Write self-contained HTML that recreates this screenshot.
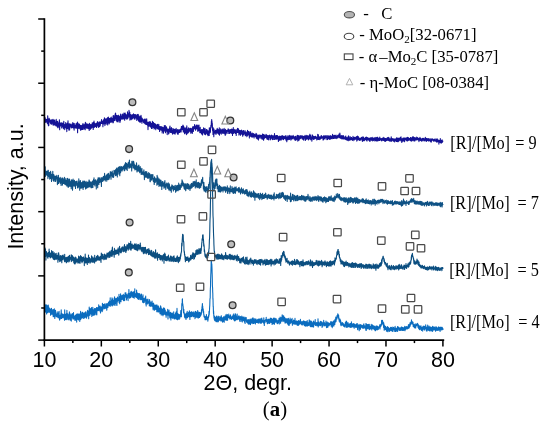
<!DOCTYPE html>
<html><head><meta charset="utf-8"><style>
html,body{margin:0;padding:0;background:#fff;width:550px;height:427px;overflow:hidden}
svg{display:block;filter:blur(0.25px)}
.tk{font-family:"Liberation Sans",Arial,sans-serif;font-size:21.5px;fill:#000}
.sf{font-family:"Liberation Serif","Times New Roman",serif;fill:#000}
</style></head><body>
<svg width="550" height="427" viewBox="0 0 550 427">
<polyline fill="none" stroke="#141296" stroke-width="1.1" stroke-linejoin="round" points="44.8,121.2 44.9,122.2 45.0,121.2 45.2,117.9 45.3,122.4 45.4,121.5 45.5,119.6 45.6,121.9 45.8,121.5 45.9,121.3 46.0,120.8 46.1,121.9 46.2,119.3 46.4,120.5 46.5,119.9 46.6,122.1 46.7,121.0 46.8,120.4 47.0,119.4 47.1,120.5 47.2,121.1 47.3,120.5 47.4,123.8 47.6,123.2 47.7,115.7 47.8,117.4 47.9,120.9 48.0,120.4 48.2,121.7 48.3,121.8 48.4,125.7 48.5,119.2 48.6,120.7 48.8,125.6 48.9,122.8 49.0,122.9 49.1,120.5 49.2,118.3 49.4,122.0 49.5,121.9 49.6,119.2 49.7,120.3 49.8,121.6 50.0,119.9 50.1,121.6 50.2,122.0 50.3,122.0 50.4,120.9 50.6,123.2 50.7,123.8 50.8,122.7 50.9,120.4 51.0,123.6 51.2,121.1 51.3,123.9 51.4,120.0 51.5,124.1 51.6,122.2 51.8,119.8 51.9,121.7 52.0,122.5 52.1,123.0 52.2,120.5 52.4,120.3 52.5,123.0 52.6,121.6 52.7,123.1 52.8,124.2 53.0,119.4 53.1,123.3 53.2,125.3 53.3,122.2 53.4,121.2 53.6,124.4 53.7,123.5 53.8,124.8 53.9,122.3 54.0,120.1 54.2,122.9 54.3,122.3 54.4,124.7 54.5,123.6 54.6,120.0 54.8,120.9 54.9,125.1 55.0,124.8 55.1,122.1 55.2,123.5 55.4,124.4 55.5,124.5 55.6,125.3 55.7,124.1 55.8,123.5 56.0,123.2 56.1,125.9 56.2,119.3 56.3,123.5 56.4,123.9 56.6,121.0 56.7,124.6 56.8,122.7 56.9,125.7 57.0,123.8 57.2,125.4 57.3,126.6 57.4,124.9 57.5,122.4 57.6,121.2 57.8,127.8 57.9,124.1 58.0,122.9 58.1,124.6 58.2,124.0 58.4,126.1 58.5,124.5 58.6,124.5 58.7,123.1 58.8,125.5 59.0,122.5 59.1,125.9 59.2,127.7 59.3,121.6 59.4,119.8 59.6,125.9 59.7,129.8 59.8,122.8 59.9,122.3 60.0,126.0 60.2,123.2 60.3,123.8 60.4,124.2 60.5,126.0 60.6,124.1 60.8,125.5 60.9,124.6 61.0,123.3 61.1,124.4 61.2,123.2 61.4,125.1 61.5,122.9 61.6,122.9 61.7,128.0 61.8,125.1 62.0,125.1 62.1,126.2 62.2,124.4 62.3,124.8 62.4,126.1 62.6,125.9 62.7,123.0 62.8,127.0 62.9,124.2 63.0,123.3 63.2,123.6 63.3,124.6 63.4,128.7 63.5,123.1 63.6,125.8 63.8,121.3 63.9,125.5 64.0,127.3 64.1,125.1 64.2,124.3 64.4,126.1 64.5,127.0 64.6,127.0 64.7,129.6 64.8,126.1 65.0,124.5 65.1,125.5 65.2,125.6 65.3,126.0 65.4,125.7 65.6,126.1 65.7,122.5 65.8,127.5 65.9,124.7 66.0,123.5 66.2,127.1 66.3,128.5 66.4,126.9 66.5,126.2 66.6,124.1 66.8,131.6 66.9,127.7 67.0,123.7 67.1,124.5 67.2,126.2 67.4,123.0 67.5,126.4 67.6,125.2 67.7,128.5 67.8,128.0 68.0,120.8 68.1,126.2 68.2,123.0 68.3,128.3 68.4,126.5 68.6,127.3 68.7,124.1 68.8,129.8 68.9,130.2 69.0,124.1 69.2,127.0 69.3,124.9 69.4,126.2 69.5,123.8 69.6,129.9 69.8,124.4 69.9,125.7 70.0,127.3 70.1,125.0 70.2,125.8 70.4,125.2 70.5,126.1 70.6,124.0 70.7,125.5 70.8,126.0 71.0,125.7 71.1,126.5 71.2,125.8 71.3,127.9 71.4,125.8 71.6,126.1 71.7,125.1 71.8,125.4 71.9,124.0 72.0,127.5 72.2,124.2 72.3,125.0 72.4,127.2 72.5,127.3 72.6,125.7 72.8,122.6 72.9,127.3 73.0,127.0 73.1,123.8 73.2,128.0 73.4,125.2 73.5,124.4 73.6,126.7 73.7,126.2 73.8,127.0 74.0,123.4 74.1,130.1 74.2,125.4 74.3,123.6 74.4,127.8 74.6,125.9 74.7,127.3 74.8,126.0 74.9,126.5 75.0,127.1 75.2,125.2 75.3,128.0 75.4,125.8 75.5,125.0 75.6,126.8 75.8,127.6 75.9,126.2 76.0,125.0 76.1,127.9 76.2,123.3 76.4,124.7 76.5,126.8 76.6,124.1 76.7,126.8 76.8,126.6 77.0,128.5 77.1,125.0 77.2,125.5 77.3,127.4 77.4,122.0 77.6,132.8 77.7,125.4 77.8,125.4 77.9,128.4 78.0,126.7 78.2,123.3 78.3,128.0 78.4,128.4 78.5,125.9 78.6,126.2 78.8,127.7 78.9,125.0 79.0,127.6 79.1,127.2 79.2,125.5 79.4,124.1 79.5,126.4 79.6,125.1 79.7,128.7 79.8,127.1 80.0,128.3 80.1,127.1 80.2,127.3 80.3,125.3 80.4,128.1 80.6,130.2 80.7,126.2 80.8,125.7 80.9,126.5 81.0,125.9 81.2,125.4 81.3,127.1 81.4,126.2 81.5,129.6 81.6,126.8 81.8,127.4 81.9,128.6 82.0,126.2 82.1,129.5 82.2,125.6 82.4,125.2 82.5,126.1 82.6,126.5 82.7,124.1 82.8,126.7 83.0,123.6 83.1,129.4 83.2,126.6 83.3,125.5 83.4,125.0 83.6,126.0 83.7,126.3 83.8,124.7 83.9,125.0 84.0,126.4 84.2,125.7 84.3,128.5 84.4,128.9 84.5,126.7 84.6,127.6 84.8,124.1 84.9,127.9 85.0,126.6 85.1,127.6 85.2,129.7 85.4,122.3 85.5,127.2 85.6,124.6 85.7,127.8 85.8,124.1 86.0,125.7 86.1,127.0 86.2,127.8 86.3,126.8 86.4,125.1 86.6,125.6 86.7,128.3 86.8,126.6 86.9,123.4 87.0,128.2 87.2,127.4 87.3,128.2 87.4,125.9 87.5,128.1 87.6,124.5 87.8,127.6 87.9,125.6 88.0,127.8 88.1,128.4 88.2,125.1 88.4,126.4 88.5,126.6 88.6,128.8 88.7,127.8 88.8,124.2 89.0,127.3 89.1,127.9 89.2,130.5 89.3,123.2 89.4,125.4 89.6,129.0 89.7,123.8 89.8,124.1 89.9,127.4 90.0,128.3 90.2,125.1 90.3,127.4 90.4,126.6 90.5,129.2 90.6,126.3 90.8,128.2 90.9,124.6 91.0,125.9 91.1,126.1 91.2,128.4 91.4,127.3 91.5,124.7 91.6,127.4 91.7,127.6 91.8,125.9 92.0,125.6 92.1,125.7 92.2,122.8 92.3,126.3 92.4,126.4 92.6,124.2 92.7,127.2 92.8,123.2 92.9,124.7 93.0,124.8 93.2,129.4 93.3,122.6 93.4,126.7 93.5,127.3 93.6,126.2 93.8,127.7 93.9,123.5 94.0,121.0 94.1,126.8 94.2,123.0 94.4,124.6 94.5,122.9 94.6,127.1 94.7,126.7 94.8,123.6 95.0,126.7 95.1,125.1 95.2,124.6 95.3,124.9 95.4,124.4 95.6,125.9 95.7,125.2 95.8,123.9 95.9,126.4 96.0,123.3 96.2,125.0 96.3,125.2 96.4,127.1 96.5,123.3 96.6,127.5 96.8,124.5 96.9,123.7 97.0,122.8 97.1,125.1 97.2,124.0 97.4,121.8 97.5,121.7 97.6,122.8 97.7,122.5 97.8,125.7 98.0,126.2 98.1,125.2 98.2,124.2 98.3,122.7 98.4,123.6 98.6,125.1 98.7,127.4 98.8,125.0 98.9,122.7 99.0,123.3 99.2,122.3 99.3,121.7 99.4,122.7 99.5,123.4 99.6,126.5 99.8,123.1 99.9,125.5 100.0,126.2 100.1,123.0 100.2,125.8 100.4,124.1 100.5,122.0 100.6,123.2 100.7,122.7 100.8,122.2 101.0,122.2 101.1,122.8 101.2,123.4 101.3,120.9 101.4,122.5 101.6,119.6 101.7,122.9 101.8,123.5 101.9,122.6 102.0,122.8 102.2,123.4 102.3,121.0 102.4,121.8 102.5,123.1 102.6,124.0 102.8,122.8 102.9,126.8 103.0,121.9 103.1,123.9 103.2,124.3 103.4,121.7 103.5,120.4 103.6,119.7 103.7,122.1 103.8,123.9 104.0,122.3 104.1,122.1 104.2,121.0 104.3,122.7 104.4,117.7 104.6,122.0 104.7,121.6 104.8,119.0 104.9,125.6 105.0,118.9 105.2,119.5 105.3,119.2 105.4,123.5 105.5,119.7 105.6,122.6 105.8,122.4 105.9,121.8 106.0,118.8 106.1,120.1 106.2,124.3 106.4,118.8 106.5,119.6 106.6,120.8 106.7,122.6 106.8,121.5 107.0,122.4 107.1,119.0 107.2,122.7 107.3,122.0 107.4,117.9 107.6,123.7 107.7,125.0 107.8,119.4 107.9,120.8 108.0,123.3 108.2,117.9 108.3,117.0 108.4,118.2 108.5,119.5 108.6,119.5 108.8,121.6 108.9,121.0 109.0,118.2 109.1,121.5 109.2,123.9 109.4,122.6 109.5,122.2 109.6,120.3 109.7,122.1 109.8,118.5 110.0,121.6 110.1,120.0 110.2,122.2 110.3,121.0 110.4,118.1 110.6,120.3 110.7,122.3 110.8,117.9 110.9,118.9 111.0,118.5 111.2,117.1 111.3,121.6 111.4,122.2 111.5,121.3 111.6,120.2 111.8,119.6 111.9,120.1 112.0,118.3 112.1,121.2 112.2,121.5 112.4,121.2 112.5,118.5 112.6,119.6 112.7,119.1 112.8,122.7 113.0,119.7 113.1,115.9 113.2,120.0 113.3,122.7 113.4,120.5 113.6,120.8 113.7,119.2 113.8,115.5 113.9,115.8 114.0,116.8 114.2,118.8 114.3,119.5 114.4,120.2 114.5,118.3 114.6,120.6 114.8,118.3 114.9,117.5 115.0,120.3 115.1,117.1 115.2,113.7 115.4,116.7 115.5,118.8 115.6,113.0 115.7,117.9 115.8,117.9 116.0,115.9 116.1,115.8 116.2,117.6 116.3,117.4 116.4,120.7 116.6,119.0 116.7,115.4 116.8,116.7 116.9,119.5 117.0,121.7 117.2,118.9 117.3,118.7 117.4,121.5 117.5,118.1 117.6,117.5 117.8,115.5 117.9,117.1 118.0,121.9 118.1,115.4 118.2,118.0 118.4,115.3 118.5,118.1 118.6,119.5 118.7,117.4 118.8,119.1 119.0,119.1 119.1,118.6 119.2,120.9 119.3,119.1 119.4,117.1 119.6,116.4 119.7,116.1 119.8,118.5 119.9,117.0 120.0,122.5 120.2,120.9 120.3,117.2 120.4,116.9 120.5,120.6 120.6,114.1 120.8,116.7 120.9,119.2 121.0,115.8 121.1,116.6 121.2,116.8 121.4,118.6 121.5,117.6 121.6,118.1 121.7,118.4 121.8,117.4 122.0,119.3 122.1,116.0 122.2,114.7 122.3,114.0 122.4,114.3 122.6,116.2 122.7,119.0 122.8,117.5 122.9,116.1 123.0,115.2 123.2,116.2 123.3,116.4 123.4,116.1 123.5,114.5 123.6,116.2 123.8,118.9 123.9,113.1 124.0,116.6 124.1,113.2 124.2,117.3 124.4,115.6 124.5,113.2 124.6,117.1 124.7,120.2 124.8,117.1 125.0,119.0 125.1,116.7 125.2,113.0 125.3,117.7 125.4,116.1 125.6,114.2 125.7,118.2 125.8,117.3 125.9,115.8 126.0,118.3 126.2,115.2 126.3,117.9 126.4,115.0 126.5,117.6 126.6,114.7 126.8,119.3 126.9,117.1 127.0,119.2 127.1,115.2 127.2,115.8 127.4,118.1 127.5,111.7 127.6,114.7 127.7,118.4 127.8,117.4 128.0,118.3 128.1,116.0 128.2,117.6 128.3,115.2 128.4,114.1 128.6,113.5 128.7,115.5 128.8,115.5 128.9,115.4 129.0,110.2 129.2,112.9 129.3,115.6 129.4,117.0 129.5,115.5 129.6,114.9 129.8,112.4 129.9,120.1 130.0,114.5 130.1,119.5 130.2,119.3 130.4,117.0 130.5,115.5 130.6,116.7 130.7,114.5 130.8,117.0 131.0,116.5 131.1,117.5 131.2,118.2 131.3,119.6 131.4,115.9 131.6,118.4 131.7,115.2 131.8,115.0 131.9,115.5 132.0,114.9 132.2,118.4 132.3,118.3 132.4,118.9 132.5,116.6 132.6,117.2 132.8,115.7 132.9,114.6 133.0,117.5 133.1,117.2 133.2,114.8 133.4,117.8 133.5,113.7 133.6,116.5 133.7,115.7 133.8,115.9 134.0,114.9 134.1,118.5 134.2,117.9 134.3,119.0 134.4,117.1 134.6,114.6 134.7,116.3 134.8,114.9 134.9,117.8 135.0,119.1 135.2,117.6 135.3,116.0 135.4,116.4 135.5,117.4 135.6,114.6 135.8,117.4 135.9,117.5 136.0,116.3 136.1,116.5 136.2,117.6 136.4,115.9 136.5,116.0 136.6,118.8 136.7,117.9 136.8,120.5 137.0,115.9 137.1,114.5 137.2,119.4 137.3,119.5 137.4,116.5 137.6,115.3 137.7,117.9 137.8,114.9 137.9,117.5 138.0,114.3 138.2,117.8 138.3,114.5 138.4,117.9 138.5,121.1 138.6,118.0 138.8,119.9 138.9,117.5 139.0,117.1 139.1,116.1 139.2,120.6 139.4,118.8 139.5,121.8 139.6,116.9 139.7,118.7 139.8,119.3 140.0,121.7 140.1,122.5 140.2,118.2 140.3,117.4 140.4,116.4 140.6,121.8 140.7,119.4 140.8,118.5 140.9,119.6 141.0,115.2 141.2,116.8 141.3,121.5 141.4,120.6 141.5,120.2 141.6,118.3 141.8,121.1 141.9,123.2 142.0,118.0 142.1,120.3 142.2,119.5 142.4,121.0 142.5,120.4 142.6,120.2 142.7,119.0 142.8,120.5 143.0,119.6 143.1,120.4 143.2,120.6 143.3,121.9 143.4,119.8 143.6,120.3 143.7,122.8 143.8,120.6 143.9,120.6 144.0,122.6 144.2,121.7 144.3,121.4 144.4,121.7 144.5,119.2 144.6,122.2 144.8,123.8 144.9,122.5 145.0,118.9 145.1,122.2 145.2,120.1 145.4,121.4 145.5,122.1 145.6,119.8 145.7,124.3 145.8,121.9 146.0,123.4 146.1,123.2 146.2,124.5 146.3,124.3 146.4,119.7 146.6,122.4 146.7,118.7 146.8,121.7 146.9,123.8 147.0,124.2 147.2,124.9 147.3,122.0 147.4,123.3 147.5,123.0 147.6,125.1 147.8,125.7 147.9,122.4 148.0,129.6 148.1,123.1 148.2,122.5 148.4,124.2 148.5,124.6 148.6,124.3 148.7,122.2 148.8,126.0 149.0,123.6 149.1,126.2 149.2,126.0 149.3,121.5 149.4,122.0 149.6,122.0 149.7,124.3 149.8,124.0 149.9,124.4 150.0,122.6 150.2,124.8 150.3,126.5 150.4,121.9 150.5,123.9 150.6,124.7 150.8,124.1 150.9,124.0 151.0,127.5 151.1,126.7 151.2,126.0 151.4,123.3 151.5,128.5 151.6,125.3 151.7,123.7 151.8,124.2 152.0,124.0 152.1,128.5 152.2,125.3 152.3,125.1 152.4,121.4 152.6,126.4 152.7,123.3 152.8,123.3 152.9,126.3 153.0,123.8 153.2,126.8 153.3,127.4 153.4,122.4 153.5,125.3 153.6,122.9 153.8,125.5 153.9,127.3 154.0,123.4 154.1,128.9 154.2,125.3 154.4,123.9 154.5,125.8 154.6,127.4 154.7,123.7 154.8,126.1 155.0,123.8 155.1,128.3 155.2,126.6 155.3,125.6 155.4,128.2 155.6,124.3 155.7,125.8 155.8,129.7 155.9,126.4 156.0,129.0 156.2,127.1 156.3,125.6 156.4,126.4 156.5,127.0 156.6,126.2 156.8,125.6 156.9,125.7 157.0,124.6 157.1,127.3 157.2,127.9 157.4,128.5 157.5,124.2 157.6,128.7 157.7,127.4 157.8,125.0 158.0,127.7 158.1,128.9 158.2,128.5 158.3,128.9 158.4,129.3 158.6,129.3 158.7,127.7 158.8,124.3 158.9,126.6 159.0,128.6 159.2,127.2 159.3,129.2 159.4,129.4 159.5,128.2 159.6,131.4 159.8,126.6 159.9,129.9 160.0,127.5 160.1,127.0 160.2,129.4 160.4,127.4 160.5,129.9 160.6,126.6 160.7,128.6 160.8,127.2 161.0,128.3 161.1,128.1 161.2,126.8 161.3,129.9 161.4,126.7 161.6,127.2 161.7,130.4 161.8,130.6 161.9,130.1 162.0,129.6 162.2,132.9 162.3,127.0 162.4,127.8 162.5,127.4 162.6,130.7 162.8,129.7 162.9,131.1 163.0,130.9 163.1,128.9 163.2,127.9 163.4,127.7 163.5,133.1 163.6,131.0 163.7,130.4 163.8,128.9 164.0,129.2 164.1,128.9 164.2,129.0 164.3,125.5 164.4,129.5 164.6,129.0 164.7,130.2 164.8,130.1 164.9,131.2 165.0,129.8 165.2,131.1 165.3,125.5 165.4,128.0 165.5,132.8 165.6,127.9 165.8,129.5 165.9,131.2 166.0,128.5 166.1,131.3 166.2,127.7 166.4,126.9 166.5,127.9 166.6,127.4 166.7,130.2 166.8,129.7 167.0,130.8 167.1,128.5 167.2,134.6 167.3,130.2 167.4,130.3 167.6,131.2 167.7,130.0 167.8,129.4 167.9,130.6 168.0,132.0 168.2,131.6 168.3,132.1 168.4,129.6 168.5,129.3 168.6,134.0 168.8,130.2 168.9,131.5 169.0,131.9 169.1,133.1 169.2,128.5 169.4,130.0 169.5,130.1 169.6,130.3 169.7,126.8 169.8,130.7 170.0,126.0 170.1,131.4 170.2,131.8 170.3,131.9 170.4,128.9 170.6,132.5 170.7,129.5 170.8,128.9 170.9,129.4 171.0,129.6 171.2,131.3 171.3,132.4 171.4,127.6 171.5,130.2 171.6,132.6 171.8,131.4 171.9,132.0 172.0,128.6 172.1,132.7 172.2,128.5 172.4,131.5 172.5,133.4 172.6,134.3 172.7,132.0 172.8,132.6 173.0,130.2 173.1,130.4 173.2,133.1 173.3,131.2 173.4,131.0 173.6,128.9 173.7,131.4 173.8,132.3 173.9,129.9 174.0,130.4 174.2,133.8 174.3,131.5 174.4,130.7 174.5,129.3 174.6,130.2 174.8,130.8 174.9,133.4 175.0,130.2 175.1,134.1 175.2,129.6 175.4,130.6 175.5,132.6 175.6,130.8 175.7,129.8 175.8,130.9 176.0,131.9 176.1,128.3 176.2,130.7 176.3,131.0 176.4,130.5 176.6,132.3 176.7,130.2 176.8,130.5 176.9,131.2 177.0,132.3 177.2,130.7 177.3,133.6 177.4,129.6 177.5,133.2 177.6,129.7 177.8,130.8 177.9,131.7 178.0,134.4 178.1,132.5 178.2,130.4 178.4,133.2 178.5,130.7 178.6,129.7 178.7,131.7 178.8,131.1 179.0,132.5 179.1,130.1 179.2,131.6 179.3,132.0 179.4,131.4 179.6,130.9 179.7,129.8 179.8,132.4 179.9,131.1 180.0,131.7 180.2,130.2 180.3,130.8 180.4,129.0 180.5,130.8 180.6,131.8 180.8,130.5 180.9,131.6 181.0,130.5 181.1,132.0 181.2,129.2 181.4,126.5 181.5,129.6 181.6,128.2 181.7,126.5 181.8,128.8 182.0,127.9 182.1,127.9 182.2,126.4 182.3,127.1 182.4,127.2 182.6,129.7 182.7,125.9 182.8,127.3 182.9,128.2 183.0,125.1 183.2,125.7 183.3,132.1 183.4,126.1 183.5,130.2 183.6,128.1 183.8,128.5 183.9,126.7 184.0,128.6 184.1,131.5 184.2,128.1 184.4,131.4 184.5,131.0 184.6,133.8 184.7,129.8 184.8,132.6 185.0,132.0 185.1,130.1 185.2,127.9 185.3,133.0 185.4,128.4 185.6,129.8 185.7,132.0 185.8,132.4 185.9,129.2 186.0,130.5 186.2,130.1 186.3,132.4 186.4,134.6 186.5,127.6 186.6,132.0 186.8,125.9 186.9,130.5 187.0,128.7 187.1,133.7 187.2,130.8 187.4,129.3 187.5,129.7 187.6,129.6 187.7,130.8 187.8,130.2 188.0,131.5 188.1,133.0 188.2,131.6 188.3,128.5 188.4,127.9 188.6,129.2 188.7,132.2 188.8,129.9 188.9,129.4 189.0,130.7 189.2,128.2 189.3,128.6 189.4,131.2 189.5,129.9 189.6,129.7 189.8,130.9 189.9,129.4 190.0,129.3 190.1,129.6 190.2,131.3 190.4,130.4 190.5,128.4 190.6,129.8 190.7,131.3 190.8,133.2 191.0,128.3 191.1,130.7 191.2,129.7 191.3,131.4 191.4,130.7 191.6,132.3 191.7,130.8 191.8,129.0 191.9,128.9 192.0,130.4 192.2,130.3 192.3,133.4 192.4,132.2 192.5,127.6 192.6,129.9 192.8,127.1 192.9,126.5 193.0,130.3 193.1,129.8 193.2,127.2 193.4,131.4 193.5,127.1 193.6,126.7 193.7,129.5 193.8,128.7 194.0,127.9 194.1,128.0 194.2,128.3 194.3,127.6 194.4,127.5 194.6,124.6 194.7,125.4 194.8,128.4 194.9,126.2 195.0,128.1 195.2,129.1 195.3,126.5 195.4,127.4 195.5,130.2 195.6,128.0 195.8,129.8 195.9,129.2 196.0,128.0 196.1,126.6 196.2,125.4 196.4,125.0 196.5,127.5 196.6,127.5 196.7,126.5 196.8,128.2 197.0,125.9 197.1,128.7 197.2,127.1 197.3,127.0 197.4,127.2 197.6,127.1 197.7,131.3 197.8,125.0 197.9,127.9 198.0,129.7 198.2,129.0 198.3,127.5 198.4,130.9 198.5,126.6 198.6,126.4 198.8,129.5 198.9,126.4 199.0,125.1 199.1,130.4 199.2,130.4 199.4,130.5 199.5,128.7 199.6,129.9 199.7,128.2 199.8,132.6 200.0,131.2 200.1,131.3 200.2,127.2 200.3,131.6 200.4,132.8 200.6,132.5 200.7,131.9 200.8,130.8 200.9,130.3 201.0,131.9 201.2,131.7 201.3,131.5 201.4,130.7 201.5,133.9 201.6,129.5 201.8,131.4 201.9,130.6 202.0,133.1 202.1,133.8 202.2,133.6 202.4,132.8 202.5,129.5 202.6,135.0 202.7,132.6 202.8,131.6 203.0,131.8 203.1,131.3 203.2,132.5 203.3,132.4 203.4,131.3 203.6,127.9 203.7,131.9 203.8,132.7 203.9,132.8 204.0,131.7 204.2,132.7 204.3,133.6 204.4,131.2 204.5,134.3 204.6,128.9 204.8,130.0 204.9,130.6 205.0,128.2 205.1,130.4 205.2,133.9 205.4,133.9 205.5,132.1 205.6,134.7 205.7,132.4 205.8,131.2 206.0,132.4 206.1,131.8 206.2,133.1 206.3,129.6 206.4,133.5 206.6,131.3 206.7,133.3 206.8,129.6 206.9,131.3 207.0,132.1 207.2,133.4 207.3,130.1 207.4,134.6 207.5,132.7 207.6,131.1 207.8,133.9 207.9,132.1 208.0,133.8 208.1,135.6 208.2,133.1 208.4,131.1 208.5,131.3 208.6,132.8 208.7,132.4 208.8,130.6 209.0,130.9 209.1,132.9 209.2,135.5 209.3,127.8 209.4,133.0 209.6,131.5 209.7,133.0 209.8,133.0 209.9,131.6 210.0,129.8 210.2,128.9 210.3,127.8 210.4,132.2 210.5,129.4 210.6,128.2 210.8,127.9 210.9,125.3 211.0,126.9 211.1,127.5 211.2,126.3 211.4,121.3 211.5,125.1 211.6,121.4 211.7,119.6 211.8,120.8 212.0,121.8 212.1,124.0 212.2,123.3 212.3,123.5 212.4,126.4 212.6,130.7 212.7,127.5 212.8,130.0 212.9,130.1 213.0,134.5 213.2,127.9 213.3,132.9 213.4,129.4 213.5,130.7 213.6,131.5 213.8,136.7 213.9,130.7 214.0,129.0 214.1,133.9 214.2,130.6 214.4,131.5 214.5,131.9 214.6,132.1 214.7,131.7 214.8,132.4 215.0,132.5 215.1,133.3 215.2,131.3 215.3,130.8 215.4,130.3 215.6,132.9 215.7,131.9 215.8,132.8 215.9,132.8 216.0,134.5 216.2,132.3 216.3,133.1 216.4,130.1 216.5,130.3 216.6,131.5 216.8,130.1 216.9,133.0 217.0,129.9 217.1,132.1 217.2,128.2 217.4,130.3 217.5,131.5 217.6,131.6 217.7,129.2 217.8,132.1 218.0,133.4 218.1,132.9 218.2,131.0 218.3,131.1 218.4,130.1 218.6,132.9 218.7,134.1 218.8,131.1 218.9,129.3 219.0,132.2 219.2,133.0 219.3,127.7 219.4,132.1 219.5,135.1 219.6,133.1 219.8,132.7 219.9,132.4 220.0,133.4 220.1,130.4 220.2,130.5 220.4,132.4 220.5,130.7 220.6,132.1 220.7,128.8 220.8,132.9 221.0,133.0 221.1,131.7 221.2,131.9 221.3,134.1 221.4,130.0 221.6,130.2 221.7,130.0 221.8,130.9 221.9,130.0 222.0,131.6 222.2,130.6 222.3,129.3 222.4,129.2 222.5,133.3 222.6,131.4 222.8,131.1 222.9,131.5 223.0,131.3 223.1,132.6 223.2,132.2 223.4,130.5 223.5,130.1 223.6,129.7 223.7,129.4 223.8,133.4 224.0,129.9 224.1,128.2 224.2,130.0 224.3,130.1 224.4,131.7 224.6,129.9 224.7,132.0 224.8,131.8 224.9,133.1 225.0,134.4 225.2,135.4 225.3,133.2 225.4,129.4 225.5,130.5 225.6,131.5 225.8,134.2 225.9,132.1 226.0,132.9 226.1,130.8 226.2,131.9 226.4,132.1 226.5,130.4 226.6,132.2 226.7,132.6 226.8,130.8 227.0,132.5 227.1,133.5 227.2,131.1 227.3,131.0 227.4,130.5 227.6,130.1 227.7,131.2 227.8,130.4 227.9,130.5 228.0,129.8 228.2,128.7 228.3,129.6 228.4,131.5 228.5,129.2 228.6,130.0 228.8,133.5 228.9,132.7 229.0,130.0 229.1,131.9 229.2,130.0 229.4,133.4 229.5,130.2 229.6,131.2 229.7,133.1 229.8,129.8 230.0,133.0 230.1,129.8 230.2,131.4 230.3,130.6 230.4,130.9 230.6,131.3 230.7,131.0 230.8,129.6 230.9,132.4 231.0,132.2 231.2,133.0 231.3,133.2 231.4,129.1 231.5,133.0 231.6,133.1 231.8,130.4 231.9,132.7 232.0,133.4 232.1,130.4 232.2,129.2 232.4,130.7 232.5,135.4 232.6,131.6 232.7,129.4 232.8,130.9 233.0,129.8 233.1,130.7 233.2,131.4 233.3,127.5 233.4,131.8 233.6,133.4 233.7,131.0 233.8,130.8 233.9,133.0 234.0,129.5 234.2,129.6 234.3,129.4 234.4,131.2 234.5,132.0 234.6,131.3 234.8,132.3 234.9,132.7 235.0,132.2 235.1,130.3 235.2,131.1 235.4,133.4 235.5,130.0 235.6,131.2 235.7,131.0 235.8,131.3 236.0,130.0 236.1,129.6 236.2,135.4 236.3,133.0 236.4,130.6 236.6,131.6 236.7,132.7 236.8,131.2 236.9,132.6 237.0,130.8 237.2,131.2 237.3,131.7 237.4,131.1 237.5,128.2 237.6,131.9 237.8,132.2 237.9,132.5 238.0,130.4 238.1,132.4 238.2,132.2 238.4,129.3 238.5,128.7 238.6,132.6 238.7,130.6 238.8,133.4 239.0,135.1 239.1,131.2 239.2,131.0 239.3,132.0 239.4,133.0 239.6,130.4 239.7,133.9 239.8,133.6 239.9,133.1 240.0,131.4 240.2,133.5 240.3,133.4 240.4,130.5 240.5,135.3 240.6,131.8 240.8,132.8 240.9,131.5 241.0,132.9 241.1,134.0 241.2,131.2 241.4,130.0 241.5,131.8 241.6,130.5 241.7,131.4 241.8,132.3 242.0,132.4 242.1,134.4 242.2,131.1 242.3,133.1 242.4,131.9 242.6,134.6 242.7,136.3 242.8,133.1 242.9,135.2 243.0,132.0 243.2,130.5 243.3,131.0 243.4,130.6 243.5,131.5 243.6,132.6 243.8,134.6 243.9,134.0 244.0,133.7 244.1,132.4 244.2,132.0 244.4,133.1 244.5,133.3 244.6,133.5 244.7,133.7 244.8,133.0 245.0,130.5 245.1,131.7 245.2,132.1 245.3,135.8 245.4,132.7 245.6,134.4 245.7,135.5 245.8,133.9 245.9,132.9 246.0,133.1 246.2,132.1 246.3,134.0 246.4,135.2 246.5,134.4 246.6,134.8 246.8,134.7 246.9,136.6 247.0,132.8 247.1,134.0 247.2,134.8 247.4,135.6 247.5,130.4 247.6,133.1 247.7,133.6 247.8,132.5 248.0,135.2 248.1,134.3 248.2,133.5 248.3,131.7 248.4,132.2 248.6,132.7 248.7,134.8 248.8,132.4 248.9,131.2 249.0,132.1 249.2,133.4 249.3,136.7 249.4,137.9 249.5,133.6 249.6,135.7 249.8,136.4 249.9,136.2 250.0,134.3 250.1,132.6 250.2,133.8 250.4,131.9 250.5,134.9 250.6,135.7 250.7,131.9 250.8,134.6 251.0,135.1 251.1,136.5 251.2,136.7 251.3,135.9 251.4,133.8 251.6,134.3 251.7,136.6 251.8,134.0 251.9,134.8 252.0,137.1 252.2,135.1 252.3,133.0 252.4,134.6 252.5,136.0 252.6,134.8 252.8,136.8 252.9,137.0 253.0,134.3 253.1,134.5 253.2,135.1 253.4,133.6 253.5,135.8 253.6,135.1 253.7,136.5 253.8,134.5 254.0,134.2 254.1,138.0 254.2,134.2 254.3,134.7 254.4,134.5 254.6,135.1 254.7,134.3 254.8,135.5 254.9,134.6 255.0,135.1 255.2,136.2 255.3,136.7 255.4,136.4 255.5,134.7 255.6,136.4 255.8,135.7 255.9,135.7 256.0,133.4 256.1,136.8 256.2,135.7 256.4,138.3 256.5,136.9 256.6,134.4 256.7,134.1 256.8,137.6 257.0,134.8 257.1,137.0 257.2,135.7 257.3,139.1 257.4,136.2 257.6,138.3 257.7,138.0 257.8,135.5 257.9,135.7 258.0,138.3 258.2,136.2 258.3,135.0 258.4,137.9 258.5,139.9 258.6,136.2 258.8,138.3 258.9,136.1 259.0,138.2 259.1,136.0 259.2,138.2 259.4,137.1 259.5,136.1 259.6,136.7 259.7,135.7 259.8,134.9 260.0,135.0 260.1,136.4 260.2,135.0 260.3,137.1 260.4,137.2 260.6,137.2 260.7,135.8 260.8,136.6 260.9,136.5 261.0,138.4 261.2,135.4 261.3,136.0 261.4,136.2 261.5,136.4 261.6,135.5 261.8,135.7 261.9,138.0 262.0,135.7 262.1,137.9 262.2,139.5 262.4,138.4 262.5,134.1 262.6,137.7 262.7,137.3 262.8,137.4 263.0,134.4 263.1,137.7 263.2,135.2 263.3,138.5 263.4,138.2 263.6,140.3 263.7,136.2 263.8,134.6 263.9,138.2 264.0,138.0 264.2,136.2 264.3,138.7 264.4,137.7 264.5,135.0 264.6,136.3 264.8,136.2 264.9,136.7 265.0,137.1 265.1,135.9 265.2,136.6 265.4,137.6 265.5,136.7 265.6,136.5 265.7,136.4 265.8,136.7 266.0,134.2 266.1,137.1 266.2,135.5 266.3,137.0 266.4,134.9 266.6,138.2 266.7,137.2 266.8,135.1 266.9,137.3 267.0,135.9 267.2,139.4 267.3,137.6 267.4,135.9 267.5,137.3 267.6,136.9 267.8,138.6 267.9,137.5 268.0,137.7 268.1,135.5 268.2,138.1 268.4,139.9 268.5,137.9 268.6,137.0 268.7,137.3 268.8,135.7 269.0,137.3 269.1,135.6 269.2,137.1 269.3,136.6 269.4,136.0 269.6,137.9 269.7,135.1 269.8,137.1 269.9,135.3 270.0,139.6 270.2,139.8 270.3,138.3 270.4,139.7 270.5,138.0 270.6,137.9 270.8,136.6 270.9,135.9 271.0,137.4 271.1,136.5 271.2,136.6 271.4,138.2 271.5,137.0 271.6,135.1 271.7,136.9 271.8,136.2 272.0,136.8 272.1,135.7 272.2,138.9 272.3,139.8 272.4,135.7 272.6,138.1 272.7,138.1 272.8,135.8 272.9,137.4 273.0,139.2 273.2,138.4 273.3,139.5 273.4,135.7 273.5,136.3 273.6,137.7 273.8,137.8 273.9,137.3 274.0,136.8 274.1,136.8 274.2,136.5 274.4,137.9 274.5,133.6 274.6,139.5 274.7,136.6 274.8,135.4 275.0,138.1 275.1,135.5 275.2,137.9 275.3,136.8 275.4,138.2 275.6,138.4 275.7,139.1 275.8,136.7 275.9,137.0 276.0,137.4 276.2,135.5 276.3,138.2 276.4,137.6 276.5,135.6 276.6,139.0 276.8,139.3 276.9,135.6 277.0,138.2 277.1,139.1 277.2,138.6 277.4,136.1 277.5,135.6 277.6,137.3 277.7,136.8 277.8,137.4 278.0,137.3 278.1,138.2 278.2,136.7 278.3,137.3 278.4,141.5 278.6,137.3 278.7,138.5 278.8,137.9 278.9,137.8 279.0,136.3 279.2,138.2 279.3,137.4 279.4,138.6 279.5,140.3 279.6,137.8 279.8,138.5 279.9,136.1 280.0,137.7 280.1,139.6 280.2,137.5 280.4,136.7 280.5,137.8 280.6,137.3 280.7,137.2 280.8,137.1 281.0,140.2 281.1,136.4 281.2,137.0 281.3,136.8 281.4,139.2 281.6,137.2 281.7,139.3 281.8,137.8 281.9,137.6 282.0,135.6 282.2,139.2 282.3,138.3 282.4,138.1 282.5,137.4 282.6,137.1 282.8,135.9 282.9,138.9 283.0,138.0 283.1,137.1 283.2,136.8 283.4,137.8 283.5,137.5 283.6,139.8 283.7,138.7 283.8,136.9 284.0,136.2 284.1,137.3 284.2,136.4 284.3,137.8 284.4,138.2 284.6,138.5 284.7,138.2 284.8,137.4 284.9,138.5 285.0,136.5 285.2,137.6 285.3,138.8 285.4,138.1 285.5,136.0 285.6,136.2 285.8,135.6 285.9,140.1 286.0,135.7 286.1,137.5 286.2,140.1 286.4,139.1 286.5,139.5 286.6,137.1 286.7,138.7 286.8,141.7 287.0,137.7 287.1,138.3 287.2,137.3 287.3,137.7 287.4,138.2 287.6,139.6 287.7,136.6 287.8,135.9 287.9,137.8 288.0,138.0 288.2,139.6 288.3,138.7 288.4,136.9 288.5,138.5 288.6,139.2 288.8,138.1 288.9,137.3 289.0,138.7 289.1,137.3 289.2,135.3 289.4,139.5 289.5,136.1 289.6,137.3 289.7,137.4 289.8,137.3 290.0,137.4 290.1,135.9 290.2,138.5 290.3,137.8 290.4,137.8 290.6,139.2 290.7,139.2 290.8,139.5 290.9,140.2 291.0,138.4 291.2,135.8 291.3,138.1 291.4,137.8 291.5,137.9 291.6,137.0 291.8,136.6 291.9,138.8 292.0,139.1 292.1,136.4 292.2,138.5 292.4,137.6 292.5,137.3 292.6,138.7 292.7,137.7 292.8,137.1 293.0,137.9 293.1,135.2 293.2,137.0 293.3,137.2 293.4,136.0 293.6,138.0 293.7,138.2 293.8,137.0 293.9,137.6 294.0,138.7 294.2,139.2 294.3,136.8 294.4,138.3 294.5,139.2 294.6,137.8 294.8,136.8 294.9,136.8 295.0,137.4 295.1,136.5 295.2,140.4 295.4,137.1 295.5,138.3 295.6,138.0 295.7,138.6 295.8,137.3 296.0,136.1 296.1,139.9 296.2,137.7 296.3,138.0 296.4,138.1 296.6,139.4 296.7,138.8 296.8,139.3 296.9,138.9 297.0,138.0 297.2,138.1 297.3,136.8 297.4,135.3 297.5,137.5 297.6,136.4 297.8,141.1 297.9,139.8 298.0,139.3 298.1,137.1 298.2,140.4 298.4,135.6 298.5,136.3 298.6,136.8 298.7,136.6 298.8,138.0 299.0,138.0 299.1,140.2 299.2,139.1 299.3,139.4 299.4,138.3 299.6,137.6 299.7,136.9 299.8,135.9 299.9,136.7 300.0,137.3 300.2,138.8 300.3,135.6 300.4,136.1 300.5,138.1 300.6,136.5 300.8,138.2 300.9,137.3 301.0,136.8 301.1,136.1 301.2,137.7 301.4,136.9 301.5,137.0 301.6,137.0 301.7,138.0 301.8,138.0 302.0,135.6 302.1,137.6 302.2,138.3 302.3,139.1 302.4,138.8 302.6,138.1 302.7,136.3 302.8,136.8 302.9,138.9 303.0,136.9 303.2,139.1 303.3,139.4 303.4,136.4 303.5,138.3 303.6,137.6 303.8,140.3 303.9,138.8 304.0,137.1 304.1,138.3 304.2,136.6 304.4,137.6 304.5,138.0 304.6,138.0 304.7,138.2 304.8,136.6 305.0,135.4 305.1,137.3 305.2,136.6 305.3,136.9 305.4,140.5 305.6,139.2 305.7,137.5 305.8,136.0 305.9,136.1 306.0,138.2 306.2,139.1 306.3,137.4 306.4,137.9 306.5,138.1 306.6,139.1 306.8,135.4 306.9,138.0 307.0,138.3 307.1,139.0 307.2,138.3 307.4,136.4 307.5,137.0 307.6,135.8 307.7,138.0 307.8,138.0 308.0,138.4 308.1,136.5 308.2,136.3 308.3,139.7 308.4,138.0 308.6,139.9 308.7,138.3 308.8,135.9 308.9,138.7 309.0,139.3 309.2,137.2 309.3,135.3 309.4,138.6 309.5,137.6 309.6,138.1 309.8,134.4 309.9,138.3 310.0,134.3 310.1,136.6 310.2,138.8 310.4,135.5 310.5,135.4 310.6,137.2 310.7,139.8 310.8,139.7 311.0,137.0 311.1,139.0 311.2,138.4 311.3,138.0 311.4,138.2 311.6,136.8 311.7,138.7 311.8,139.0 311.9,141.1 312.0,138.8 312.2,134.7 312.3,136.2 312.4,138.1 312.5,137.8 312.6,135.4 312.8,137.5 312.9,137.3 313.0,137.6 313.1,137.5 313.2,138.8 313.4,139.5 313.5,138.5 313.6,136.3 313.7,136.6 313.8,136.9 314.0,137.6 314.1,137.2 314.2,137.3 314.3,136.5 314.4,138.9 314.6,138.7 314.7,138.9 314.8,137.6 314.9,138.2 315.0,136.6 315.2,136.4 315.3,137.0 315.4,138.4 315.5,137.5 315.6,136.3 315.8,137.8 315.9,138.2 316.0,137.9 316.1,136.8 316.2,137.7 316.4,137.1 316.5,137.3 316.6,137.6 316.7,138.6 316.8,139.9 317.0,139.6 317.1,138.4 317.2,137.2 317.3,137.3 317.4,137.3 317.6,139.1 317.7,134.3 317.8,138.0 317.9,135.2 318.0,137.6 318.2,139.3 318.3,136.5 318.4,134.9 318.5,139.2 318.6,139.5 318.8,138.3 318.9,139.2 319.0,136.7 319.1,139.1 319.2,139.7 319.4,138.4 319.5,138.0 319.6,139.2 319.7,139.0 319.8,136.7 320.0,139.3 320.1,138.5 320.2,137.8 320.3,139.2 320.4,138.8 320.6,138.5 320.7,137.0 320.8,138.6 320.9,136.3 321.0,137.5 321.2,135.6 321.3,135.5 321.4,138.2 321.5,137.5 321.6,137.7 321.8,138.3 321.9,138.0 322.0,136.5 322.1,137.7 322.2,137.5 322.4,137.0 322.5,137.5 322.6,137.2 322.7,136.8 322.8,137.2 323.0,137.9 323.1,140.1 323.2,136.6 323.3,138.2 323.4,135.8 323.6,139.5 323.7,137.2 323.8,137.8 323.9,139.1 324.0,138.8 324.2,135.8 324.3,138.3 324.4,137.3 324.5,138.3 324.6,137.8 324.8,138.5 324.9,137.9 325.0,137.4 325.1,139.0 325.2,135.7 325.4,137.1 325.5,136.4 325.6,137.4 325.7,137.1 325.8,137.4 326.0,137.0 326.1,137.0 326.2,135.6 326.3,137.5 326.4,137.9 326.6,136.8 326.7,136.8 326.8,136.8 326.9,139.6 327.0,137.8 327.2,138.0 327.3,137.2 327.4,137.0 327.5,136.5 327.6,139.4 327.8,135.5 327.9,137.9 328.0,137.5 328.1,137.2 328.2,135.7 328.4,136.1 328.5,138.7 328.6,136.7 328.7,138.6 328.8,138.3 329.0,138.2 329.1,138.4 329.2,136.1 329.3,137.0 329.4,138.3 329.6,136.0 329.7,139.5 329.8,136.8 329.9,137.4 330.0,136.3 330.2,137.9 330.3,136.6 330.4,137.2 330.5,136.1 330.6,138.9 330.8,135.5 330.9,138.0 331.0,137.7 331.1,138.0 331.2,136.2 331.4,138.7 331.5,138.6 331.6,137.6 331.7,137.8 331.8,137.2 332.0,138.2 332.1,136.4 332.2,138.0 332.3,137.8 332.4,135.7 332.6,134.2 332.7,137.2 332.8,137.1 332.9,138.7 333.0,137.3 333.2,136.7 333.3,135.6 333.4,137.1 333.5,136.5 333.6,135.9 333.8,137.0 333.9,138.4 334.0,137.2 334.1,135.8 334.2,137.4 334.4,135.7 334.5,135.2 334.6,137.6 334.7,136.3 334.8,138.2 335.0,137.3 335.1,135.9 335.2,137.1 335.3,138.4 335.4,136.6 335.6,135.5 335.7,136.0 335.8,135.8 335.9,135.3 336.0,135.2 336.2,137.2 336.3,138.0 336.4,136.2 336.5,137.5 336.6,137.7 336.8,138.6 336.9,136.4 337.0,136.1 337.1,137.0 337.2,136.6 337.4,136.9 337.5,138.0 337.6,136.0 337.7,136.8 337.8,135.4 338.0,136.3 338.1,135.7 338.2,135.6 338.3,136.3 338.4,136.0 338.6,136.9 338.7,137.5 338.8,134.8 338.9,137.7 339.0,134.0 339.2,136.9 339.3,137.4 339.4,135.8 339.5,136.4 339.6,135.7 339.8,137.7 339.9,133.0 340.0,135.6 340.1,134.5 340.2,137.0 340.4,138.3 340.5,138.2 340.6,137.6 340.7,137.2 340.8,136.0 341.0,138.3 341.1,137.7 341.2,136.0 341.3,135.5 341.4,136.3 341.6,138.3 341.7,138.5 341.8,139.0 341.9,136.3 342.0,136.8 342.2,138.8 342.3,137.5 342.4,138.2 342.5,135.8 342.6,136.9 342.8,137.3 342.9,137.0 343.0,136.9 343.1,135.5 343.2,139.3 343.4,137.6 343.5,135.8 343.6,138.8 343.7,137.6 343.8,138.4 344.0,137.4 344.1,136.7 344.2,136.8 344.3,138.1 344.4,138.6 344.6,138.3 344.7,138.5 344.8,139.1 344.9,138.1 345.0,138.9 345.2,139.1 345.3,138.1 345.4,137.7 345.5,137.3 345.6,136.5 345.8,136.1 345.9,139.4 346.0,137.9 346.1,137.3 346.2,139.7 346.4,139.1 346.5,138.0 346.6,139.1 346.7,137.8 346.8,138.4 347.0,140.1 347.1,139.3 347.2,137.7 347.3,138.9 347.4,139.4 347.6,138.0 347.7,137.6 347.8,140.3 347.9,137.8 348.0,136.7 348.2,138.3 348.3,140.8 348.4,138.9 348.5,139.3 348.6,135.8 348.8,137.7 348.9,139.7 349.0,137.9 349.1,139.8 349.2,138.9 349.4,138.8 349.5,140.3 349.6,137.8 349.7,137.9 349.8,138.5 350.0,138.7 350.1,136.5 350.2,139.8 350.3,138.7 350.4,138.3 350.6,139.2 350.7,138.0 350.8,139.9 350.9,138.6 351.0,139.3 351.2,137.5 351.3,138.2 351.4,139.0 351.5,137.5 351.6,137.8 351.8,138.5 351.9,139.8 352.0,139.5 352.1,139.6 352.2,139.0 352.4,139.6 352.5,140.4 352.6,138.8 352.7,139.1 352.8,139.3 353.0,136.4 353.1,138.6 353.2,139.1 353.3,139.5 353.4,138.3 353.6,139.8 353.7,138.0 353.8,138.5 353.9,140.6 354.0,137.2 354.2,138.6 354.3,138.6 354.4,138.6 354.5,138.1 354.6,139.4 354.8,137.5 354.9,137.3 355.0,139.3 355.1,137.4 355.2,139.2 355.4,138.8 355.5,138.0 355.6,138.4 355.7,138.6 355.8,139.2 356.0,138.0 356.1,138.5 356.2,137.2 356.3,138.5 356.4,136.6 356.6,138.7 356.7,138.3 356.8,141.1 356.9,140.2 357.0,138.6 357.2,139.8 357.3,139.1 357.4,137.5 357.5,136.1 357.6,140.0 357.8,139.2 357.9,136.6 358.0,139.5 358.1,139.8 358.2,138.0 358.4,139.7 358.5,136.9 358.6,138.6 358.7,138.8 358.8,139.7 359.0,139.3 359.1,139.1 359.2,139.4 359.3,138.1 359.4,140.5 359.6,138.5 359.7,139.7 359.8,138.8 359.9,138.6 360.0,139.5 360.2,139.3 360.3,140.3 360.4,140.0 360.5,138.2 360.6,139.4 360.8,139.0 360.9,138.0 361.0,137.7 361.1,139.2 361.2,138.3 361.4,137.4 361.5,138.8 361.6,139.2 361.7,139.0 361.8,137.6 362.0,138.3 362.1,140.4 362.2,138.1 362.3,138.6 362.4,141.5 362.6,139.3 362.7,138.4 362.8,136.8 362.9,139.3 363.0,137.4 363.2,138.9 363.3,138.0 363.4,137.1 363.5,140.8 363.6,138.9 363.8,140.0 363.9,139.8 364.0,138.2 364.1,139.1 364.2,138.6 364.4,140.0 364.5,139.5 364.6,138.6 364.7,140.8 364.8,139.6 365.0,139.5 365.1,138.2 365.2,139.5 365.3,137.4 365.4,139.5 365.6,138.0 365.7,139.2 365.8,138.7 365.9,139.3 366.0,139.4 366.2,139.0 366.3,139.0 366.4,137.5 366.5,137.0 366.6,140.4 366.8,139.7 366.9,137.5 367.0,141.1 367.1,138.3 367.2,139.6 367.4,139.6 367.5,139.2 367.6,139.8 367.7,137.6 367.8,139.1 368.0,138.8 368.1,139.2 368.2,138.8 368.3,138.4 368.4,138.3 368.6,140.1 368.7,138.2 368.8,139.5 368.9,139.5 369.0,139.0 369.2,139.6 369.3,139.7 369.4,138.6 369.5,139.5 369.6,141.2 369.8,138.0 369.9,138.9 370.0,138.4 370.1,141.3 370.2,137.7 370.4,139.2 370.5,140.2 370.6,138.3 370.7,139.1 370.8,138.5 371.0,137.8 371.1,139.1 371.2,139.7 371.3,138.8 371.4,139.4 371.6,140.0 371.7,140.5 371.8,137.9 371.9,139.9 372.0,138.6 372.2,137.2 372.3,138.4 372.4,139.9 372.5,139.6 372.6,138.1 372.8,141.0 372.9,139.7 373.0,139.2 373.1,138.7 373.2,139.7 373.4,138.9 373.5,140.5 373.6,139.6 373.7,139.9 373.8,139.0 374.0,137.7 374.1,139.9 374.2,138.2 374.3,139.2 374.4,139.3 374.6,138.5 374.7,140.3 374.8,137.8 374.9,140.9 375.0,138.7 375.2,140.4 375.3,140.7 375.4,138.4 375.5,138.6 375.6,140.3 375.8,139.6 375.9,139.4 376.0,137.4 376.1,137.6 376.2,139.9 376.4,140.9 376.5,138.6 376.6,138.5 376.7,139.6 376.8,139.9 377.0,140.0 377.1,138.9 377.2,137.4 377.3,140.9 377.4,138.9 377.6,140.7 377.7,137.3 377.8,139.8 377.9,138.9 378.0,138.3 378.2,140.4 378.3,140.8 378.4,138.8 378.5,140.1 378.6,138.3 378.8,138.8 378.9,139.2 379.0,139.1 379.1,140.1 379.2,138.2 379.4,140.4 379.5,140.4 379.6,139.2 379.7,138.2 379.8,137.0 380.0,139.4 380.1,138.7 380.2,139.6 380.3,138.4 380.4,139.5 380.6,139.4 380.7,139.5 380.8,139.8 380.9,139.8 381.0,140.5 381.2,138.7 381.3,140.2 381.4,139.7 381.5,139.1 381.6,138.5 381.8,141.0 381.9,139.7 382.0,139.0 382.1,139.6 382.2,139.5 382.4,139.0 382.5,138.1 382.6,139.7 382.7,139.3 382.8,139.2 383.0,140.5 383.1,138.2 383.2,138.5 383.3,139.7 383.4,140.4 383.6,140.1 383.7,140.3 383.8,137.3 383.9,140.0 384.0,140.0 384.2,140.2 384.3,138.8 384.4,140.1 384.5,140.6 384.6,141.2 384.8,139.8 384.9,138.2 385.0,139.6 385.1,140.2 385.2,140.1 385.4,141.5 385.5,139.4 385.6,138.5 385.7,138.9 385.8,140.2 386.0,138.8 386.1,138.5 386.2,138.7 386.3,140.8 386.4,139.8 386.6,139.2 386.7,140.4 386.8,140.3 386.9,138.6 387.0,140.4 387.2,139.8 387.3,137.5 387.4,138.4 387.5,139.8 387.6,140.1 387.8,139.3 387.9,138.6 388.0,139.8 388.1,137.8 388.2,140.2 388.4,139.4 388.5,139.6 388.6,138.9 388.7,140.4 388.8,137.3 389.0,138.7 389.1,140.2 389.2,138.9 389.3,141.1 389.4,140.0 389.6,138.8 389.7,140.7 389.8,139.5 389.9,140.2 390.0,139.0 390.2,139.0 390.3,140.3 390.4,139.7 390.5,138.9 390.6,138.8 390.8,140.3 390.9,141.4 391.0,138.8 391.1,140.3 391.2,136.7 391.4,138.3 391.5,140.3 391.6,141.2 391.7,139.7 391.8,140.2 392.0,139.9 392.1,140.6 392.2,138.6 392.3,140.3 392.4,139.2 392.6,139.3 392.7,139.6 392.8,139.4 392.9,138.9 393.0,139.4 393.2,138.7 393.3,141.1 393.4,140.3 393.5,139.2 393.6,141.2 393.8,140.9 393.9,140.1 394.0,139.1 394.1,139.9 394.2,140.2 394.4,141.0 394.5,139.5 394.6,139.1 394.7,141.9 394.8,141.0 395.0,139.9 395.1,138.7 395.2,140.1 395.3,140.7 395.4,140.4 395.6,140.4 395.7,139.7 395.8,140.7 395.9,139.0 396.0,139.2 396.2,139.1 396.3,139.0 396.4,141.5 396.5,137.9 396.6,139.8 396.8,138.6 396.9,138.4 397.0,139.7 397.1,138.0 397.2,139.5 397.4,141.8 397.5,139.4 397.6,140.0 397.7,138.7 397.8,140.0 398.0,138.1 398.1,139.7 398.2,139.4 398.3,141.6 398.4,139.4 398.6,139.1 398.7,138.9 398.8,138.3 398.9,140.2 399.0,140.9 399.2,139.1 399.3,140.1 399.4,139.1 399.5,139.8 399.6,139.9 399.8,138.0 399.9,138.7 400.0,140.3 400.1,137.6 400.2,139.4 400.4,139.1 400.5,138.5 400.6,139.4 400.7,139.7 400.8,139.9 401.0,136.8 401.1,141.0 401.2,138.9 401.3,140.4 401.4,139.2 401.6,138.8 401.7,139.3 401.8,142.4 401.9,140.8 402.0,139.0 402.2,139.5 402.3,140.4 402.4,139.9 402.5,139.4 402.6,139.1 402.8,138.2 402.9,140.0 403.0,140.3 403.1,141.4 403.2,138.7 403.4,139.9 403.5,139.2 403.6,140.5 403.7,139.1 403.8,138.6 404.0,137.6 404.1,139.9 404.2,139.4 404.3,140.3 404.4,138.7 404.6,141.7 404.7,138.5 404.8,139.7 404.9,139.6 405.0,140.2 405.2,139.0 405.3,138.3 405.4,138.2 405.5,139.9 405.6,139.3 405.8,139.5 405.9,138.4 406.0,139.3 406.1,139.3 406.2,139.7 406.4,137.7 406.5,138.4 406.6,140.8 406.7,138.7 406.8,139.0 407.0,138.7 407.1,137.7 407.2,138.1 407.3,139.4 407.4,138.4 407.6,141.0 407.7,137.6 407.8,137.2 407.9,138.7 408.0,137.9 408.2,140.4 408.3,138.6 408.4,139.5 408.5,137.7 408.6,139.7 408.8,139.6 408.9,140.2 409.0,139.2 409.1,139.5 409.2,139.2 409.4,139.9 409.5,138.6 409.6,139.5 409.7,138.5 409.8,139.7 410.0,138.7 410.1,138.4 410.2,138.4 410.3,140.4 410.4,137.5 410.6,137.6 410.7,139.6 410.8,138.1 410.9,138.6 411.0,138.5 411.2,141.2 411.3,138.4 411.4,138.3 411.5,138.6 411.6,139.2 411.8,139.5 411.9,137.6 412.0,139.4 412.1,140.8 412.2,137.3 412.4,139.5 412.5,139.7 412.6,139.1 412.7,138.8 412.8,136.8 413.0,140.1 413.1,138.7 413.2,138.8 413.3,140.2 413.4,136.8 413.6,138.9 413.7,139.6 413.8,139.7 413.9,139.6 414.0,140.9 414.2,139.3 414.3,140.0 414.4,139.7 414.5,137.6 414.6,138.3 414.8,141.0 414.9,138.8 415.0,139.0 415.1,137.8 415.2,138.7 415.4,137.8 415.5,138.5 415.6,139.6 415.7,138.3 415.8,138.5 416.0,140.3 416.1,139.5 416.2,139.5 416.3,140.0 416.4,138.5 416.6,138.7 416.7,137.1 416.8,139.8 416.9,138.9 417.0,139.1 417.2,138.1 417.3,139.7 417.4,139.7 417.5,139.3 417.6,137.6 417.8,138.3 417.9,139.1 418.0,138.3 418.1,139.5 418.2,140.0 418.4,138.4 418.5,139.0 418.6,138.5 418.7,140.1 418.8,140.0 419.0,141.6 419.1,139.2 419.2,138.3 419.3,139.5 419.4,138.9 419.6,139.3 419.7,140.3 419.8,138.9 419.9,139.8 420.0,137.2 420.2,140.2 420.3,139.3 420.4,139.0 420.5,138.8 420.6,140.5 420.8,138.8 420.9,140.4 421.0,138.8 421.1,139.3 421.2,139.6 421.4,141.1 421.5,139.5 421.6,139.5 421.7,139.2 421.8,139.0 422.0,138.7 422.1,141.0 422.2,140.7 422.3,138.7 422.4,139.5 422.6,138.3 422.7,140.2 422.8,140.0 422.9,139.5 423.0,138.6 423.2,140.1 423.3,139.9 423.4,139.2 423.5,140.1 423.6,138.2 423.8,138.9 423.9,138.5 424.0,139.5 424.1,140.9 424.2,139.5 424.4,140.5 424.5,139.4 424.6,139.1 424.7,140.4 424.8,140.0 425.0,140.8 425.1,140.4 425.2,138.8 425.3,137.2 425.4,139.6 425.6,138.5 425.7,138.3 425.8,138.2 425.9,139.0 426.0,139.4 426.2,139.6 426.3,141.4 426.4,138.5 426.5,139.6 426.6,138.5 426.8,138.7 426.9,139.7 427.0,140.0 427.1,138.5 427.2,140.7 427.4,138.8 427.5,140.5 427.6,139.6 427.7,140.5 427.8,140.2 428.0,139.4 428.1,140.1 428.2,138.5 428.3,138.6 428.4,139.4 428.6,141.0 428.7,139.1 428.8,139.2 428.9,141.3 429.0,139.8 429.2,139.8 429.3,138.9 429.4,139.9 429.5,140.4 429.6,139.8 429.8,140.5 429.9,140.2 430.0,140.8 430.1,140.6 430.2,139.8 430.4,140.7 430.5,141.5 430.6,140.2 430.7,138.9 430.8,140.1 431.0,139.8 431.1,142.3 431.2,140.7 431.3,139.0 431.4,139.9 431.6,141.3 431.7,139.0 431.8,139.6 431.9,140.1 432.0,139.9 432.2,139.6 432.3,140.2 432.4,138.9 432.5,139.6 432.6,139.6 432.8,139.9 432.9,139.9 433.0,140.2 433.1,139.9 433.2,139.8 433.4,140.5 433.5,141.0 433.6,141.1 433.7,139.2 433.8,140.5 434.0,140.9 434.1,140.0 434.2,140.7 434.3,140.1 434.4,140.6 434.6,139.0 434.7,140.7 434.8,139.9 434.9,139.7 435.0,140.1 435.2,141.3 435.3,141.2 435.4,140.6 435.5,141.2 435.6,140.1 435.8,139.4 435.9,138.9 436.0,140.5 436.1,140.4 436.2,140.6 436.4,140.6 436.5,141.6 436.6,139.8 436.7,139.9 436.8,142.3 437.0,141.3 437.1,140.4 437.2,138.9 437.3,139.9 437.4,140.4 437.6,140.6 437.7,140.9 437.8,140.5 437.9,141.7 438.0,139.7 438.2,140.5 438.3,140.2 438.4,141.5 438.5,141.0 438.6,141.5 438.8,140.9 438.9,144.1 439.0,141.5 439.1,140.2 439.2,140.9 439.4,140.6 439.5,141.6 439.6,141.8 439.7,141.3 439.8,140.8 440.0,140.4 440.1,142.4 440.2,142.0 440.3,138.5 440.4,141.1 440.6,140.4 440.7,140.8 440.8,142.6 440.9,140.2 441.0,140.3 441.2,143.3 441.3,140.8 441.4,141.0 441.5,142.2 441.6,140.8 441.8,141.3 441.9,141.5 442.0,142.5 442.1,139.9 442.2,140.6 442.4,141.2 442.5,142.1 442.6,140.8 442.7,141.8 442.8,141.0 443.0,141.1"/><polyline fill="none" stroke="#0f5285" stroke-width="1.1" stroke-linejoin="round" points="44.8,172.4 44.9,170.9 45.0,171.2 45.2,166.7 45.3,176.4 45.4,175.0 45.5,171.7 45.6,174.3 45.8,173.3 45.9,171.4 46.0,175.0 46.1,172.1 46.2,172.2 46.4,171.2 46.5,174.1 46.6,172.9 46.7,174.5 46.8,171.9 47.0,173.7 47.1,171.4 47.2,175.4 47.3,174.0 47.4,174.4 47.6,174.7 47.7,171.5 47.8,175.7 47.9,178.6 48.0,170.3 48.2,170.2 48.3,170.8 48.4,176.2 48.5,174.6 48.6,176.8 48.8,176.1 48.9,175.0 49.0,175.3 49.1,174.3 49.2,176.7 49.4,172.3 49.5,173.9 49.6,175.5 49.7,179.1 49.8,173.4 50.0,172.7 50.1,174.0 50.2,177.5 50.3,174.9 50.4,178.4 50.6,171.3 50.7,178.1 50.8,178.0 50.9,172.5 51.0,176.1 51.2,178.6 51.3,176.1 51.4,178.2 51.5,181.4 51.6,176.7 51.8,175.6 51.9,174.5 52.0,177.8 52.1,176.0 52.2,176.1 52.4,176.3 52.5,178.1 52.6,174.3 52.7,173.3 52.8,171.3 53.0,179.6 53.1,177.1 53.2,180.4 53.3,177.0 53.4,175.5 53.6,178.3 53.7,177.1 53.8,174.5 53.9,175.4 54.0,181.4 54.2,178.3 54.3,178.5 54.4,177.0 54.5,176.2 54.6,179.8 54.8,177.6 54.9,176.2 55.0,177.7 55.1,176.0 55.2,178.5 55.4,180.7 55.5,176.3 55.6,181.5 55.7,176.8 55.8,178.7 56.0,176.6 56.1,178.0 56.2,178.7 56.3,177.7 56.4,177.1 56.6,177.2 56.7,177.0 56.8,175.3 56.9,178.3 57.0,179.9 57.2,181.1 57.3,180.5 57.4,184.6 57.5,179.9 57.6,178.2 57.8,183.5 57.9,177.0 58.0,181.6 58.1,177.3 58.2,180.3 58.4,175.2 58.5,181.6 58.6,179.3 58.7,177.6 58.8,183.5 59.0,181.5 59.1,180.0 59.2,178.3 59.3,179.9 59.4,179.7 59.6,181.7 59.7,181.9 59.8,178.7 59.9,179.0 60.0,179.1 60.2,177.3 60.3,179.1 60.4,180.3 60.5,182.0 60.6,183.5 60.8,178.8 60.9,181.9 61.0,179.7 61.1,185.4 61.2,180.7 61.4,182.0 61.5,178.8 61.6,179.2 61.7,181.5 61.8,180.2 62.0,181.9 62.1,177.7 62.2,182.7 62.3,179.3 62.4,185.1 62.6,180.7 62.7,183.8 62.8,178.3 62.9,182.4 63.0,179.6 63.2,180.5 63.3,181.7 63.4,181.0 63.5,182.3 63.6,183.4 63.8,183.2 63.9,181.6 64.0,178.9 64.1,180.1 64.2,181.5 64.4,177.3 64.5,183.7 64.6,181.6 64.7,181.6 64.8,184.3 65.0,183.7 65.1,182.7 65.2,180.1 65.3,183.0 65.4,183.1 65.6,180.4 65.7,184.7 65.8,183.6 65.9,178.2 66.0,182.8 66.2,179.8 66.3,185.1 66.4,184.4 66.5,180.2 66.6,180.8 66.8,183.0 66.9,182.2 67.0,186.2 67.1,184.5 67.2,182.2 67.4,184.2 67.5,178.4 67.6,183.6 67.7,184.9 67.8,182.6 68.0,181.5 68.1,184.3 68.2,187.4 68.3,183.6 68.4,180.7 68.6,186.4 68.7,179.1 68.8,184.3 68.9,182.0 69.0,185.3 69.2,181.5 69.3,186.3 69.4,184.0 69.5,179.6 69.6,179.1 69.8,182.8 69.9,186.3 70.0,183.8 70.1,183.7 70.2,183.0 70.4,185.2 70.5,184.4 70.6,184.3 70.7,181.5 70.8,186.3 71.0,186.7 71.1,180.9 71.2,188.8 71.3,185.4 71.4,182.8 71.6,179.7 71.7,185.3 71.8,185.1 71.9,182.6 72.0,180.0 72.2,186.4 72.3,182.7 72.4,183.0 72.5,190.2 72.6,188.7 72.8,186.2 72.9,183.1 73.0,185.5 73.1,179.1 73.2,184.4 73.4,182.5 73.5,181.4 73.6,180.8 73.7,185.4 73.8,184.4 74.0,184.6 74.1,186.1 74.2,182.4 74.3,181.6 74.4,180.4 74.6,183.6 74.7,186.0 74.8,184.0 74.9,185.8 75.0,181.8 75.2,183.4 75.3,182.7 75.4,181.7 75.5,188.5 75.6,186.3 75.8,182.8 75.9,182.8 76.0,184.3 76.1,181.3 76.2,185.4 76.4,181.7 76.5,183.7 76.6,182.3 76.7,183.5 76.8,181.6 77.0,181.1 77.1,182.4 77.2,183.1 77.3,183.9 77.4,184.7 77.6,187.9 77.7,186.3 77.8,184.0 77.9,186.2 78.0,183.1 78.2,187.7 78.3,185.8 78.4,181.7 78.5,186.2 78.6,186.4 78.8,178.8 78.9,183.0 79.0,183.6 79.1,180.5 79.2,182.3 79.4,182.6 79.5,185.8 79.6,185.3 79.7,190.3 79.8,183.8 80.0,187.2 80.1,184.8 80.2,185.3 80.3,182.2 80.4,180.6 80.6,183.0 80.7,186.3 80.8,188.1 80.9,186.0 81.0,185.8 81.2,182.9 81.3,188.0 81.4,187.6 81.5,183.6 81.6,184.6 81.8,182.6 81.9,187.9 82.0,185.6 82.1,184.5 82.2,185.6 82.4,185.7 82.5,183.9 82.6,182.1 82.7,182.0 82.8,181.0 83.0,185.8 83.1,189.5 83.2,181.1 83.3,185.1 83.4,185.7 83.6,182.7 83.7,185.2 83.8,182.4 83.9,187.4 84.0,183.5 84.2,185.0 84.3,186.3 84.4,183.9 84.5,181.0 84.6,183.7 84.8,186.4 84.9,184.6 85.0,185.3 85.1,182.5 85.2,185.1 85.4,186.4 85.5,184.9 85.6,188.9 85.7,184.4 85.8,182.6 86.0,181.3 86.1,187.3 86.2,184.7 86.3,186.9 86.4,185.8 86.6,188.2 86.7,187.5 86.8,183.9 86.9,185.3 87.0,187.1 87.2,182.1 87.3,187.8 87.4,187.3 87.5,186.8 87.6,184.2 87.8,185.3 87.9,182.3 88.0,184.8 88.1,183.4 88.2,184.8 88.4,183.5 88.5,185.2 88.6,187.1 88.7,181.7 88.8,186.5 89.0,180.2 89.1,179.9 89.2,184.2 89.3,184.4 89.4,185.3 89.6,180.9 89.7,184.2 89.8,184.6 89.9,187.0 90.0,184.1 90.2,185.4 90.3,182.2 90.4,183.8 90.5,183.2 90.6,185.7 90.8,182.0 90.9,182.3 91.0,185.3 91.1,187.8 91.2,184.8 91.4,184.6 91.5,183.2 91.6,186.2 91.7,185.1 91.8,187.6 92.0,184.5 92.1,181.8 92.2,182.6 92.3,181.7 92.4,181.1 92.6,186.4 92.7,185.4 92.8,181.0 92.9,187.4 93.0,184.1 93.2,181.5 93.3,184.3 93.4,183.3 93.5,181.8 93.6,179.3 93.8,183.5 93.9,184.0 94.0,177.9 94.1,184.5 94.2,184.6 94.4,182.2 94.5,183.4 94.6,182.6 94.7,181.4 94.8,182.3 95.0,185.9 95.1,180.0 95.2,183.5 95.3,183.3 95.4,181.4 95.6,181.9 95.7,179.9 95.8,181.0 95.9,182.8 96.0,183.4 96.2,180.8 96.3,189.0 96.4,181.3 96.5,182.8 96.6,182.0 96.8,181.6 96.9,185.1 97.0,181.3 97.1,185.0 97.2,184.6 97.4,179.9 97.5,184.2 97.6,180.6 97.7,187.7 97.8,181.1 98.0,179.9 98.1,177.8 98.2,179.0 98.3,180.4 98.4,179.5 98.6,179.0 98.7,180.0 98.8,181.0 98.9,184.4 99.0,177.7 99.2,180.1 99.3,179.2 99.4,177.9 99.5,178.4 99.6,179.1 99.8,182.4 99.9,180.4 100.0,179.6 100.1,182.0 100.2,181.2 100.4,180.1 100.5,181.3 100.6,178.7 100.7,181.7 100.8,181.3 101.0,179.4 101.1,177.6 101.2,183.3 101.3,180.2 101.4,186.4 101.6,178.6 101.7,181.6 101.8,178.9 101.9,180.3 102.0,181.4 102.2,177.9 102.3,179.3 102.4,179.8 102.5,179.7 102.6,180.6 102.8,181.5 102.9,181.0 103.0,179.7 103.1,178.4 103.2,176.7 103.4,177.5 103.5,177.9 103.6,180.3 103.7,178.1 103.8,176.2 104.0,180.0 104.1,177.0 104.2,177.0 104.3,178.1 104.4,179.5 104.6,173.4 104.7,176.1 104.8,178.7 104.9,177.5 105.0,176.4 105.2,177.1 105.3,181.0 105.4,177.1 105.5,179.5 105.6,179.6 105.8,177.0 105.9,178.8 106.0,176.9 106.1,176.5 106.2,175.4 106.4,179.4 106.5,176.8 106.6,176.4 106.7,175.1 106.8,181.2 107.0,178.9 107.1,177.0 107.2,175.8 107.3,174.0 107.4,177.7 107.6,177.7 107.7,174.1 107.8,179.4 107.9,178.5 108.0,174.9 108.2,175.6 108.3,175.9 108.4,177.0 108.5,176.3 108.6,173.2 108.8,179.6 108.9,177.1 109.0,179.0 109.1,178.9 109.2,175.8 109.4,176.9 109.5,177.7 109.6,177.7 109.7,175.7 109.8,174.7 110.0,176.0 110.1,174.2 110.2,174.7 110.3,171.6 110.4,175.9 110.6,173.5 110.7,174.4 110.8,175.4 110.9,176.1 111.0,179.3 111.2,175.7 111.3,172.4 111.4,175.5 111.5,173.9 111.6,175.9 111.8,173.6 111.9,173.5 112.0,173.8 112.1,173.5 112.2,171.0 112.4,173.3 112.5,174.6 112.6,177.0 112.7,173.9 112.8,173.7 113.0,175.5 113.1,175.4 113.2,177.5 113.3,175.3 113.4,174.0 113.6,176.7 113.7,177.1 113.8,172.9 113.9,174.1 114.0,170.3 114.2,172.9 114.3,171.7 114.4,173.0 114.5,172.4 114.6,173.0 114.8,173.0 114.9,174.2 115.0,173.6 115.1,171.9 115.2,170.3 115.4,175.4 115.5,175.7 115.6,171.8 115.7,173.8 115.8,169.4 116.0,169.3 116.1,171.8 116.2,175.3 116.3,170.1 116.4,170.4 116.6,175.3 116.7,168.1 116.8,173.2 116.9,172.8 117.0,171.3 117.2,172.0 117.3,176.9 117.4,169.2 117.5,170.8 117.6,170.8 117.8,169.8 117.9,168.4 118.0,174.3 118.1,171.4 118.2,167.3 118.4,169.4 118.5,171.6 118.6,171.5 118.7,167.7 118.8,170.3 119.0,171.0 119.1,171.2 119.2,171.1 119.3,166.5 119.4,173.9 119.6,170.5 119.7,173.6 119.8,175.7 119.9,169.5 120.0,167.3 120.2,171.4 120.3,169.2 120.4,168.6 120.5,167.4 120.6,172.8 120.8,168.4 120.9,166.4 121.0,168.3 121.1,166.8 121.2,169.4 121.4,168.1 121.5,166.8 121.6,170.1 121.7,167.5 121.8,170.2 122.0,171.2 122.1,167.8 122.2,167.2 122.3,168.8 122.4,170.1 122.6,168.2 122.7,168.5 122.8,168.0 122.9,168.6 123.0,169.2 123.2,166.4 123.3,166.8 123.4,167.8 123.5,166.3 123.6,167.8 123.8,168.6 123.9,167.4 124.0,166.1 124.1,165.7 124.2,170.7 124.4,168.9 124.5,164.8 124.6,165.2 124.7,170.6 124.8,169.8 125.0,167.0 125.1,169.0 125.2,163.6 125.3,166.5 125.4,167.9 125.6,162.6 125.7,164.7 125.8,167.8 125.9,168.5 126.0,164.9 126.2,166.6 126.3,169.2 126.4,165.2 126.5,163.2 126.6,165.7 126.8,165.0 126.9,168.4 127.0,166.0 127.1,164.0 127.2,170.4 127.4,164.6 127.5,166.5 127.6,166.9 127.7,167.0 127.8,165.8 128.0,166.6 128.1,165.3 128.2,162.5 128.3,164.9 128.4,164.9 128.6,165.0 128.7,165.6 128.8,164.1 128.9,167.9 129.0,168.4 129.2,160.9 129.3,165.3 129.4,163.9 129.5,160.1 129.6,166.1 129.8,164.1 129.9,164.6 130.0,164.0 130.1,167.5 130.2,167.8 130.4,165.9 130.5,166.8 130.6,165.2 130.7,165.7 130.8,163.9 131.0,165.5 131.1,164.0 131.2,166.2 131.3,167.1 131.4,166.1 131.6,167.9 131.7,170.9 131.8,161.4 131.9,165.6 132.0,164.5 132.2,164.7 132.3,162.9 132.4,165.8 132.5,165.2 132.6,164.4 132.8,165.2 132.9,164.6 133.0,161.1 133.1,167.9 133.2,165.2 133.4,164.0 133.5,166.5 133.6,164.6 133.7,161.6 133.8,167.7 134.0,162.7 134.1,165.6 134.2,166.3 134.3,168.8 134.4,168.5 134.6,166.5 134.7,164.7 134.8,165.5 134.9,168.5 135.0,169.9 135.2,167.5 135.3,165.2 135.4,168.6 135.5,165.9 135.6,165.9 135.8,166.3 135.9,168.1 136.0,167.5 136.1,169.0 136.2,169.7 136.4,168.2 136.5,162.7 136.6,164.1 136.7,167.8 136.8,167.5 137.0,171.9 137.1,167.7 137.2,167.6 137.3,169.8 137.4,170.2 137.6,167.7 137.7,169.2 137.8,166.1 137.9,166.6 138.0,171.0 138.2,165.9 138.3,170.5 138.4,170.2 138.5,170.5 138.6,170.9 138.8,170.3 138.9,165.1 139.0,167.5 139.1,168.4 139.2,171.5 139.4,167.6 139.5,168.6 139.6,169.4 139.7,172.8 139.8,167.5 140.0,167.9 140.1,171.9 140.2,166.6 140.3,171.5 140.4,170.1 140.6,168.0 140.7,170.4 140.8,169.4 140.9,171.8 141.0,172.2 141.2,174.5 141.3,171.7 141.4,172.0 141.5,170.8 141.6,171.9 141.8,174.1 141.9,168.4 142.0,173.5 142.1,171.3 142.2,172.6 142.4,173.1 142.5,174.2 142.6,173.1 142.7,172.0 142.8,173.4 143.0,172.9 143.1,172.6 143.2,173.5 143.3,174.8 143.4,173.5 143.6,173.6 143.7,170.8 143.8,173.2 143.9,169.9 144.0,175.0 144.2,171.8 144.3,176.2 144.4,179.6 144.5,173.1 144.6,176.5 144.8,174.8 144.9,173.0 145.0,172.5 145.1,175.3 145.2,177.0 145.4,175.0 145.5,171.5 145.6,172.5 145.7,174.1 145.8,177.2 146.0,175.2 146.1,175.4 146.2,177.2 146.3,174.5 146.4,174.8 146.6,174.6 146.7,171.6 146.8,176.0 146.9,176.0 147.0,177.1 147.2,173.0 147.3,173.8 147.4,177.3 147.5,176.1 147.6,178.2 147.8,174.0 147.9,176.1 148.0,174.5 148.1,176.4 148.2,174.9 148.4,177.0 148.5,178.1 148.6,177.4 148.7,172.6 148.8,178.0 149.0,177.1 149.1,174.3 149.2,174.7 149.3,176.5 149.4,177.6 149.6,175.7 149.7,173.5 149.8,177.2 149.9,177.1 150.0,181.5 150.2,174.4 150.3,181.8 150.4,180.4 150.5,177.7 150.6,180.3 150.8,177.4 150.9,179.2 151.0,175.9 151.1,177.6 151.2,175.5 151.4,174.5 151.5,177.1 151.6,176.4 151.7,178.9 151.8,180.3 152.0,177.6 152.1,178.1 152.2,178.4 152.3,174.9 152.4,178.7 152.6,178.3 152.7,178.2 152.8,176.3 152.9,174.6 153.0,178.0 153.2,179.2 153.3,181.2 153.4,180.9 153.5,181.6 153.6,179.6 153.8,181.2 153.9,178.6 154.0,180.3 154.1,180.9 154.2,184.4 154.4,179.8 154.5,176.9 154.6,182.1 154.7,178.0 154.8,179.5 155.0,179.1 155.1,178.0 155.2,182.4 155.3,181.0 155.4,178.8 155.6,180.2 155.7,179.3 155.8,181.3 155.9,179.5 156.0,178.8 156.2,179.2 156.3,179.6 156.4,181.1 156.5,178.8 156.6,180.5 156.8,181.6 156.9,185.3 157.0,182.5 157.1,175.3 157.2,180.1 157.4,180.3 157.5,181.8 157.6,184.2 157.7,182.7 157.8,177.0 158.0,182.0 158.1,181.7 158.2,182.4 158.3,184.2 158.4,179.7 158.6,183.9 158.7,178.7 158.8,182.0 158.9,182.7 159.0,186.4 159.2,180.8 159.3,179.0 159.4,183.6 159.5,181.1 159.6,185.4 159.8,181.1 159.9,180.9 160.0,185.0 160.1,182.8 160.2,184.6 160.4,180.1 160.5,186.0 160.6,181.8 160.7,184.5 160.8,181.2 161.0,180.2 161.1,182.7 161.2,183.6 161.3,186.3 161.4,184.0 161.6,184.8 161.7,184.7 161.8,189.4 161.9,182.1 162.0,186.0 162.2,183.5 162.3,184.3 162.4,182.8 162.5,186.1 162.6,181.6 162.8,181.5 162.9,183.7 163.0,182.0 163.1,185.5 163.2,186.0 163.4,182.9 163.5,185.9 163.6,183.2 163.7,184.4 163.8,184.6 164.0,188.2 164.1,184.7 164.2,183.0 164.3,183.1 164.4,187.1 164.6,181.8 164.7,184.1 164.8,184.4 164.9,180.6 165.0,184.3 165.2,187.2 165.3,185.8 165.4,183.7 165.5,186.8 165.6,186.5 165.8,189.4 165.9,184.3 166.0,185.0 166.1,185.9 166.2,185.6 166.4,186.1 166.5,185.8 166.6,184.8 166.7,183.1 166.8,185.2 167.0,183.7 167.1,184.4 167.2,185.4 167.3,187.4 167.4,188.1 167.6,184.6 167.7,187.2 167.8,188.2 167.9,186.7 168.0,183.7 168.2,182.8 168.3,188.4 168.4,188.7 168.5,187.6 168.6,185.1 168.8,189.9 168.9,189.5 169.0,187.2 169.1,186.9 169.2,183.7 169.4,188.8 169.5,184.5 169.6,188.8 169.7,188.9 169.8,187.8 170.0,190.6 170.1,187.1 170.2,188.8 170.3,189.3 170.4,188.3 170.6,187.1 170.7,190.2 170.8,188.7 170.9,187.6 171.0,187.7 171.2,188.3 171.3,192.3 171.4,188.3 171.5,187.7 171.6,186.2 171.8,186.0 171.9,184.7 172.0,188.7 172.1,188.4 172.2,186.4 172.4,185.6 172.5,187.8 172.6,187.4 172.7,185.9 172.8,189.0 173.0,188.7 173.1,188.3 173.2,189.9 173.3,187.2 173.4,190.9 173.6,186.6 173.7,189.4 173.8,189.6 173.9,188.0 174.0,189.1 174.2,186.1 174.3,185.7 174.4,188.1 174.5,187.1 174.6,189.5 174.8,188.5 174.9,189.6 175.0,189.0 175.1,188.8 175.2,188.6 175.4,187.7 175.5,187.6 175.6,192.2 175.7,185.2 175.8,188.1 176.0,190.3 176.1,189.2 176.2,191.0 176.3,189.4 176.4,186.1 176.6,187.8 176.7,185.8 176.8,190.2 176.9,191.0 177.0,187.6 177.2,189.4 177.3,187.6 177.4,185.7 177.5,187.5 177.6,185.4 177.8,187.3 177.9,188.7 178.0,189.7 178.1,190.7 178.2,187.7 178.4,188.7 178.5,189.1 178.6,189.3 178.7,183.1 178.8,186.9 179.0,189.7 179.1,186.2 179.2,188.7 179.3,189.8 179.4,184.8 179.6,187.9 179.7,188.6 179.8,188.2 179.9,185.3 180.0,188.7 180.2,187.0 180.3,189.5 180.4,188.7 180.5,186.7 180.6,187.9 180.8,186.1 180.9,185.8 181.0,183.9 181.1,186.0 181.2,187.4 181.4,185.7 181.5,184.9 181.6,183.2 181.7,182.8 181.8,184.5 182.0,179.9 182.1,185.9 182.2,181.7 182.3,185.6 182.4,183.7 182.6,181.0 182.7,183.3 182.8,182.9 182.9,183.8 183.0,184.9 183.2,183.0 183.3,183.5 183.4,184.4 183.5,183.1 183.6,185.6 183.8,186.9 183.9,187.2 184.0,187.4 184.1,186.5 184.2,188.8 184.4,183.8 184.5,186.9 184.6,187.0 184.7,189.3 184.8,188.9 185.0,189.2 185.1,187.7 185.2,189.4 185.3,185.9 185.4,187.8 185.6,183.9 185.7,190.8 185.8,190.5 185.9,186.6 186.0,186.1 186.2,183.8 186.3,184.8 186.4,187.8 186.5,187.3 186.6,184.9 186.8,186.6 186.9,186.3 187.0,188.4 187.1,188.8 187.2,187.1 187.4,187.7 187.5,187.4 187.6,183.6 187.7,187.7 187.8,187.2 188.0,188.7 188.1,184.0 188.2,188.6 188.3,186.0 188.4,187.6 188.6,189.3 188.7,184.4 188.8,184.7 188.9,188.8 189.0,184.9 189.2,185.2 189.3,187.9 189.4,186.4 189.5,188.1 189.6,187.2 189.8,186.6 189.9,188.3 190.0,190.4 190.1,186.3 190.2,189.1 190.4,188.4 190.5,186.5 190.6,187.0 190.7,184.5 190.8,185.0 191.0,186.5 191.1,185.9 191.2,188.2 191.3,183.5 191.4,185.3 191.6,184.6 191.7,185.4 191.8,187.7 191.9,183.4 192.0,187.0 192.2,184.4 192.3,184.8 192.4,187.1 192.5,184.7 192.6,186.4 192.8,185.3 192.9,184.7 193.0,184.3 193.1,181.8 193.2,183.5 193.4,185.1 193.5,185.1 193.6,182.1 193.7,186.5 193.8,185.7 194.0,182.3 194.1,182.7 194.2,185.4 194.3,181.4 194.4,183.1 194.6,184.3 194.7,184.2 194.8,184.3 194.9,185.0 195.0,182.9 195.2,183.4 195.3,187.9 195.4,181.8 195.5,183.5 195.6,184.5 195.8,183.1 195.9,186.4 196.0,184.4 196.1,185.6 196.2,179.7 196.4,186.4 196.5,186.4 196.6,183.1 196.7,186.7 196.8,184.9 197.0,186.1 197.1,187.8 197.2,184.8 197.3,182.9 197.4,184.7 197.6,182.5 197.7,183.4 197.8,183.5 197.9,183.7 198.0,187.1 198.2,186.6 198.3,183.6 198.4,187.2 198.5,182.3 198.6,184.2 198.8,185.2 198.9,187.6 199.0,186.9 199.1,186.5 199.2,188.1 199.4,187.1 199.5,188.3 199.6,184.6 199.7,183.1 199.8,185.4 200.0,187.6 200.1,186.6 200.2,187.7 200.3,187.3 200.4,186.9 200.6,187.3 200.7,184.4 200.8,187.3 200.9,183.3 201.0,184.5 201.2,181.8 201.3,184.7 201.4,180.6 201.5,185.3 201.6,179.9 201.8,182.2 201.9,181.0 202.0,179.2 202.1,182.6 202.2,179.4 202.4,182.7 202.5,178.4 202.6,179.1 202.7,177.4 202.8,182.4 203.0,183.7 203.1,183.1 203.2,183.1 203.3,182.5 203.4,188.9 203.6,186.7 203.7,182.7 203.8,186.0 203.9,182.4 204.0,190.2 204.2,191.2 204.3,190.6 204.4,188.2 204.5,187.4 204.6,186.2 204.8,189.7 204.9,187.5 205.0,188.3 205.1,187.9 205.2,188.5 205.4,190.6 205.5,192.0 205.6,189.4 205.7,189.1 205.8,187.2 206.0,187.0 206.1,187.3 206.2,190.7 206.3,189.6 206.4,190.8 206.6,189.9 206.7,188.4 206.8,187.0 206.9,188.5 207.0,186.6 207.2,192.6 207.3,189.6 207.4,188.5 207.5,192.6 207.6,188.4 207.8,190.0 207.9,188.7 208.0,189.6 208.1,188.2 208.2,189.6 208.4,191.2 208.5,186.3 208.6,184.4 208.7,190.4 208.8,188.0 209.0,188.7 209.1,186.2 209.2,188.7 209.3,188.3 209.4,182.1 209.6,184.2 209.7,180.7 209.8,177.4 209.9,178.0 210.0,177.7 210.2,172.4 210.3,170.6 210.4,172.9 210.5,168.7 210.6,167.4 210.8,162.9 210.9,162.1 211.0,162.1 211.1,161.2 211.2,160.6 211.4,163.2 211.5,161.2 211.6,159.2 211.7,161.6 211.8,164.7 212.0,168.9 212.1,167.4 212.2,170.0 212.3,172.7 212.4,173.5 212.6,175.2 212.7,178.0 212.8,181.8 212.9,182.4 213.0,182.4 213.2,184.7 213.3,182.7 213.4,187.5 213.5,187.7 213.6,187.5 213.8,184.5 213.9,191.1 214.0,182.7 214.1,186.2 214.2,186.3 214.4,189.1 214.5,185.1 214.6,187.9 214.7,186.9 214.8,186.4 215.0,187.9 215.1,188.4 215.2,186.1 215.3,184.3 215.4,180.3 215.6,186.1 215.7,182.5 215.8,179.2 215.9,182.2 216.0,184.0 216.2,181.0 216.3,179.1 216.4,185.1 216.5,182.5 216.6,182.4 216.8,184.1 216.9,179.1 217.0,183.4 217.1,183.8 217.2,188.7 217.4,184.4 217.5,185.0 217.6,184.1 217.7,185.6 217.8,187.0 218.0,188.2 218.1,187.7 218.2,191.8 218.3,189.4 218.4,189.8 218.6,191.2 218.7,190.0 218.8,188.1 218.9,186.4 219.0,189.7 219.2,187.7 219.3,191.4 219.4,187.9 219.5,185.4 219.6,189.3 219.8,191.1 219.9,188.9 220.0,189.5 220.1,189.5 220.2,192.2 220.4,189.8 220.5,189.2 220.6,188.2 220.7,186.4 220.8,191.7 221.0,191.2 221.1,187.6 221.2,190.3 221.3,189.8 221.4,188.6 221.6,188.7 221.7,190.6 221.8,187.2 221.9,188.4 222.0,189.1 222.2,189.3 222.3,188.9 222.4,189.6 222.5,190.2 222.6,187.8 222.8,189.4 222.9,188.4 223.0,191.9 223.1,186.9 223.2,188.9 223.4,190.5 223.5,188.8 223.6,188.7 223.7,188.4 223.8,189.8 224.0,187.3 224.1,189.2 224.2,189.2 224.3,186.8 224.4,189.8 224.6,188.5 224.7,189.9 224.8,190.8 224.9,189.9 225.0,187.4 225.2,189.9 225.3,186.7 225.4,188.1 225.5,192.2 225.6,189.4 225.8,192.1 225.9,189.1 226.0,189.4 226.1,187.5 226.2,191.0 226.4,189.1 226.5,190.5 226.6,190.2 226.7,190.4 226.8,190.0 227.0,189.4 227.1,189.5 227.2,188.3 227.3,185.9 227.4,190.3 227.6,193.1 227.7,191.4 227.8,193.5 227.9,190.4 228.0,188.0 228.2,187.9 228.3,190.9 228.4,190.2 228.5,189.3 228.6,190.9 228.8,188.2 228.9,190.5 229.0,189.2 229.1,189.9 229.2,191.7 229.4,189.5 229.5,192.0 229.6,191.9 229.7,188.4 229.8,193.6 230.0,187.6 230.1,189.6 230.2,191.0 230.3,185.9 230.4,191.5 230.6,191.7 230.7,189.6 230.8,190.3 230.9,190.2 231.0,189.5 231.2,191.6 231.3,189.2 231.4,189.8 231.5,190.5 231.6,191.3 231.8,191.7 231.9,187.4 232.0,186.5 232.1,189.7 232.2,189.8 232.4,188.1 232.5,190.4 232.6,191.0 232.7,190.6 232.8,192.7 233.0,188.2 233.1,190.0 233.2,193.2 233.3,191.1 233.4,188.1 233.6,190.3 233.7,192.0 233.8,193.5 233.9,191.1 234.0,192.0 234.2,188.2 234.3,189.6 234.4,192.1 234.5,188.5 234.6,190.0 234.8,187.0 234.9,192.6 235.0,189.9 235.1,191.1 235.2,187.6 235.4,187.9 235.5,193.2 235.6,189.6 235.7,189.3 235.8,191.0 236.0,191.1 236.1,186.9 236.2,188.6 236.3,190.3 236.4,190.2 236.6,190.8 236.7,189.5 236.8,189.8 236.9,190.6 237.0,189.1 237.2,188.9 237.3,189.4 237.4,190.3 237.5,190.1 237.6,189.6 237.8,189.9 237.9,190.3 238.0,190.9 238.1,191.0 238.2,188.3 238.4,192.0 238.5,187.8 238.6,191.3 238.7,189.3 238.8,191.4 239.0,192.2 239.1,187.4 239.2,191.5 239.3,191.0 239.4,189.8 239.6,191.2 239.7,189.8 239.8,190.8 239.9,188.9 240.0,191.9 240.2,191.6 240.3,191.9 240.4,189.6 240.5,193.8 240.6,194.0 240.8,190.7 240.9,190.2 241.0,190.2 241.1,192.0 241.2,192.6 241.4,189.8 241.5,187.7 241.6,191.8 241.7,191.0 241.8,191.4 242.0,192.0 242.1,189.4 242.2,191.4 242.3,190.8 242.4,192.0 242.6,193.4 242.7,191.5 242.8,190.1 242.9,193.6 243.0,192.8 243.2,191.3 243.3,188.8 243.4,190.3 243.5,192.0 243.6,192.7 243.8,191.0 243.9,192.7 244.0,191.0 244.1,191.4 244.2,193.0 244.4,191.7 244.5,192.4 244.6,193.7 244.7,194.1 244.8,191.4 245.0,192.0 245.1,190.3 245.2,190.4 245.3,193.0 245.4,191.8 245.6,189.7 245.7,193.6 245.8,191.4 245.9,192.3 246.0,193.5 246.2,193.5 246.3,192.9 246.4,189.8 246.5,194.0 246.6,192.1 246.8,190.9 246.9,189.6 247.0,195.4 247.1,193.5 247.2,193.5 247.4,194.4 247.5,193.3 247.6,191.1 247.7,194.6 247.8,195.2 248.0,194.4 248.1,196.1 248.2,196.7 248.3,192.4 248.4,193.0 248.6,195.2 248.7,194.1 248.8,194.2 248.9,195.4 249.0,195.1 249.2,193.2 249.3,194.2 249.4,192.9 249.5,193.7 249.6,192.3 249.8,191.0 249.9,193.3 250.0,193.2 250.1,195.6 250.2,196.7 250.4,194.3 250.5,195.0 250.6,193.3 250.7,192.9 250.8,193.9 251.0,194.0 251.1,194.9 251.2,194.7 251.3,197.2 251.4,194.2 251.6,191.9 251.7,194.8 251.8,193.6 251.9,195.0 252.0,196.5 252.2,193.7 252.3,194.6 252.4,195.6 252.5,193.3 252.6,195.2 252.8,195.7 252.9,196.2 253.0,196.7 253.1,195.8 253.2,195.6 253.4,192.8 253.5,190.8 253.6,193.5 253.7,197.3 253.8,195.3 254.0,191.6 254.1,194.5 254.2,195.8 254.3,192.3 254.4,196.2 254.6,193.5 254.7,196.9 254.8,195.4 254.9,200.2 255.0,193.3 255.2,195.8 255.3,193.1 255.4,197.3 255.5,195.7 255.6,196.9 255.8,195.7 255.9,193.7 256.0,194.5 256.1,193.6 256.2,194.0 256.4,195.9 256.5,197.3 256.6,197.0 256.7,196.5 256.8,194.8 257.0,196.5 257.1,194.4 257.2,196.1 257.3,197.1 257.4,195.5 257.6,195.1 257.7,195.1 257.8,196.8 257.9,195.4 258.0,193.6 258.2,195.2 258.3,194.2 258.4,198.3 258.5,195.9 258.6,193.6 258.8,196.4 258.9,197.1 259.0,196.6 259.1,195.4 259.2,196.2 259.4,196.4 259.5,197.6 259.6,196.6 259.7,199.6 259.8,195.7 260.0,198.4 260.1,196.1 260.2,193.4 260.3,194.3 260.4,193.3 260.6,193.4 260.7,198.0 260.8,195.1 260.9,197.1 261.0,194.8 261.2,196.1 261.3,194.5 261.4,197.5 261.5,195.8 261.6,195.5 261.8,196.0 261.9,199.6 262.0,196.9 262.1,197.5 262.2,194.3 262.4,195.3 262.5,196.7 262.6,193.4 262.7,198.4 262.8,196.7 263.0,196.3 263.1,196.0 263.2,196.0 263.3,195.6 263.4,198.5 263.6,197.4 263.7,198.3 263.8,195.9 263.9,195.0 264.0,198.5 264.2,194.5 264.3,195.5 264.4,197.5 264.5,198.1 264.6,194.4 264.8,196.0 264.9,196.5 265.0,196.3 265.1,195.2 265.2,197.5 265.4,195.7 265.5,196.1 265.6,193.1 265.7,196.3 265.8,193.5 266.0,197.6 266.1,197.3 266.2,195.8 266.3,196.8 266.4,196.7 266.6,196.3 266.7,197.1 266.8,196.4 266.9,195.9 267.0,195.4 267.2,199.2 267.3,196.9 267.4,196.6 267.5,197.7 267.6,196.1 267.8,196.1 267.9,197.7 268.0,198.2 268.1,197.7 268.2,194.4 268.4,196.8 268.5,196.7 268.6,197.4 268.7,195.4 268.8,195.1 269.0,196.5 269.1,195.4 269.2,195.1 269.3,196.6 269.4,198.2 269.6,197.0 269.7,198.5 269.8,195.3 269.9,197.9 270.0,196.8 270.2,195.5 270.3,196.2 270.4,195.5 270.5,196.5 270.6,195.7 270.8,198.7 270.9,196.3 271.0,194.7 271.1,196.5 271.2,197.4 271.4,196.4 271.5,198.2 271.6,195.5 271.7,195.6 271.8,199.3 272.0,196.9 272.1,197.7 272.2,197.6 272.3,197.8 272.4,197.0 272.6,196.6 272.7,198.5 272.8,196.2 272.9,197.1 273.0,198.0 273.2,196.3 273.3,194.7 273.4,197.6 273.5,198.6 273.6,197.3 273.8,194.5 273.9,197.9 274.0,199.9 274.1,194.7 274.2,192.9 274.4,196.6 274.5,197.1 274.6,198.2 274.7,198.2 274.8,197.1 275.0,197.8 275.1,197.5 275.2,197.2 275.3,196.9 275.4,196.8 275.6,198.1 275.7,197.6 275.8,196.4 275.9,198.6 276.0,196.0 276.2,196.7 276.3,197.2 276.4,194.2 276.5,196.5 276.6,198.3 276.8,198.2 276.9,195.3 277.0,195.8 277.1,195.4 277.2,196.7 277.4,196.9 277.5,194.7 277.6,197.5 277.7,197.1 277.8,196.9 278.0,196.0 278.1,196.7 278.2,194.4 278.3,197.3 278.4,197.3 278.6,196.8 278.7,195.2 278.8,198.8 278.9,198.5 279.0,194.1 279.2,197.4 279.3,197.0 279.4,193.0 279.5,197.5 279.6,197.7 279.8,197.8 279.9,196.9 280.0,195.7 280.1,195.8 280.2,197.3 280.4,198.2 280.5,195.7 280.6,196.0 280.7,197.3 280.8,193.1 281.0,196.8 281.1,195.7 281.2,192.8 281.3,197.0 281.4,194.5 281.6,196.8 281.7,197.6 281.8,193.7 281.9,193.7 282.0,195.3 282.2,192.7 282.3,196.2 282.4,195.4 282.5,196.5 282.6,192.4 282.8,195.3 282.9,195.7 283.0,192.5 283.1,196.5 283.2,193.3 283.4,195.6 283.5,193.6 283.6,196.7 283.7,198.2 283.8,195.9 284.0,196.0 284.1,197.9 284.2,195.5 284.3,196.3 284.4,197.5 284.6,197.0 284.7,198.8 284.8,198.3 284.9,199.5 285.0,196.7 285.2,198.4 285.3,195.7 285.4,198.3 285.5,199.5 285.6,200.5 285.8,195.3 285.9,196.9 286.0,198.2 286.1,196.0 286.2,198.1 286.4,198.1 286.5,196.6 286.6,196.6 286.7,196.1 286.8,197.9 287.0,199.3 287.1,197.9 287.2,201.5 287.3,195.4 287.4,196.7 287.6,198.5 287.7,195.9 287.8,198.1 287.9,198.8 288.0,197.9 288.2,197.3 288.3,199.0 288.4,198.3 288.5,198.7 288.6,198.5 288.8,196.7 288.9,196.1 289.0,197.2 289.1,198.0 289.2,197.5 289.4,199.1 289.5,198.1 289.6,199.2 289.7,197.9 289.8,196.8 290.0,199.0 290.1,198.5 290.2,196.6 290.3,197.2 290.4,201.8 290.6,193.0 290.7,199.5 290.8,197.9 290.9,197.7 291.0,197.4 291.2,197.1 291.3,201.2 291.4,197.2 291.5,197.4 291.6,199.0 291.8,198.4 291.9,197.6 292.0,197.5 292.1,196.0 292.2,199.4 292.4,196.4 292.5,194.4 292.6,199.4 292.7,199.0 292.8,198.4 293.0,197.2 293.1,199.6 293.2,196.4 293.3,194.8 293.4,198.1 293.6,199.1 293.7,198.8 293.8,200.9 293.9,199.1 294.0,197.6 294.2,197.7 294.3,199.2 294.4,197.9 294.5,197.8 294.6,195.4 294.8,197.5 294.9,196.1 295.0,198.3 295.1,198.2 295.2,199.0 295.4,200.6 295.5,197.7 295.6,200.1 295.7,196.4 295.8,198.2 296.0,199.4 296.1,200.8 296.2,196.4 296.3,197.7 296.4,198.2 296.6,197.9 296.7,196.7 296.8,195.7 296.9,196.3 297.0,197.9 297.2,196.1 297.3,200.6 297.4,199.8 297.5,195.3 297.6,197.4 297.8,200.0 297.9,200.2 298.0,199.7 298.1,196.0 298.2,197.6 298.4,199.9 298.5,198.3 298.6,197.5 298.7,198.8 298.8,199.5 299.0,198.3 299.1,198.5 299.2,199.7 299.3,197.3 299.4,196.8 299.6,199.2 299.7,196.4 299.8,198.9 299.9,197.1 300.0,199.4 300.2,196.5 300.3,199.8 300.4,198.6 300.5,197.7 300.6,197.0 300.8,198.0 300.9,196.9 301.0,196.5 301.1,199.7 301.2,199.0 301.4,200.0 301.5,196.3 301.6,195.4 301.7,196.0 301.8,199.1 302.0,199.4 302.1,195.6 302.2,199.7 302.3,197.6 302.4,196.5 302.6,198.1 302.7,199.1 302.8,197.9 302.9,198.0 303.0,197.1 303.2,196.2 303.3,197.7 303.4,196.0 303.5,199.1 303.6,197.1 303.8,200.1 303.9,196.0 304.0,200.3 304.1,197.0 304.2,197.0 304.4,198.7 304.5,199.6 304.6,198.2 304.7,197.8 304.8,201.1 305.0,199.0 305.1,196.6 305.2,198.0 305.3,200.7 305.4,198.8 305.6,199.5 305.7,201.2 305.8,197.5 305.9,198.9 306.0,197.4 306.2,198.4 306.3,199.1 306.4,196.5 306.5,198.6 306.6,198.6 306.8,199.9 306.9,197.6 307.0,196.6 307.1,199.0 307.2,196.8 307.4,198.7 307.5,199.2 307.6,197.2 307.7,198.2 307.8,197.0 308.0,194.4 308.1,196.4 308.2,195.5 308.3,198.5 308.4,196.9 308.6,198.2 308.7,198.4 308.8,199.9 308.9,198.0 309.0,197.9 309.2,199.2 309.3,200.7 309.4,198.4 309.5,199.0 309.6,198.2 309.8,197.5 309.9,196.3 310.0,198.4 310.1,198.1 310.2,198.2 310.4,201.3 310.5,198.0 310.6,199.0 310.7,198.0 310.8,200.2 311.0,198.1 311.1,201.1 311.2,198.2 311.3,199.6 311.4,200.0 311.6,198.2 311.7,199.8 311.8,198.7 311.9,197.5 312.0,197.6 312.2,199.1 312.3,201.1 312.4,197.9 312.5,199.4 312.6,197.5 312.8,199.0 312.9,196.8 313.0,197.5 313.1,198.6 313.2,197.6 313.4,198.3 313.5,200.0 313.6,198.5 313.7,197.7 313.8,197.0 314.0,197.9 314.1,200.3 314.2,198.6 314.3,198.5 314.4,199.7 314.6,199.9 314.7,200.1 314.8,198.2 314.9,197.4 315.0,196.4 315.2,197.8 315.3,198.2 315.4,199.7 315.5,199.2 315.6,198.0 315.8,200.0 315.9,197.0 316.0,197.3 316.1,197.1 316.2,197.3 316.4,198.4 316.5,197.6 316.6,197.7 316.7,200.6 316.8,196.8 317.0,197.4 317.1,198.5 317.2,199.4 317.3,199.5 317.4,198.4 317.6,198.3 317.7,198.5 317.8,199.8 317.9,197.6 318.0,195.6 318.2,199.1 318.3,197.2 318.4,198.8 318.5,200.8 318.6,199.0 318.8,201.4 318.9,196.7 319.0,199.2 319.1,199.4 319.2,200.0 319.4,197.9 319.5,199.1 319.6,199.1 319.7,199.0 319.8,197.0 320.0,196.6 320.1,199.7 320.2,199.4 320.3,199.0 320.4,199.8 320.6,200.4 320.7,197.4 320.8,200.0 320.9,201.0 321.0,200.4 321.2,199.8 321.3,199.9 321.4,197.0 321.5,198.3 321.6,200.4 321.8,201.0 321.9,199.7 322.0,198.4 322.1,198.9 322.2,200.2 322.4,201.8 322.5,200.1 322.6,198.4 322.7,199.9 322.8,199.7 323.0,202.3 323.1,199.9 323.2,199.2 323.3,199.0 323.4,197.5 323.6,197.7 323.7,198.5 323.8,198.0 323.9,199.4 324.0,199.3 324.2,200.4 324.3,201.2 324.4,199.4 324.5,198.9 324.6,196.7 324.8,199.7 324.9,200.1 325.0,198.1 325.1,198.6 325.2,198.2 325.4,200.6 325.5,200.0 325.6,200.8 325.7,197.6 325.8,202.8 326.0,198.0 326.1,197.8 326.2,199.5 326.3,198.5 326.4,201.6 326.6,198.6 326.7,198.3 326.8,200.5 326.9,200.8 327.0,198.1 327.2,198.6 327.3,198.7 327.4,199.0 327.5,201.5 327.6,200.9 327.8,200.6 327.9,200.9 328.0,199.2 328.1,200.4 328.2,199.1 328.4,198.2 328.5,201.4 328.6,196.9 328.7,199.2 328.8,198.4 329.0,197.0 329.1,198.7 329.2,199.3 329.3,199.8 329.4,198.1 329.6,200.2 329.7,199.6 329.8,200.3 329.9,196.6 330.0,198.6 330.2,198.4 330.3,200.0 330.4,198.2 330.5,198.5 330.6,197.7 330.8,197.6 330.9,197.9 331.0,200.5 331.1,197.8 331.2,195.9 331.4,199.5 331.5,198.6 331.6,199.9 331.7,199.9 331.8,198.7 332.0,198.6 332.1,198.4 332.2,199.1 332.3,198.1 332.4,199.4 332.6,200.9 332.7,198.2 332.8,198.2 332.9,198.2 333.0,199.8 333.2,199.9 333.3,200.9 333.4,199.9 333.5,199.1 333.6,199.6 333.8,197.2 333.9,199.7 334.0,199.1 334.1,201.6 334.2,200.6 334.4,197.7 334.5,198.0 334.6,199.9 334.7,196.0 334.8,197.4 335.0,199.1 335.1,199.4 335.2,198.7 335.3,199.9 335.4,198.0 335.6,198.4 335.7,197.9 335.8,196.6 335.9,198.0 336.0,197.1 336.2,197.8 336.3,194.1 336.4,197.5 336.5,196.5 336.6,196.2 336.8,196.9 336.9,196.0 337.0,197.6 337.1,197.8 337.2,197.1 337.4,197.0 337.5,196.1 337.6,195.5 337.7,193.6 337.8,194.7 338.0,196.8 338.1,196.2 338.2,194.6 338.3,195.5 338.4,196.9 338.6,195.5 338.7,198.0 338.8,195.1 338.9,197.4 339.0,197.5 339.2,197.0 339.3,197.4 339.4,197.9 339.5,194.4 339.6,198.2 339.8,199.2 339.9,198.4 340.0,199.5 340.1,196.6 340.2,198.2 340.4,198.8 340.5,198.1 340.6,200.1 340.7,199.3 340.8,198.1 341.0,199.8 341.1,199.9 341.2,198.4 341.3,199.8 341.4,199.5 341.6,199.5 341.7,197.5 341.8,200.8 341.9,200.0 342.0,199.2 342.2,199.7 342.3,199.7 342.4,199.0 342.5,198.6 342.6,199.5 342.8,198.7 342.9,198.8 343.0,198.0 343.1,199.1 343.2,200.8 343.4,199.8 343.5,199.6 343.6,199.2 343.7,199.1 343.8,197.7 344.0,201.8 344.1,198.7 344.2,197.7 344.3,200.2 344.4,200.0 344.6,199.0 344.7,197.8 344.8,198.0 344.9,201.8 345.0,199.6 345.2,198.9 345.3,202.2 345.4,199.1 345.5,198.6 345.6,200.5 345.8,200.3 345.9,201.8 346.0,197.9 346.1,200.2 346.2,197.7 346.4,200.5 346.5,199.1 346.6,199.3 346.7,199.0 346.8,201.0 347.0,202.0 347.1,199.8 347.2,199.6 347.3,199.3 347.4,200.6 347.6,198.7 347.7,204.5 347.8,199.7 347.9,202.2 348.0,200.2 348.2,198.3 348.3,198.1 348.4,199.5 348.5,199.1 348.6,199.7 348.8,198.6 348.9,203.0 349.0,202.8 349.1,197.8 349.2,200.7 349.4,201.6 349.5,199.7 349.6,199.8 349.7,201.5 349.8,200.8 350.0,198.6 350.1,201.7 350.2,199.5 350.3,202.5 350.4,198.9 350.6,197.3 350.7,200.3 350.8,201.7 350.9,200.8 351.0,200.4 351.2,199.0 351.3,201.4 351.4,197.9 351.5,201.2 351.6,198.7 351.8,199.5 351.9,198.6 352.0,199.1 352.1,202.1 352.2,198.8 352.4,200.5 352.5,199.2 352.6,201.6 352.7,198.5 352.8,200.3 353.0,201.4 353.1,203.1 353.2,198.8 353.3,199.2 353.4,200.2 353.6,202.2 353.7,199.0 353.8,201.4 353.9,199.5 354.0,199.0 354.2,198.3 354.3,200.5 354.4,201.6 354.5,200.2 354.6,197.7 354.8,199.7 354.9,201.6 355.0,201.5 355.1,200.7 355.2,202.3 355.4,198.8 355.5,198.9 355.6,203.4 355.7,201.3 355.8,200.2 356.0,199.8 356.1,197.2 356.2,201.5 356.3,197.9 356.4,198.0 356.6,200.4 356.7,202.4 356.8,200.0 356.9,201.0 357.0,200.0 357.2,201.0 357.3,198.5 357.4,203.2 357.5,199.4 357.6,201.3 357.8,198.0 357.9,202.8 358.0,201.2 358.1,203.1 358.2,199.8 358.4,202.0 358.5,200.4 358.6,200.6 358.7,202.3 358.8,199.6 359.0,201.6 359.1,203.2 359.2,202.9 359.3,202.1 359.4,201.2 359.6,199.6 359.7,202.6 359.8,199.9 359.9,202.3 360.0,200.4 360.2,200.9 360.3,200.8 360.4,201.6 360.5,200.3 360.6,201.1 360.8,200.2 360.9,201.6 361.0,201.3 361.1,201.5 361.2,199.9 361.4,201.4 361.5,201.0 361.6,201.7 361.7,201.1 361.8,199.8 362.0,201.9 362.1,200.2 362.2,201.4 362.3,198.5 362.4,201.7 362.6,201.9 362.7,199.9 362.8,201.8 362.9,200.6 363.0,202.8 363.2,201.9 363.3,199.6 363.4,200.9 363.5,199.0 363.6,200.8 363.8,201.8 363.9,202.2 364.0,201.1 364.1,200.9 364.2,201.4 364.4,200.5 364.5,201.6 364.6,202.6 364.7,201.5 364.8,202.3 365.0,200.3 365.1,200.7 365.2,201.7 365.3,203.8 365.4,202.6 365.6,203.5 365.7,201.4 365.8,202.9 365.9,199.3 366.0,202.1 366.2,198.9 366.3,202.9 366.4,202.0 366.5,202.9 366.6,202.0 366.8,200.9 366.9,200.6 367.0,201.7 367.1,203.4 367.2,202.3 367.4,200.9 367.5,200.9 367.6,200.7 367.7,201.3 367.8,201.5 368.0,201.0 368.1,201.6 368.2,199.7 368.3,203.5 368.4,201.9 368.6,203.5 368.7,202.0 368.8,201.4 368.9,201.8 369.0,201.9 369.2,200.9 369.3,201.2 369.4,204.0 369.5,202.9 369.6,201.1 369.8,202.4 369.9,200.7 370.0,203.4 370.1,200.5 370.2,202.8 370.4,201.8 370.5,201.8 370.6,200.8 370.7,201.5 370.8,200.9 371.0,200.8 371.1,202.4 371.2,204.9 371.3,201.4 371.4,203.0 371.6,201.8 371.7,201.0 371.8,203.5 371.9,202.6 372.0,203.2 372.2,202.0 372.3,202.1 372.4,200.9 372.5,201.6 372.6,203.9 372.8,199.2 372.9,202.4 373.0,203.7 373.1,202.9 373.2,203.0 373.4,201.6 373.5,203.3 373.6,203.3 373.7,201.9 373.8,204.0 374.0,201.4 374.1,199.0 374.2,202.0 374.3,201.8 374.4,201.0 374.6,201.4 374.7,201.3 374.8,199.8 374.9,203.5 375.0,202.0 375.2,205.2 375.3,202.0 375.4,202.5 375.5,200.2 375.6,203.2 375.8,200.7 375.9,202.6 376.0,203.1 376.1,202.9 376.2,201.0 376.4,201.1 376.5,202.9 376.6,203.4 376.7,203.7 376.8,202.0 377.0,201.9 377.1,204.1 377.2,201.3 377.3,202.9 377.4,201.6 377.6,200.3 377.7,200.6 377.8,202.5 377.9,202.2 378.0,202.5 378.2,201.5 378.3,201.3 378.4,202.2 378.5,201.6 378.6,200.0 378.8,201.3 378.9,203.8 379.0,200.9 379.1,202.4 379.2,201.6 379.4,202.5 379.5,200.6 379.6,200.1 379.7,202.1 379.8,200.7 380.0,201.4 380.1,201.0 380.2,202.5 380.3,201.6 380.4,201.4 380.6,200.0 380.7,199.2 380.8,200.0 380.9,201.9 381.0,201.7 381.2,201.5 381.3,200.3 381.4,199.5 381.5,201.9 381.6,200.8 381.8,201.2 381.9,199.4 382.0,199.7 382.1,201.3 382.2,201.4 382.4,199.5 382.5,201.0 382.6,199.4 382.7,202.2 382.8,201.6 383.0,203.6 383.1,202.8 383.2,200.4 383.3,201.4 383.4,200.7 383.6,201.5 383.7,202.3 383.8,201.5 383.9,201.7 384.0,200.1 384.2,202.4 384.3,201.8 384.4,202.5 384.5,203.1 384.6,202.0 384.8,202.8 384.9,201.3 385.0,203.1 385.1,202.1 385.2,201.5 385.4,201.9 385.5,200.6 385.6,201.5 385.7,201.8 385.8,202.3 386.0,202.2 386.1,201.6 386.2,202.2 386.3,200.0 386.4,202.5 386.6,203.1 386.7,203.3 386.8,203.7 386.9,202.2 387.0,202.4 387.2,202.0 387.3,202.0 387.4,202.7 387.5,204.1 387.6,200.6 387.8,202.0 387.9,202.9 388.0,201.5 388.1,203.1 388.2,201.1 388.4,202.2 388.5,200.8 388.6,203.0 388.7,201.8 388.8,203.4 389.0,202.3 389.1,201.6 389.2,202.2 389.3,202.8 389.4,202.7 389.6,202.4 389.7,202.3 389.8,202.7 389.9,203.7 390.0,202.1 390.2,203.2 390.3,201.3 390.4,203.8 390.5,203.2 390.6,202.4 390.8,202.4 390.9,200.9 391.0,202.9 391.1,202.5 391.2,201.2 391.4,202.3 391.5,203.5 391.6,203.0 391.7,203.1 391.8,202.2 392.0,203.8 392.1,202.8 392.2,203.8 392.3,205.3 392.4,200.6 392.6,202.3 392.7,202.9 392.8,202.1 392.9,204.0 393.0,202.5 393.2,204.7 393.3,203.7 393.4,203.4 393.5,202.9 393.6,203.8 393.8,203.5 393.9,204.6 394.0,203.4 394.1,204.1 394.2,203.4 394.4,203.3 394.5,201.2 394.6,203.0 394.7,203.4 394.8,201.7 395.0,201.4 395.1,202.6 395.2,203.3 395.3,201.1 395.4,203.3 395.6,204.0 395.7,202.7 395.8,203.3 395.9,203.5 396.0,202.3 396.2,203.7 396.3,203.5 396.4,201.6 396.5,203.6 396.6,204.0 396.8,201.8 396.9,204.0 397.0,202.7 397.1,201.6 397.2,201.9 397.4,202.1 397.5,203.6 397.6,202.5 397.7,202.6 397.8,201.7 398.0,203.1 398.1,201.7 398.2,202.3 398.3,203.7 398.4,203.8 398.6,202.5 398.7,203.0 398.8,203.6 398.9,203.0 399.0,204.4 399.2,204.5 399.3,203.0 399.4,201.7 399.5,202.9 399.6,204.5 399.8,204.3 399.9,204.4 400.0,204.3 400.1,202.5 400.2,203.4 400.4,204.2 400.5,203.4 400.6,204.0 400.7,202.0 400.8,201.8 401.0,205.3 401.1,203.9 401.2,203.7 401.3,204.7 401.4,205.5 401.6,206.2 401.7,200.5 401.8,203.5 401.9,204.2 402.0,201.0 402.2,201.2 402.3,202.9 402.4,205.1 402.5,204.1 402.6,205.4 402.8,203.4 402.9,204.3 403.0,204.7 403.1,203.6 403.2,203.1 403.4,203.2 403.5,199.1 403.6,203.4 403.7,201.1 403.8,202.2 404.0,203.8 404.1,203.5 404.2,200.9 404.3,203.6 404.4,203.9 404.6,203.3 404.7,203.8 404.8,203.7 404.9,201.2 405.0,202.8 405.2,202.7 405.3,201.7 405.4,203.0 405.5,202.1 405.6,202.9 405.8,202.1 405.9,204.1 406.0,205.4 406.1,202.4 406.2,203.0 406.4,203.0 406.5,203.4 406.6,202.8 406.7,200.5 406.8,203.3 407.0,202.8 407.1,201.7 407.2,202.7 407.3,202.3 407.4,203.1 407.6,202.5 407.7,202.5 407.8,202.9 407.9,203.0 408.0,202.8 408.2,204.0 408.3,203.0 408.4,201.9 408.5,204.5 408.6,202.8 408.8,204.3 408.9,201.4 409.0,203.1 409.1,204.3 409.2,203.8 409.4,202.5 409.5,201.7 409.6,201.7 409.7,202.0 409.8,201.1 410.0,201.3 410.1,201.0 410.2,200.9 410.3,202.1 410.4,199.9 410.6,201.8 410.7,202.3 410.8,200.4 410.9,200.3 411.0,201.2 411.2,201.0 411.3,201.9 411.4,198.6 411.5,200.5 411.6,201.9 411.8,200.4 411.9,202.1 412.0,202.4 412.1,199.4 412.2,201.5 412.4,200.4 412.5,199.8 412.6,199.5 412.7,199.6 412.8,199.0 413.0,199.9 413.1,201.2 413.2,201.6 413.3,200.0 413.4,201.2 413.6,201.3 413.7,198.4 413.8,201.8 413.9,199.9 414.0,200.1 414.2,202.3 414.3,203.4 414.4,200.5 414.5,200.9 414.6,200.9 414.8,201.5 414.9,201.7 415.0,201.3 415.1,200.5 415.2,204.2 415.4,201.9 415.5,201.6 415.6,203.4 415.7,202.2 415.8,203.7 416.0,203.5 416.1,203.7 416.2,202.3 416.3,203.4 416.4,201.2 416.6,201.4 416.7,202.9 416.8,202.6 416.9,204.3 417.0,202.6 417.2,201.1 417.3,203.0 417.4,202.7 417.5,203.2 417.6,201.8 417.8,202.2 417.9,203.1 418.0,203.9 418.1,203.5 418.2,203.9 418.4,201.6 418.5,202.9 418.6,203.4 418.7,204.2 418.8,203.5 419.0,203.0 419.1,203.1 419.2,203.1 419.3,201.8 419.4,203.3 419.6,204.1 419.7,204.0 419.8,201.4 419.9,203.3 420.0,201.7 420.2,204.4 420.3,203.9 420.4,204.1 420.5,202.6 420.6,201.4 420.8,202.3 420.9,203.0 421.0,201.8 421.1,202.3 421.2,205.2 421.4,202.0 421.5,204.0 421.6,201.5 421.7,203.7 421.8,204.3 422.0,203.9 422.1,204.7 422.2,205.3 422.3,202.0 422.4,203.7 422.6,204.0 422.7,203.9 422.8,205.1 422.9,203.8 423.0,204.7 423.2,204.7 423.3,203.6 423.4,204.1 423.5,202.7 423.6,203.8 423.8,203.7 423.9,203.4 424.0,203.1 424.1,204.5 424.2,203.4 424.4,205.9 424.5,204.9 424.6,204.3 424.7,203.0 424.8,204.5 425.0,203.7 425.1,203.7 425.2,202.5 425.3,204.2 425.4,203.9 425.6,203.2 425.7,203.0 425.8,203.4 425.9,202.3 426.0,203.1 426.2,205.0 426.3,203.0 426.4,206.0 426.5,202.3 426.6,204.8 426.8,204.8 426.9,204.9 427.0,204.3 427.1,202.1 427.2,204.8 427.4,204.8 427.5,203.7 427.6,201.3 427.7,204.8 427.8,202.8 428.0,203.4 428.1,205.0 428.2,205.1 428.3,204.1 428.4,203.2 428.6,205.4 428.7,204.9 428.8,203.6 428.9,202.8 429.0,204.0 429.2,202.4 429.3,205.5 429.4,204.3 429.5,203.4 429.6,204.2 429.8,202.1 429.9,203.7 430.0,203.1 430.1,202.2 430.2,203.1 430.4,204.1 430.5,202.4 430.6,203.6 430.7,202.3 430.8,204.0 431.0,202.0 431.1,204.5 431.2,204.5 431.3,204.6 431.4,205.6 431.6,204.0 431.7,203.9 431.8,204.4 431.9,203.4 432.0,201.9 432.2,202.6 432.3,202.6 432.4,204.0 432.5,203.2 432.6,203.4 432.8,204.4 432.9,204.0 433.0,205.8 433.1,203.8 433.2,202.9 433.4,205.1 433.5,203.5 433.6,203.8 433.7,204.9 433.8,204.1 434.0,204.6 434.1,203.3 434.2,203.6 434.3,204.5 434.4,203.4 434.6,203.5 434.7,203.9 434.8,205.5 434.9,205.4 435.0,204.2 435.2,204.0 435.3,203.3 435.4,205.3 435.5,204.4 435.6,204.9 435.8,202.6 435.9,204.8 436.0,204.2 436.1,204.8 436.2,205.0 436.4,204.1 436.5,203.7 436.6,204.7 436.7,202.9 436.8,205.5 437.0,204.4 437.1,203.0 437.2,205.3 437.3,205.0 437.4,205.6 437.6,205.1 437.7,204.6 437.8,204.1 437.9,203.1 438.0,204.9 438.2,204.7 438.3,203.7 438.4,204.7 438.5,203.3 438.6,205.2 438.8,204.3 438.9,204.4 439.0,203.5 439.1,205.1 439.2,204.3 439.4,203.6 439.5,204.6 439.6,204.0 439.7,205.2 439.8,202.7 440.0,203.1 440.1,206.2 440.2,203.7 440.3,204.7 440.4,203.8 440.6,204.4 440.7,206.8 440.8,202.3 440.9,204.8 441.0,204.3 441.2,204.3 441.3,203.5 441.4,203.3 441.5,205.6 441.6,204.7 441.8,203.1 441.9,204.3 442.0,203.0 442.1,207.0 442.2,204.6 442.4,202.6 442.5,205.2 442.6,204.9 442.7,204.6 442.8,204.5 443.0,203.8"/><polyline fill="none" stroke="#0b4e80" stroke-width="1.1" stroke-linejoin="round" points="44.8,257.0 44.9,247.7 45.0,253.8 45.2,251.9 45.3,252.1 45.4,252.7 45.5,249.1 45.6,252.8 45.8,251.5 45.9,260.1 46.0,253.9 46.1,252.7 46.2,252.9 46.4,252.2 46.5,251.5 46.6,252.9 46.7,254.7 46.8,253.3 47.0,255.8 47.1,253.5 47.2,254.0 47.3,257.1 47.4,255.1 47.6,253.1 47.7,253.8 47.8,255.3 47.9,258.2 48.0,253.7 48.2,253.8 48.3,256.4 48.4,252.6 48.5,253.9 48.6,256.3 48.8,255.7 48.9,254.8 49.0,256.0 49.1,249.0 49.2,256.8 49.4,252.8 49.5,251.4 49.6,255.4 49.7,256.3 49.8,254.0 50.0,252.8 50.1,255.1 50.2,255.0 50.3,257.9 50.4,256.7 50.6,255.6 50.7,257.5 50.8,254.8 50.9,253.4 51.0,256.5 51.2,256.5 51.3,255.0 51.4,253.9 51.5,255.9 51.6,250.5 51.8,257.0 51.9,256.6 52.0,252.3 52.1,255.8 52.2,253.8 52.4,257.3 52.5,251.7 52.6,254.0 52.7,257.3 52.8,258.2 53.0,251.6 53.1,254.9 53.2,256.6 53.3,254.8 53.4,259.3 53.6,253.7 53.7,256.8 53.8,254.0 53.9,259.0 54.0,256.2 54.2,255.5 54.3,252.8 54.4,259.7 54.5,257.9 54.6,257.9 54.8,258.7 54.9,257.1 55.0,255.2 55.1,254.9 55.2,254.9 55.4,259.3 55.5,253.7 55.6,255.4 55.7,256.0 55.8,257.1 56.0,257.9 56.1,254.2 56.2,253.3 56.3,256.8 56.4,259.3 56.6,258.4 56.7,257.3 56.8,256.3 56.9,257.5 57.0,256.5 57.2,258.6 57.3,255.4 57.4,257.3 57.5,256.8 57.6,258.2 57.8,257.6 57.9,262.2 58.0,260.2 58.1,260.2 58.2,253.1 58.4,256.5 58.5,256.0 58.6,258.3 58.7,252.7 58.8,259.7 59.0,259.5 59.1,254.8 59.2,255.4 59.3,255.8 59.4,257.5 59.6,258.7 59.7,261.6 59.8,257.1 59.9,259.1 60.0,257.9 60.2,261.1 60.3,259.1 60.4,260.3 60.5,255.5 60.6,257.3 60.8,256.1 60.9,260.7 61.0,259.0 61.1,257.1 61.2,256.9 61.4,258.7 61.5,256.4 61.6,256.0 61.7,258.8 61.8,262.8 62.0,257.4 62.1,256.8 62.2,255.6 62.3,255.3 62.4,259.0 62.6,259.7 62.7,258.0 62.8,258.7 62.9,258.3 63.0,258.3 63.2,255.0 63.3,257.2 63.4,258.3 63.5,256.6 63.6,257.2 63.8,256.5 63.9,257.5 64.0,259.9 64.1,257.4 64.2,257.9 64.4,259.9 64.5,259.5 64.6,261.6 64.7,254.2 64.8,260.0 65.0,257.4 65.1,258.6 65.2,260.0 65.3,260.5 65.4,260.5 65.6,258.7 65.7,261.6 65.8,257.9 65.9,258.2 66.0,260.1 66.2,257.4 66.3,262.8 66.4,260.5 66.5,262.8 66.6,258.5 66.8,257.8 66.9,258.9 67.0,260.0 67.1,257.5 67.2,259.4 67.4,258.6 67.5,261.8 67.6,257.4 67.7,260.7 67.8,257.4 68.0,256.8 68.1,257.3 68.2,256.4 68.3,259.0 68.4,260.8 68.6,259.1 68.7,260.0 68.8,262.0 68.9,259.4 69.0,259.2 69.2,258.3 69.3,255.7 69.4,260.4 69.5,255.4 69.6,260.2 69.8,258.9 69.9,261.1 70.0,258.8 70.1,257.3 70.2,259.7 70.4,257.9 70.5,258.6 70.6,259.1 70.7,258.7 70.8,258.7 71.0,257.4 71.1,258.7 71.2,254.9 71.3,258.8 71.4,256.7 71.6,261.3 71.7,261.6 71.8,255.3 71.9,259.4 72.0,258.9 72.2,257.1 72.3,260.2 72.4,258.3 72.5,255.7 72.6,258.7 72.8,258.9 72.9,259.4 73.0,256.8 73.1,260.4 73.2,260.7 73.4,257.0 73.5,258.0 73.6,259.1 73.7,258.2 73.8,262.7 74.0,259.7 74.1,257.3 74.2,257.8 74.3,259.2 74.4,263.8 74.6,259.0 74.7,259.6 74.8,260.4 74.9,259.3 75.0,263.9 75.2,258.4 75.3,260.9 75.4,259.7 75.5,260.6 75.6,257.1 75.8,262.9 75.9,259.2 76.0,259.5 76.1,257.7 76.2,258.1 76.4,260.6 76.5,261.4 76.6,261.0 76.7,261.9 76.8,260.9 77.0,259.6 77.1,261.2 77.2,260.7 77.3,259.4 77.4,261.0 77.6,262.1 77.7,260.0 77.8,258.9 77.9,261.0 78.0,263.3 78.2,259.2 78.3,259.5 78.4,259.4 78.5,262.0 78.6,256.1 78.8,260.4 78.9,262.0 79.0,258.1 79.1,262.6 79.2,260.7 79.4,258.6 79.5,260.1 79.6,256.8 79.7,258.6 79.8,263.3 80.0,258.0 80.1,263.3 80.2,259.6 80.3,261.7 80.4,259.9 80.6,255.5 80.7,258.7 80.8,260.2 80.9,257.6 81.0,257.2 81.2,260.5 81.3,258.6 81.4,256.6 81.5,258.5 81.6,261.5 81.8,259.0 81.9,261.7 82.0,262.8 82.1,260.0 82.2,257.7 82.4,257.4 82.5,259.9 82.6,261.6 82.7,260.4 82.8,261.0 83.0,259.1 83.1,260.5 83.2,259.0 83.3,259.3 83.4,257.5 83.6,256.9 83.7,259.0 83.8,257.8 83.9,258.1 84.0,261.3 84.2,259.8 84.3,265.6 84.4,261.8 84.5,258.8 84.6,261.5 84.8,260.7 84.9,258.7 85.0,262.1 85.1,258.5 85.2,254.1 85.4,261.5 85.5,258.8 85.6,262.9 85.7,258.7 85.8,257.7 86.0,263.0 86.1,257.9 86.2,260.4 86.3,262.8 86.4,260.2 86.6,259.8 86.7,260.2 86.8,261.6 86.9,258.4 87.0,261.1 87.2,261.1 87.3,264.4 87.4,259.3 87.5,258.2 87.6,261.3 87.8,259.2 87.9,260.5 88.0,260.2 88.1,262.1 88.2,258.6 88.4,259.7 88.5,255.0 88.6,258.2 88.7,262.8 88.8,258.5 89.0,258.5 89.1,257.5 89.2,260.9 89.3,260.2 89.4,257.5 89.6,261.1 89.7,260.3 89.8,261.2 89.9,258.5 90.0,263.1 90.2,260.5 90.3,259.5 90.4,258.7 90.5,259.2 90.6,261.3 90.8,259.2 90.9,261.7 91.0,260.8 91.1,262.2 91.2,261.2 91.4,259.5 91.5,255.9 91.6,260.1 91.7,261.1 91.8,259.9 92.0,260.6 92.1,258.6 92.2,258.8 92.3,257.7 92.4,262.1 92.6,259.8 92.7,258.5 92.8,256.9 92.9,259.1 93.0,262.1 93.2,260.3 93.3,258.0 93.4,262.1 93.5,262.0 93.6,261.2 93.8,260.8 93.9,261.5 94.0,260.3 94.1,260.7 94.2,257.7 94.4,262.1 94.5,259.6 94.6,263.0 94.7,255.3 94.8,260.5 95.0,261.0 95.1,258.5 95.2,259.9 95.3,260.5 95.4,260.1 95.6,258.0 95.7,258.7 95.8,260.9 95.9,261.4 96.0,259.1 96.2,259.0 96.3,259.2 96.4,260.8 96.5,256.8 96.6,256.3 96.8,259.0 96.9,256.6 97.0,257.6 97.1,258.8 97.2,259.5 97.4,256.6 97.5,260.1 97.6,255.2 97.7,259.5 97.8,255.5 98.0,256.0 98.1,259.6 98.2,257.6 98.3,256.8 98.4,257.5 98.6,259.1 98.7,258.1 98.8,258.1 98.9,260.1 99.0,256.8 99.2,257.2 99.3,257.0 99.4,260.2 99.5,259.8 99.6,260.3 99.8,257.8 99.9,257.5 100.0,259.4 100.1,257.0 100.2,259.3 100.4,259.0 100.5,256.3 100.6,257.4 100.7,257.3 100.8,260.8 101.0,262.4 101.1,257.3 101.2,257.4 101.3,253.1 101.4,257.7 101.6,257.3 101.7,255.2 101.8,258.7 101.9,254.2 102.0,256.7 102.2,257.3 102.3,254.7 102.4,258.6 102.5,258.9 102.6,254.3 102.8,254.2 102.9,258.0 103.0,256.7 103.1,254.5 103.2,256.2 103.4,256.5 103.5,256.4 103.6,258.1 103.7,257.3 103.8,259.8 104.0,259.0 104.1,257.7 104.2,258.4 104.3,258.8 104.4,257.6 104.6,254.0 104.7,257.8 104.8,256.3 104.9,259.1 105.0,256.2 105.2,257.0 105.3,256.6 105.4,259.1 105.5,256.2 105.6,255.3 105.8,256.4 105.9,254.9 106.0,256.0 106.1,255.6 106.2,256.1 106.4,259.1 106.5,254.7 106.6,255.5 106.7,255.0 106.8,256.6 107.0,253.1 107.1,254.0 107.2,255.1 107.3,256.2 107.4,255.0 107.6,254.1 107.7,253.4 107.8,255.9 107.9,257.6 108.0,255.5 108.2,255.2 108.3,255.6 108.4,253.0 108.5,254.1 108.6,254.1 108.8,255.1 108.9,254.5 109.0,252.2 109.1,256.5 109.2,257.5 109.4,253.8 109.5,255.0 109.6,254.7 109.7,255.6 109.8,251.4 110.0,257.1 110.1,253.1 110.2,256.3 110.3,254.1 110.4,253.1 110.6,253.6 110.7,255.4 110.8,252.1 110.9,253.0 111.0,252.7 111.2,250.4 111.3,255.9 111.4,254.6 111.5,253.4 111.6,255.6 111.8,251.6 111.9,253.2 112.0,256.5 112.1,255.0 112.2,249.0 112.4,247.0 112.5,251.2 112.6,255.0 112.7,252.1 112.8,252.5 113.0,254.0 113.1,251.2 113.2,253.2 113.3,254.2 113.4,253.6 113.6,253.4 113.7,251.5 113.8,253.6 113.9,251.8 114.0,254.9 114.2,257.2 114.3,251.1 114.4,248.4 114.5,251.6 114.6,253.0 114.8,254.2 114.9,254.2 115.0,250.8 115.1,250.7 115.2,254.5 115.4,250.1 115.5,254.1 115.6,251.6 115.7,253.4 115.8,253.2 116.0,253.3 116.1,253.4 116.2,250.0 116.3,252.3 116.4,251.8 116.6,252.3 116.7,253.9 116.8,251.1 116.9,250.3 117.0,250.2 117.2,250.9 117.3,252.8 117.4,249.9 117.5,253.5 117.6,251.9 117.8,250.9 117.9,248.8 118.0,251.7 118.1,252.4 118.2,247.9 118.4,253.3 118.5,254.1 118.6,251.6 118.7,251.9 118.8,255.3 119.0,253.1 119.1,249.2 119.2,250.8 119.3,250.5 119.4,250.4 119.6,246.3 119.7,252.0 119.8,249.4 119.9,250.8 120.0,250.2 120.2,252.0 120.3,249.8 120.4,248.9 120.5,251.3 120.6,252.8 120.8,249.6 120.9,252.6 121.0,250.6 121.1,249.0 121.2,252.8 121.4,248.4 121.5,251.7 121.6,248.9 121.7,250.6 121.8,247.4 122.0,248.1 122.1,251.5 122.2,249.8 122.3,249.5 122.4,248.6 122.6,250.1 122.7,246.7 122.8,247.2 122.9,248.9 123.0,247.6 123.2,247.7 123.3,248.8 123.4,248.7 123.5,248.4 123.6,251.8 123.8,250.6 123.9,250.9 124.0,248.6 124.1,247.6 124.2,245.8 124.4,247.8 124.5,244.6 124.6,247.3 124.7,249.6 124.8,251.2 125.0,249.9 125.1,246.5 125.2,248.9 125.3,246.6 125.4,249.4 125.6,247.7 125.7,249.4 125.8,252.5 125.9,249.4 126.0,251.9 126.2,248.0 126.3,247.0 126.4,250.0 126.5,250.7 126.6,246.5 126.8,247.6 126.9,244.8 127.0,247.0 127.1,248.9 127.2,247.2 127.4,246.2 127.5,244.7 127.6,247.9 127.7,248.6 127.8,248.2 128.0,247.6 128.1,244.8 128.2,250.2 128.3,246.9 128.4,246.7 128.6,248.3 128.7,243.0 128.8,246.8 128.9,246.6 129.0,247.5 129.2,249.2 129.3,247.6 129.4,243.5 129.5,246.1 129.6,247.1 129.8,246.9 129.9,244.4 130.0,243.6 130.1,247.6 130.2,247.2 130.4,246.5 130.5,243.5 130.6,249.7 130.7,241.3 130.8,245.9 131.0,250.3 131.1,246.2 131.2,246.9 131.3,244.4 131.4,248.9 131.6,244.2 131.7,247.0 131.8,246.7 131.9,244.6 132.0,248.1 132.2,244.0 132.3,245.3 132.4,246.5 132.5,245.8 132.6,247.4 132.8,248.2 132.9,246.0 133.0,245.6 133.1,245.6 133.2,245.9 133.4,248.0 133.5,246.2 133.6,247.3 133.7,246.4 133.8,245.1 134.0,248.2 134.1,244.8 134.2,246.7 134.3,249.3 134.4,244.7 134.6,246.6 134.7,243.9 134.8,245.8 134.9,244.1 135.0,246.1 135.2,245.8 135.3,247.0 135.4,249.6 135.5,247.3 135.6,248.0 135.8,246.8 135.9,246.4 136.0,245.4 136.1,243.7 136.2,247.1 136.4,249.9 136.5,247.8 136.6,246.0 136.7,250.0 136.8,246.3 137.0,246.0 137.1,245.0 137.2,245.4 137.3,246.7 137.4,250.8 137.6,246.9 137.7,245.5 137.8,246.3 137.9,247.0 138.0,244.4 138.2,247.7 138.3,248.7 138.4,248.1 138.5,248.7 138.6,245.3 138.8,244.7 138.9,250.0 139.0,249.7 139.1,245.1 139.2,248.2 139.4,248.0 139.5,248.9 139.6,248.4 139.7,247.2 139.8,248.5 140.0,248.4 140.1,248.1 140.2,245.0 140.3,243.0 140.4,247.0 140.6,245.5 140.7,248.9 140.8,249.8 140.9,249.0 141.0,248.0 141.2,248.8 141.3,250.8 141.4,247.5 141.5,250.4 141.6,250.1 141.8,249.4 141.9,251.6 142.0,247.8 142.1,250.8 142.2,247.5 142.4,247.9 142.5,247.4 142.6,250.1 142.7,247.7 142.8,249.6 143.0,247.5 143.1,251.5 143.2,252.9 143.3,250.1 143.4,252.7 143.6,250.8 143.7,253.7 143.8,250.2 143.9,247.3 144.0,252.7 144.2,249.9 144.3,248.4 144.4,249.1 144.5,247.5 144.6,250.1 144.8,248.6 144.9,253.1 145.0,251.8 145.1,247.7 145.2,248.0 145.4,249.8 145.5,247.4 145.6,250.7 145.7,250.9 145.8,249.6 146.0,250.1 146.1,252.0 146.2,253.7 146.3,253.8 146.4,251.3 146.6,252.8 146.7,250.1 146.8,252.2 146.9,249.8 147.0,252.8 147.2,249.4 147.3,250.0 147.4,251.7 147.5,252.7 147.6,249.3 147.8,250.9 147.9,252.1 148.0,252.4 148.1,250.5 148.2,252.2 148.4,251.7 148.5,254.6 148.6,253.2 148.7,250.0 148.8,248.5 149.0,252.5 149.1,254.5 149.2,252.8 149.3,254.1 149.4,251.7 149.6,250.2 149.7,254.0 149.8,252.9 149.9,254.0 150.0,250.4 150.2,253.2 150.3,251.8 150.4,254.4 150.5,252.0 150.6,252.0 150.8,252.1 150.9,255.4 151.0,253.3 151.1,251.9 151.2,251.5 151.4,251.5 151.5,255.9 151.6,250.3 151.7,252.0 151.8,254.6 152.0,255.6 152.1,253.4 152.2,255.0 152.3,255.0 152.4,255.5 152.6,253.9 152.7,256.7 152.8,254.3 152.9,256.6 153.0,252.1 153.2,255.7 153.3,251.9 153.4,251.6 153.5,255.1 153.6,252.8 153.8,255.1 153.9,252.5 154.0,257.2 154.1,254.5 154.2,252.5 154.4,254.9 154.5,256.1 154.6,253.3 154.7,255.6 154.8,258.3 155.0,256.3 155.1,254.8 155.2,253.9 155.3,255.9 155.4,252.3 155.6,249.7 155.7,253.9 155.8,253.2 155.9,258.1 156.0,255.4 156.2,253.5 156.3,253.2 156.4,256.2 156.5,253.9 156.6,254.4 156.8,255.3 156.9,255.6 157.0,255.7 157.1,255.8 157.2,257.8 157.4,258.6 157.5,252.8 157.6,260.2 157.7,256.0 157.8,258.0 158.0,254.6 158.1,256.5 158.2,256.3 158.3,256.2 158.4,257.5 158.6,257.2 158.7,254.4 158.8,256.0 158.9,257.5 159.0,257.4 159.2,255.7 159.3,255.9 159.4,256.1 159.5,254.5 159.6,254.3 159.8,259.2 159.9,255.9 160.0,256.8 160.1,255.4 160.2,258.9 160.4,259.8 160.5,256.4 160.6,257.7 160.7,255.6 160.8,259.9 161.0,258.5 161.1,255.6 161.2,259.2 161.3,257.7 161.4,257.8 161.6,257.8 161.7,256.1 161.8,256.3 161.9,258.4 162.0,257.2 162.2,255.7 162.3,260.9 162.4,257.1 162.5,256.5 162.6,256.3 162.8,258.7 162.9,259.3 163.0,258.1 163.1,259.2 163.2,255.1 163.4,257.1 163.5,257.0 163.6,257.8 163.7,258.7 163.8,254.4 164.0,263.3 164.1,256.5 164.2,258.6 164.3,259.4 164.4,259.5 164.6,258.5 164.7,253.1 164.8,256.3 164.9,259.5 165.0,256.6 165.2,256.4 165.3,254.2 165.4,260.4 165.5,259.2 165.6,256.8 165.8,258.1 165.9,258.2 166.0,256.5 166.1,258.0 166.2,258.9 166.4,259.4 166.5,260.6 166.6,258.6 166.7,257.7 166.8,259.2 167.0,257.5 167.1,256.5 167.2,260.6 167.3,258.0 167.4,258.9 167.6,259.8 167.7,256.8 167.8,259.8 167.9,259.5 168.0,258.6 168.2,259.4 168.3,257.5 168.4,255.0 168.5,258.3 168.6,257.3 168.8,260.3 168.9,259.3 169.0,257.9 169.1,258.9 169.2,261.2 169.4,260.8 169.5,259.5 169.6,259.6 169.7,258.4 169.8,258.7 170.0,259.9 170.1,258.7 170.2,259.5 170.3,257.1 170.4,256.2 170.6,256.1 170.7,258.3 170.8,261.3 170.9,261.0 171.0,257.4 171.2,256.4 171.3,260.4 171.4,259.9 171.5,256.8 171.6,260.9 171.8,259.4 171.9,261.3 172.0,259.7 172.1,260.6 172.2,259.7 172.4,257.5 172.5,258.8 172.6,258.0 172.7,260.6 172.8,257.5 173.0,256.6 173.1,260.4 173.2,261.1 173.3,261.7 173.4,261.1 173.6,256.7 173.7,258.1 173.8,258.3 173.9,259.2 174.0,255.7 174.2,259.3 174.3,259.8 174.4,257.7 174.5,259.5 174.6,261.3 174.8,259.4 174.9,261.1 175.0,261.0 175.1,260.0 175.2,260.0 175.4,258.7 175.5,261.4 175.6,258.6 175.7,258.2 175.8,260.5 176.0,258.1 176.1,260.1 176.2,261.1 176.3,259.5 176.4,259.5 176.6,260.9 176.7,260.6 176.8,256.8 176.9,257.2 177.0,261.6 177.2,260.0 177.3,255.9 177.4,257.1 177.5,259.4 177.6,257.7 177.8,260.2 177.9,259.5 178.0,260.2 178.1,257.4 178.2,260.4 178.4,262.6 178.5,258.0 178.6,261.5 178.7,261.0 178.8,260.4 179.0,259.2 179.1,257.4 179.2,257.8 179.3,260.5 179.4,260.8 179.6,261.2 179.7,260.7 179.8,260.5 179.9,258.1 180.0,256.7 180.2,258.8 180.3,259.1 180.4,258.1 180.5,255.0 180.6,256.1 180.8,253.9 180.9,255.9 181.0,253.0 181.1,253.4 181.2,253.1 181.4,251.5 181.5,252.1 181.6,246.4 181.7,243.0 181.8,246.5 182.0,245.6 182.1,243.9 182.2,240.4 182.3,239.4 182.4,237.5 182.6,234.2 182.7,234.7 182.8,236.3 182.9,234.7 183.0,239.5 183.2,234.7 183.3,237.8 183.4,241.8 183.5,240.5 183.6,241.3 183.8,242.7 183.9,245.4 184.0,250.7 184.1,250.5 184.2,252.1 184.4,251.6 184.5,255.1 184.6,254.9 184.7,254.0 184.8,255.6 185.0,257.3 185.1,259.4 185.2,257.7 185.3,259.0 185.4,261.7 185.6,257.3 185.7,256.7 185.8,260.5 185.9,259.7 186.0,258.9 186.2,259.5 186.3,258.6 186.4,260.0 186.5,258.6 186.6,260.5 186.8,257.3 186.9,257.8 187.0,259.4 187.1,258.4 187.2,260.4 187.4,259.1 187.5,258.3 187.6,259.6 187.7,258.3 187.8,256.7 188.0,257.3 188.1,257.9 188.2,258.4 188.3,259.3 188.4,260.7 188.6,260.0 188.7,262.0 188.8,261.2 188.9,258.7 189.0,261.7 189.2,260.9 189.3,258.1 189.4,259.3 189.5,260.5 189.6,259.1 189.8,260.3 189.9,259.2 190.0,259.6 190.1,257.8 190.2,258.9 190.4,257.6 190.5,259.2 190.6,255.3 190.7,258.5 190.8,259.9 191.0,258.7 191.1,257.6 191.2,258.4 191.3,256.1 191.4,256.0 191.6,256.7 191.7,256.9 191.8,258.6 191.9,255.5 192.0,258.5 192.2,254.2 192.3,255.4 192.4,256.5 192.5,258.4 192.6,255.4 192.8,252.8 192.9,256.9 193.0,256.0 193.1,254.2 193.2,254.2 193.4,254.7 193.5,255.9 193.6,256.7 193.7,253.1 193.8,259.2 194.0,255.3 194.1,254.7 194.2,256.3 194.3,255.3 194.4,258.8 194.6,256.7 194.7,254.2 194.8,254.1 194.9,253.8 195.0,254.0 195.2,255.5 195.3,253.3 195.4,256.8 195.5,254.0 195.6,253.7 195.8,255.4 195.9,250.5 196.0,252.1 196.1,254.4 196.2,253.3 196.4,253.2 196.5,253.7 196.6,251.9 196.7,252.5 196.8,250.4 197.0,249.5 197.1,254.4 197.2,250.8 197.3,251.0 197.4,254.3 197.6,253.6 197.7,251.0 197.8,250.9 197.9,251.5 198.0,250.0 198.2,252.4 198.3,251.7 198.4,251.6 198.5,252.6 198.6,252.5 198.8,254.3 198.9,253.8 199.0,248.6 199.1,252.8 199.2,249.5 199.4,249.1 199.5,252.5 199.6,250.3 199.7,251.0 199.8,253.2 200.0,250.4 200.1,250.1 200.2,252.0 200.3,253.4 200.4,252.2 200.6,248.6 200.7,249.9 200.8,250.3 200.9,253.3 201.0,251.1 201.2,250.4 201.3,250.2 201.4,246.9 201.5,247.2 201.6,246.1 201.8,242.6 201.9,242.9 202.0,242.6 202.1,238.7 202.2,240.5 202.4,239.3 202.5,238.8 202.6,235.1 202.7,236.0 202.8,237.9 203.0,237.0 203.1,234.9 203.2,237.3 203.3,240.2 203.4,239.1 203.6,241.2 203.7,246.1 203.8,243.5 203.9,244.9 204.0,244.9 204.2,246.8 204.3,251.6 204.4,250.2 204.5,249.6 204.6,250.9 204.8,253.2 204.9,255.2 205.0,253.4 205.1,256.2 205.2,254.7 205.4,256.3 205.5,256.8 205.6,257.2 205.7,255.7 205.8,256.2 206.0,257.4 206.1,254.6 206.2,256.9 206.3,257.5 206.4,258.3 206.6,256.6 206.7,256.4 206.8,256.9 206.9,255.5 207.0,256.3 207.2,257.2 207.3,257.0 207.4,254.8 207.5,255.8 207.6,252.9 207.8,257.4 207.9,255.1 208.0,256.1 208.1,253.7 208.2,254.9 208.4,255.3 208.5,255.5 208.6,251.0 208.7,253.6 208.8,250.8 209.0,248.5 209.1,248.8 209.2,245.6 209.3,243.2 209.4,239.8 209.6,238.1 209.7,234.2 209.8,229.9 209.9,224.2 210.0,220.1 210.2,216.3 210.3,212.2 210.4,204.4 210.5,200.9 210.6,192.7 210.8,185.3 210.9,182.4 211.0,174.8 211.1,172.3 211.2,169.5 211.4,164.4 211.5,162.9 211.6,166.3 211.7,163.4 211.8,165.3 212.0,169.1 212.1,171.5 212.2,176.2 212.3,182.0 212.4,183.2 212.6,195.0 212.7,197.0 212.8,202.8 212.9,211.1 213.0,215.8 213.2,218.9 213.3,226.1 213.4,228.4 213.5,233.1 213.6,235.4 213.8,239.6 213.9,244.3 214.0,246.2 214.1,248.5 214.2,251.2 214.4,251.1 214.5,251.3 214.6,252.8 214.7,256.6 214.8,254.6 215.0,255.6 215.1,255.3 215.2,256.1 215.3,256.7 215.4,256.2 215.6,256.1 215.7,255.2 215.8,255.2 215.9,257.2 216.0,257.8 216.2,258.2 216.3,256.8 216.4,255.5 216.5,257.8 216.6,257.8 216.8,254.5 216.9,258.1 217.0,257.8 217.1,259.5 217.2,255.2 217.4,255.0 217.5,258.2 217.6,254.2 217.7,255.8 217.8,255.3 218.0,255.4 218.1,254.0 218.2,256.6 218.3,258.5 218.4,257.7 218.6,257.7 218.7,256.4 218.8,259.2 218.9,257.8 219.0,258.6 219.2,254.6 219.3,257.5 219.4,255.2 219.5,257.5 219.6,257.3 219.8,255.2 219.9,257.2 220.0,258.7 220.1,257.7 220.2,257.8 220.4,255.6 220.5,255.8 220.6,255.2 220.7,257.1 220.8,258.7 221.0,257.5 221.1,256.9 221.2,255.1 221.3,257.5 221.4,256.5 221.6,253.9 221.7,254.1 221.8,256.3 221.9,255.4 222.0,259.3 222.2,256.8 222.3,255.2 222.4,256.0 222.5,259.2 222.6,255.3 222.8,257.9 222.9,257.4 223.0,259.0 223.1,257.5 223.2,256.1 223.4,257.5 223.5,256.8 223.6,258.2 223.7,256.6 223.8,259.7 224.0,256.5 224.1,257.4 224.2,255.7 224.3,256.9 224.4,256.7 224.6,256.9 224.7,258.0 224.8,255.8 224.9,255.4 225.0,258.3 225.2,256.2 225.3,255.6 225.4,258.4 225.5,257.8 225.6,252.6 225.8,256.0 225.9,257.8 226.0,257.9 226.1,255.8 226.2,259.0 226.4,255.4 226.5,256.2 226.6,256.8 226.7,256.6 226.8,257.8 227.0,258.1 227.1,256.5 227.2,258.7 227.3,255.5 227.4,256.2 227.6,259.2 227.7,256.7 227.8,258.2 227.9,255.9 228.0,256.1 228.2,256.4 228.3,256.8 228.4,256.0 228.5,256.6 228.6,257.6 228.8,258.4 228.9,256.7 229.0,257.5 229.1,258.0 229.2,254.9 229.4,254.2 229.5,259.0 229.6,258.6 229.7,256.7 229.8,257.2 230.0,255.2 230.1,254.5 230.2,257.1 230.3,254.4 230.4,258.1 230.6,255.7 230.7,257.2 230.8,259.7 230.9,259.6 231.0,256.4 231.2,258.4 231.3,255.3 231.4,256.0 231.5,257.4 231.6,259.0 231.8,256.0 231.9,257.8 232.0,257.1 232.1,255.1 232.2,256.8 232.4,259.3 232.5,257.0 232.6,257.9 232.7,258.4 232.8,256.1 233.0,259.1 233.1,259.5 233.2,259.7 233.3,259.3 233.4,256.7 233.6,256.5 233.7,256.3 233.8,256.1 233.9,256.3 234.0,259.1 234.2,259.8 234.3,256.7 234.4,258.9 234.5,255.8 234.6,257.3 234.8,256.3 234.9,255.4 235.0,258.0 235.1,258.1 235.2,257.4 235.4,257.2 235.5,256.6 235.6,257.9 235.7,257.2 235.8,258.6 236.0,256.4 236.1,258.6 236.2,259.1 236.3,260.2 236.4,260.0 236.6,258.7 236.7,257.4 236.8,255.8 236.9,258.5 237.0,260.7 237.2,261.1 237.3,254.8 237.4,257.6 237.5,258.2 237.6,257.2 237.8,259.1 237.9,258.9 238.0,258.1 238.1,258.9 238.2,256.6 238.4,257.5 238.5,257.7 238.6,260.4 238.7,256.6 238.8,258.8 239.0,260.3 239.1,259.1 239.2,260.4 239.3,258.2 239.4,259.9 239.6,260.6 239.7,262.7 239.8,260.4 239.9,261.5 240.0,259.4 240.2,259.6 240.3,261.8 240.4,260.4 240.5,261.6 240.6,260.6 240.8,262.8 240.9,263.2 241.0,258.4 241.1,262.5 241.2,260.4 241.4,260.5 241.5,259.6 241.6,260.9 241.7,258.2 241.8,258.8 242.0,258.8 242.1,260.4 242.2,261.3 242.3,261.1 242.4,260.6 242.6,259.2 242.7,257.5 242.8,260.7 242.9,260.4 243.0,260.7 243.2,262.4 243.3,260.0 243.4,260.0 243.5,256.9 243.6,261.2 243.8,260.3 243.9,259.4 244.0,261.1 244.1,259.0 244.2,259.7 244.4,263.5 244.5,261.7 244.6,262.0 244.7,261.8 244.8,261.7 245.0,261.0 245.1,264.2 245.2,260.7 245.3,261.9 245.4,260.5 245.6,260.4 245.7,257.3 245.8,258.1 245.9,263.3 246.0,263.2 246.2,260.4 246.3,261.0 246.4,262.0 246.5,259.6 246.6,263.8 246.8,259.6 246.9,260.1 247.0,257.1 247.1,263.5 247.2,261.3 247.4,263.7 247.5,259.8 247.6,261.8 247.7,261.4 247.8,261.6 248.0,264.4 248.1,264.7 248.2,263.4 248.3,260.8 248.4,262.7 248.6,263.4 248.7,262.3 248.8,262.3 248.9,262.2 249.0,260.2 249.2,261.8 249.3,263.9 249.4,260.0 249.5,261.6 249.6,262.7 249.8,259.5 249.9,261.3 250.0,259.0 250.1,260.7 250.2,259.5 250.4,260.2 250.5,260.8 250.6,261.2 250.7,261.3 250.8,258.0 251.0,263.9 251.1,261.2 251.2,260.0 251.3,260.7 251.4,262.1 251.6,260.1 251.7,261.0 251.8,260.9 251.9,262.4 252.0,260.5 252.2,262.3 252.3,262.2 252.4,261.4 252.5,263.5 252.6,261.7 252.8,260.0 252.9,262.1 253.0,261.9 253.1,261.6 253.2,262.0 253.4,265.1 253.5,262.1 253.6,262.4 253.7,261.4 253.8,263.7 254.0,261.7 254.1,260.6 254.2,260.0 254.3,262.5 254.4,262.9 254.6,259.5 254.7,260.7 254.8,262.7 254.9,263.3 255.0,259.9 255.2,261.2 255.3,263.0 255.4,261.0 255.5,261.2 255.6,261.0 255.8,259.9 255.9,261.9 256.0,262.3 256.1,259.8 256.2,262.0 256.4,263.5 256.5,262.2 256.6,263.2 256.7,261.1 256.8,263.9 257.0,260.7 257.1,264.6 257.2,261.2 257.3,260.8 257.4,260.6 257.6,261.3 257.7,261.2 257.8,260.9 257.9,261.4 258.0,262.9 258.2,263.2 258.3,261.4 258.4,263.7 258.5,260.5 258.6,260.4 258.8,260.3 258.9,262.8 259.0,259.7 259.1,259.9 259.2,263.8 259.4,264.4 259.5,263.9 259.6,259.8 259.7,262.0 259.8,263.2 260.0,262.1 260.1,259.6 260.2,261.5 260.3,259.5 260.4,260.2 260.6,265.1 260.7,263.0 260.8,259.9 260.9,259.8 261.0,262.6 261.2,261.1 261.3,262.8 261.4,261.1 261.5,261.7 261.6,262.3 261.8,260.5 261.9,259.2 262.0,260.3 262.1,261.0 262.2,261.7 262.4,261.9 262.5,261.9 262.6,262.8 262.7,260.7 262.8,264.0 263.0,264.9 263.1,262.6 263.2,262.3 263.3,263.8 263.4,263.0 263.6,262.3 263.7,261.8 263.8,261.0 263.9,260.4 264.0,263.0 264.2,263.8 264.3,260.5 264.4,262.0 264.5,262.4 264.6,261.4 264.8,261.0 264.9,261.5 265.0,259.2 265.1,262.0 265.2,261.6 265.4,265.1 265.5,263.4 265.6,261.6 265.7,262.1 265.8,264.5 266.0,264.4 266.1,262.3 266.2,261.9 266.3,260.0 266.4,261.6 266.6,261.8 266.7,261.0 266.8,264.6 266.9,259.4 267.0,261.9 267.2,262.7 267.3,262.7 267.4,264.5 267.5,260.1 267.6,261.0 267.8,262.2 267.9,262.3 268.0,261.6 268.1,261.0 268.2,263.6 268.4,260.6 268.5,261.3 268.6,264.1 268.7,264.6 268.8,263.3 269.0,260.9 269.1,260.9 269.2,260.8 269.3,260.5 269.4,261.5 269.6,263.9 269.7,262.4 269.8,261.0 269.9,261.0 270.0,260.4 270.2,263.8 270.3,259.3 270.4,262.5 270.5,260.1 270.6,260.6 270.8,260.0 270.9,263.5 271.0,262.0 271.1,266.0 271.2,260.6 271.4,260.6 271.5,262.9 271.6,262.9 271.7,261.7 271.8,259.2 272.0,264.1 272.1,262.9 272.2,262.6 272.3,261.2 272.4,263.0 272.6,261.3 272.7,262.1 272.8,261.8 272.9,263.8 273.0,261.4 273.2,261.6 273.3,263.6 273.4,262.4 273.5,262.0 273.6,261.7 273.8,263.4 273.9,261.1 274.0,262.7 274.1,264.9 274.2,262.6 274.4,260.9 274.5,260.3 274.6,262.2 274.7,260.3 274.8,259.7 275.0,260.9 275.1,260.4 275.2,263.2 275.3,259.9 275.4,264.2 275.6,260.9 275.7,262.1 275.8,262.9 275.9,262.2 276.0,262.9 276.2,260.5 276.3,258.7 276.4,261.6 276.5,259.5 276.6,261.0 276.8,263.1 276.9,261.5 277.0,260.9 277.1,260.2 277.2,261.3 277.4,261.5 277.5,259.5 277.6,262.1 277.7,260.1 277.8,261.9 278.0,261.0 278.1,262.9 278.2,262.7 278.3,261.5 278.4,261.3 278.6,262.0 278.7,263.3 278.8,262.8 278.9,261.5 279.0,261.7 279.2,263.4 279.3,258.9 279.4,261.9 279.5,259.8 279.6,262.9 279.8,260.2 279.9,260.7 280.0,259.2 280.1,260.7 280.2,261.7 280.4,262.8 280.5,258.6 280.6,259.6 280.7,265.5 280.8,261.2 281.0,259.7 281.1,260.2 281.2,255.6 281.3,261.3 281.4,259.0 281.6,256.5 281.7,259.8 281.8,257.0 281.9,256.1 282.0,257.9 282.2,257.3 282.3,255.6 282.4,255.7 282.5,253.5 282.6,252.9 282.8,255.6 282.9,255.7 283.0,254.1 283.1,253.7 283.2,252.3 283.4,252.5 283.5,251.3 283.6,255.1 283.7,252.0 283.8,253.6 284.0,253.4 284.1,251.9 284.2,256.9 284.3,254.2 284.4,254.2 284.6,255.9 284.7,255.0 284.8,256.7 284.9,255.8 285.0,258.3 285.2,257.9 285.3,256.3 285.4,260.0 285.5,259.1 285.6,257.6 285.8,259.8 285.9,260.2 286.0,262.3 286.1,258.8 286.2,261.3 286.4,260.2 286.5,261.3 286.6,260.3 286.7,260.7 286.8,261.5 287.0,259.3 287.1,258.2 287.2,261.1 287.3,260.6 287.4,261.4 287.6,262.3 287.7,261.2 287.8,263.2 287.9,261.6 288.0,261.8 288.2,262.9 288.3,262.6 288.4,261.7 288.5,262.0 288.6,260.9 288.8,261.1 288.9,262.1 289.0,263.1 289.1,261.5 289.2,263.2 289.4,264.8 289.5,265.1 289.6,262.2 289.7,263.7 289.8,263.1 290.0,263.3 290.1,263.4 290.2,263.0 290.3,263.5 290.4,262.6 290.6,262.0 290.7,262.7 290.8,263.1 290.9,264.1 291.0,263.0 291.2,263.5 291.3,264.4 291.4,261.2 291.5,262.2 291.6,263.3 291.8,262.6 291.9,261.2 292.0,263.9 292.1,262.5 292.2,261.2 292.4,265.2 292.5,260.9 292.6,262.6 292.7,261.7 292.8,262.8 293.0,263.4 293.1,261.5 293.2,262.5 293.3,262.5 293.4,261.3 293.6,264.3 293.7,262.9 293.8,262.3 293.9,261.8 294.0,262.3 294.2,262.9 294.3,262.1 294.4,264.4 294.5,259.3 294.6,259.9 294.8,262.4 294.9,260.3 295.0,262.7 295.1,261.9 295.2,263.6 295.4,263.3 295.5,264.6 295.6,264.0 295.7,264.5 295.8,263.5 296.0,264.3 296.1,263.5 296.2,262.0 296.3,261.2 296.4,261.2 296.6,263.5 296.7,259.6 296.8,263.1 296.9,261.9 297.0,263.9 297.2,263.1 297.3,261.9 297.4,262.9 297.5,259.8 297.6,263.3 297.8,263.5 297.9,260.4 298.0,264.1 298.1,262.8 298.2,263.2 298.4,261.0 298.5,263.7 298.6,263.7 298.7,262.9 298.8,261.6 299.0,264.0 299.1,264.6 299.2,263.5 299.3,264.3 299.4,262.2 299.6,263.2 299.7,263.5 299.8,263.2 299.9,266.8 300.0,263.6 300.2,262.3 300.3,264.1 300.4,261.6 300.5,263.5 300.6,264.1 300.8,262.4 300.9,262.6 301.0,261.8 301.1,263.2 301.2,262.2 301.4,265.4 301.5,264.0 301.6,262.8 301.7,261.2 301.8,265.8 302.0,264.8 302.1,263.7 302.2,263.4 302.3,263.4 302.4,262.5 302.6,265.6 302.7,263.4 302.8,261.2 302.9,262.3 303.0,259.7 303.2,264.0 303.3,264.2 303.4,265.5 303.5,265.9 303.6,262.1 303.8,263.8 303.9,264.5 304.0,264.2 304.1,262.5 304.2,264.2 304.4,263.8 304.5,265.0 304.6,263.2 304.7,262.9 304.8,262.5 305.0,262.7 305.1,262.2 305.2,262.8 305.3,263.9 305.4,263.8 305.6,264.9 305.7,264.6 305.8,264.0 305.9,261.7 306.0,264.0 306.2,264.7 306.3,261.5 306.4,261.7 306.5,262.0 306.6,261.8 306.8,262.8 306.9,262.0 307.0,263.7 307.1,261.6 307.2,263.1 307.4,262.6 307.5,261.9 307.6,264.6 307.7,263.3 307.8,263.9 308.0,262.8 308.1,264.2 308.2,264.0 308.3,263.0 308.4,260.9 308.6,264.3 308.7,264.2 308.8,263.5 308.9,263.6 309.0,263.4 309.2,263.5 309.3,262.0 309.4,263.2 309.5,263.7 309.6,262.5 309.8,262.0 309.9,265.7 310.0,264.1 310.1,262.9 310.2,262.7 310.4,259.9 310.5,261.4 310.6,263.0 310.7,265.0 310.8,260.6 311.0,262.4 311.1,265.8 311.2,264.2 311.3,263.9 311.4,264.9 311.6,263.2 311.7,263.1 311.8,264.3 311.9,264.5 312.0,262.0 312.2,265.3 312.3,261.1 312.4,262.5 312.5,267.4 312.6,262.7 312.8,264.2 312.9,262.1 313.0,263.0 313.1,262.5 313.2,262.9 313.4,264.2 313.5,265.7 313.6,264.5 313.7,265.4 313.8,262.8 314.0,265.3 314.1,264.1 314.2,265.2 314.3,262.9 314.4,263.1 314.6,265.2 314.7,264.2 314.8,263.6 314.9,262.5 315.0,263.3 315.2,264.1 315.3,264.4 315.4,262.7 315.5,263.0 315.6,264.0 315.8,262.0 315.9,264.6 316.0,263.4 316.1,263.3 316.2,260.3 316.4,261.4 316.5,262.1 316.6,262.7 316.7,262.0 316.8,263.9 317.0,263.6 317.1,263.1 317.2,260.8 317.3,265.2 317.4,263.1 317.6,264.2 317.7,262.6 317.8,263.4 317.9,264.3 318.0,263.7 318.2,264.7 318.3,263.2 318.4,266.0 318.5,261.0 318.6,262.8 318.8,264.7 318.9,263.1 319.0,262.9 319.1,261.2 319.2,265.0 319.4,261.0 319.5,264.1 319.6,263.7 319.7,264.6 319.8,265.4 320.0,262.6 320.1,262.5 320.2,263.1 320.3,261.3 320.4,264.5 320.6,263.0 320.7,263.7 320.8,262.1 320.9,263.5 321.0,262.7 321.2,263.4 321.3,262.1 321.4,264.8 321.5,262.7 321.6,260.3 321.8,264.3 321.9,263.1 322.0,262.4 322.1,266.7 322.2,263.4 322.4,261.8 322.5,262.7 322.6,264.0 322.7,263.2 322.8,265.1 323.0,264.9 323.1,262.5 323.2,263.6 323.3,264.3 323.4,263.0 323.6,263.0 323.7,264.7 323.8,264.1 323.9,261.8 324.0,262.9 324.2,263.0 324.3,263.4 324.4,262.6 324.5,265.3 324.6,262.3 324.8,262.2 324.9,263.8 325.0,260.7 325.1,262.3 325.2,264.4 325.4,261.9 325.5,262.5 325.6,264.9 325.7,264.2 325.8,263.7 326.0,263.9 326.1,262.7 326.2,264.0 326.3,263.3 326.4,266.7 326.6,264.3 326.7,263.2 326.8,263.5 326.9,263.7 327.0,261.9 327.2,262.6 327.3,265.5 327.4,261.8 327.5,262.9 327.6,264.9 327.8,265.5 327.9,262.3 328.0,265.4 328.1,263.1 328.2,265.7 328.4,264.2 328.5,263.2 328.6,264.5 328.7,264.3 328.8,262.6 329.0,266.3 329.1,263.1 329.2,265.0 329.3,262.9 329.4,261.3 329.6,262.1 329.7,263.4 329.8,264.4 329.9,265.7 330.0,263.6 330.2,263.1 330.3,261.9 330.4,263.4 330.5,263.8 330.6,260.7 330.8,265.1 330.9,264.8 331.0,266.2 331.1,262.2 331.2,263.4 331.4,263.4 331.5,261.7 331.6,262.2 331.7,262.0 331.8,263.9 332.0,263.8 332.1,264.9 332.2,262.7 332.3,261.4 332.4,263.6 332.6,263.5 332.7,263.8 332.8,264.5 332.9,262.2 333.0,263.9 333.2,261.6 333.3,263.0 333.4,263.6 333.5,262.5 333.6,262.8 333.8,260.8 333.9,261.6 334.0,262.5 334.1,260.7 334.2,261.0 334.4,265.0 334.5,262.2 334.6,260.7 334.7,260.3 334.8,263.1 335.0,257.8 335.1,260.6 335.2,261.6 335.3,259.8 335.4,260.9 335.6,258.7 335.7,259.7 335.8,259.4 335.9,259.0 336.0,258.8 336.2,258.3 336.3,259.1 336.4,256.9 336.5,256.0 336.6,255.8 336.8,255.1 336.9,253.0 337.0,251.8 337.1,251.9 337.2,253.2 337.4,251.4 337.5,251.1 337.6,254.6 337.7,252.1 337.8,250.2 338.0,249.5 338.1,252.0 338.2,249.6 338.3,252.4 338.4,252.0 338.6,253.6 338.7,251.6 338.8,254.3 338.9,251.6 339.0,254.3 339.2,256.5 339.3,256.7 339.4,254.2 339.5,257.9 339.6,258.1 339.8,258.0 339.9,257.6 340.0,258.6 340.1,258.6 340.2,260.9 340.4,260.6 340.5,261.6 340.6,261.4 340.7,259.3 340.8,261.3 341.0,263.9 341.1,260.1 341.2,262.0 341.3,260.9 341.4,260.9 341.6,262.4 341.7,263.4 341.8,263.3 341.9,263.1 342.0,263.8 342.2,260.8 342.3,263.8 342.4,263.4 342.5,262.8 342.6,263.1 342.8,262.1 342.9,264.6 343.0,262.4 343.1,261.6 343.2,263.4 343.4,262.8 343.5,263.4 343.6,265.4 343.7,263.4 343.8,263.8 344.0,266.5 344.1,262.0 344.2,264.2 344.3,265.2 344.4,265.7 344.6,266.6 344.7,263.1 344.8,264.7 344.9,263.9 345.0,263.5 345.2,263.2 345.3,262.3 345.4,264.5 345.5,265.1 345.6,262.9 345.8,265.1 345.9,263.5 346.0,263.0 346.1,261.1 346.2,265.6 346.4,265.2 346.5,263.9 346.6,263.9 346.7,262.8 346.8,265.0 347.0,264.3 347.1,265.1 347.2,264.7 347.3,262.8 347.4,262.6 347.6,265.0 347.7,262.5 347.8,264.9 347.9,265.6 348.0,263.0 348.2,265.4 348.3,264.7 348.4,265.3 348.5,263.9 348.6,264.7 348.8,265.2 348.9,266.9 349.0,265.6 349.1,265.3 349.2,263.2 349.4,265.2 349.5,264.0 349.6,264.7 349.7,265.1 349.8,266.0 350.0,265.6 350.1,265.1 350.2,264.8 350.3,266.5 350.4,263.8 350.6,265.0 350.7,266.6 350.8,264.7 350.9,266.0 351.0,266.0 351.2,267.4 351.3,266.4 351.4,263.0 351.5,265.0 351.6,265.4 351.8,266.0 351.9,265.5 352.0,267.3 352.1,266.4 352.2,263.7 352.4,264.3 352.5,262.6 352.6,267.2 352.7,264.9 352.8,264.9 353.0,263.2 353.1,264.6 353.2,265.6 353.3,264.6 353.4,264.6 353.6,264.4 353.7,267.5 353.8,264.4 353.9,263.4 354.0,264.5 354.2,264.7 354.3,265.0 354.4,264.8 354.5,263.8 354.6,264.9 354.8,265.6 354.9,263.4 355.0,267.5 355.1,267.2 355.2,263.0 355.4,264.7 355.5,266.4 355.6,266.8 355.7,267.3 355.8,263.0 356.0,263.9 356.1,264.6 356.2,265.9 356.3,264.0 356.4,265.8 356.6,265.8 356.7,266.1 356.8,263.7 356.9,265.5 357.0,265.4 357.2,264.8 357.3,266.9 357.4,265.0 357.5,267.1 357.6,264.7 357.8,267.4 357.9,267.4 358.0,264.5 358.1,265.8 358.2,265.8 358.4,264.3 358.5,266.4 358.6,266.2 358.7,264.5 358.8,265.7 359.0,266.6 359.1,265.4 359.2,264.7 359.3,267.5 359.4,264.4 359.6,266.0 359.7,267.0 359.8,266.6 359.9,263.5 360.0,265.3 360.2,265.5 360.3,265.5 360.4,266.5 360.5,266.4 360.6,265.9 360.8,266.1 360.9,267.0 361.0,267.3 361.1,263.6 361.2,268.4 361.4,265.2 361.5,266.8 361.6,263.9 361.7,265.3 361.8,264.4 362.0,267.2 362.1,267.0 362.2,265.9 362.3,265.7 362.4,266.4 362.6,264.8 362.7,265.2 362.8,265.1 362.9,266.9 363.0,266.0 363.2,264.5 363.3,266.4 363.4,266.6 363.5,267.7 363.6,265.4 363.8,266.5 363.9,268.5 364.0,265.7 364.1,265.7 364.2,266.7 364.4,265.5 364.5,266.1 364.6,265.5 364.7,265.2 364.8,267.2 365.0,265.7 365.1,265.0 365.2,265.8 365.3,266.0 365.4,266.5 365.6,267.3 365.7,268.3 365.8,264.8 365.9,265.9 366.0,264.1 366.2,266.5 366.3,266.8 366.4,265.5 366.5,265.2 366.6,265.1 366.8,264.5 366.9,267.0 367.0,268.5 367.1,264.9 367.2,268.2 367.4,266.1 367.5,264.7 367.6,266.9 367.7,267.2 367.8,266.7 368.0,266.0 368.1,268.2 368.2,266.0 368.3,267.0 368.4,267.1 368.6,265.3 368.7,264.2 368.8,264.3 368.9,265.9 369.0,266.8 369.2,264.3 369.3,265.5 369.4,268.1 369.5,264.3 369.6,266.9 369.8,266.8 369.9,267.3 370.0,264.7 370.1,266.8 370.2,264.8 370.4,267.9 370.5,265.4 370.6,266.8 370.7,265.5 370.8,266.6 371.0,264.6 371.1,266.7 371.2,267.1 371.3,266.4 371.4,268.3 371.6,266.9 371.7,267.3 371.8,267.0 371.9,268.6 372.0,265.7 372.2,266.1 372.3,266.2 372.4,267.2 372.5,266.8 372.6,267.4 372.8,266.8 372.9,265.9 373.0,266.4 373.1,267.0 373.2,263.9 373.4,268.1 373.5,265.8 373.6,266.1 373.7,266.8 373.8,266.2 374.0,264.8 374.1,266.3 374.2,268.1 374.3,267.7 374.4,267.9 374.6,265.9 374.7,266.3 374.8,267.7 374.9,268.2 375.0,266.6 375.2,265.4 375.3,264.3 375.4,268.2 375.5,264.8 375.6,267.0 375.8,267.5 375.9,270.3 376.0,266.7 376.1,266.4 376.2,267.0 376.4,267.1 376.5,268.0 376.6,267.3 376.7,265.6 376.8,264.0 377.0,266.8 377.1,265.7 377.2,268.0 377.3,264.9 377.4,266.6 377.6,265.5 377.7,265.3 377.8,268.2 377.9,266.5 378.0,266.0 378.2,267.1 378.3,265.3 378.4,265.7 378.5,265.4 378.6,268.3 378.8,266.4 378.9,266.7 379.0,267.2 379.1,265.6 379.2,265.6 379.4,263.8 379.5,266.2 379.6,265.8 379.7,265.0 379.8,266.7 380.0,263.2 380.1,265.6 380.2,263.4 380.3,263.5 380.4,264.4 380.6,266.0 380.7,262.9 380.8,262.9 380.9,262.5 381.0,265.9 381.2,264.0 381.3,263.5 381.4,265.1 381.5,262.7 381.6,259.7 381.8,261.1 381.9,259.9 382.0,263.2 382.1,258.8 382.2,260.3 382.4,258.9 382.5,258.6 382.6,258.7 382.7,258.1 382.8,257.2 383.0,256.4 383.1,256.9 383.2,256.4 383.3,256.6 383.4,257.9 383.6,257.9 383.7,258.9 383.8,258.5 383.9,261.3 384.0,258.8 384.2,258.9 384.3,261.7 384.4,260.2 384.5,261.6 384.6,263.0 384.8,262.1 384.9,262.2 385.0,264.1 385.1,263.7 385.2,263.0 385.4,262.5 385.5,263.7 385.6,262.5 385.7,263.6 385.8,263.5 386.0,265.3 386.1,266.0 386.2,264.6 386.3,265.0 386.4,264.3 386.6,264.1 386.7,265.3 386.8,266.6 386.9,266.6 387.0,266.8 387.2,265.9 387.3,263.2 387.4,267.4 387.5,267.9 387.6,267.5 387.8,267.6 387.9,267.9 388.0,269.7 388.1,267.1 388.2,268.6 388.4,267.8 388.5,267.7 388.6,266.8 388.7,266.6 388.8,265.7 389.0,267.7 389.1,266.7 389.2,265.8 389.3,266.3 389.4,265.8 389.6,269.0 389.7,266.9 389.8,267.4 389.9,265.9 390.0,266.1 390.2,268.5 390.3,267.1 390.4,267.6 390.5,269.4 390.6,269.7 390.8,268.2 390.9,268.0 391.0,267.7 391.1,267.1 391.2,269.7 391.4,266.1 391.5,267.4 391.6,265.3 391.7,266.1 391.8,268.0 392.0,268.0 392.1,267.9 392.2,267.2 392.3,266.8 392.4,267.0 392.6,267.1 392.7,268.8 392.8,269.2 392.9,268.1 393.0,267.0 393.2,266.6 393.3,267.9 393.4,267.4 393.5,265.6 393.6,269.1 393.8,267.6 393.9,267.3 394.0,266.6 394.1,266.6 394.2,268.6 394.4,266.6 394.5,267.7 394.6,268.3 394.7,269.7 394.8,268.3 395.0,267.6 395.1,267.1 395.2,268.6 395.3,268.7 395.4,267.1 395.6,268.3 395.7,267.4 395.8,265.8 395.9,266.5 396.0,268.5 396.2,269.2 396.3,268.3 396.4,267.4 396.5,266.8 396.6,268.2 396.8,267.9 396.9,265.8 397.0,268.3 397.1,266.8 397.2,268.3 397.4,268.1 397.5,268.3 397.6,268.7 397.7,268.3 397.8,266.3 398.0,266.4 398.1,268.6 398.2,268.0 398.3,265.7 398.4,265.2 398.6,268.4 398.7,269.9 398.8,268.3 398.9,267.2 399.0,267.7 399.2,264.4 399.3,266.3 399.4,268.5 399.5,268.3 399.6,265.0 399.8,268.7 399.9,267.9 400.0,268.4 400.1,267.1 400.2,267.3 400.4,266.1 400.5,267.7 400.6,268.3 400.7,266.3 400.8,267.7 401.0,266.7 401.1,268.4 401.2,268.3 401.3,264.6 401.4,267.7 401.6,268.3 401.7,266.6 401.8,267.0 401.9,267.0 402.0,265.9 402.2,267.0 402.3,268.8 402.4,267.7 402.5,268.8 402.6,268.2 402.8,268.4 402.9,267.2 403.0,267.9 403.1,269.3 403.2,268.7 403.4,267.4 403.5,266.3 403.6,266.0 403.7,267.3 403.8,267.5 404.0,265.0 404.1,267.2 404.2,267.3 404.3,267.3 404.4,266.3 404.6,269.4 404.7,267.8 404.8,265.4 404.9,266.1 405.0,267.7 405.2,267.4 405.3,266.9 405.4,266.7 405.5,266.5 405.6,266.2 405.8,265.6 405.9,267.3 406.0,263.6 406.1,265.8 406.2,267.9 406.4,265.7 406.5,265.2 406.6,268.5 406.7,267.6 406.8,266.3 407.0,265.7 407.1,266.1 407.2,265.9 407.3,266.0 407.4,265.4 407.6,266.7 407.7,265.5 407.8,264.1 407.9,264.6 408.0,265.9 408.2,264.7 408.3,263.1 408.4,267.2 408.5,266.1 408.6,264.9 408.8,264.8 408.9,265.8 409.0,266.5 409.1,264.3 409.2,265.2 409.4,264.0 409.5,264.8 409.6,263.0 409.7,262.1 409.8,263.9 410.0,263.5 410.1,264.0 410.2,262.2 410.3,264.1 410.4,262.3 410.6,263.5 410.7,261.0 410.8,262.5 410.9,260.3 411.0,259.9 411.2,260.2 411.3,256.7 411.4,256.8 411.5,259.2 411.6,255.0 411.8,255.5 411.9,256.0 412.0,256.6 412.1,254.2 412.2,254.7 412.4,253.3 412.5,254.2 412.6,256.0 412.7,255.7 412.8,255.8 413.0,256.8 413.1,257.2 413.2,257.8 413.3,257.9 413.4,257.8 413.6,260.1 413.7,258.7 413.8,261.5 413.9,263.1 414.0,262.8 414.2,264.0 414.3,260.8 414.4,262.4 414.5,261.5 414.6,261.8 414.8,260.9 414.9,261.6 415.0,263.8 415.1,263.7 415.2,264.3 415.4,264.2 415.5,263.9 415.6,262.2 415.7,262.8 415.8,263.6 416.0,264.0 416.1,262.1 416.2,261.8 416.3,261.7 416.4,263.6 416.6,262.3 416.7,261.1 416.8,260.4 416.9,261.5 417.0,259.1 417.2,260.5 417.3,260.1 417.4,260.1 417.5,261.0 417.6,261.4 417.8,264.3 417.9,261.5 418.0,262.4 418.1,261.2 418.2,260.7 418.4,263.9 418.5,265.1 418.6,262.4 418.7,263.6 418.8,265.2 419.0,264.4 419.1,262.0 419.2,265.8 419.3,264.8 419.4,265.9 419.6,264.3 419.7,266.4 419.8,266.7 419.9,265.0 420.0,266.4 420.2,265.3 420.3,265.6 420.4,265.3 420.5,265.8 420.6,265.7 420.8,267.7 420.9,266.3 421.0,265.4 421.1,268.1 421.2,267.3 421.4,267.8 421.5,266.8 421.6,267.6 421.7,266.8 421.8,266.0 422.0,267.1 422.1,267.2 422.2,267.2 422.3,268.0 422.4,265.4 422.6,267.5 422.7,266.4 422.8,267.0 422.9,267.7 423.0,267.4 423.2,266.6 423.3,268.1 423.4,267.3 423.5,268.4 423.6,268.7 423.8,267.1 423.9,266.4 424.0,267.6 424.1,268.3 424.2,267.9 424.4,266.4 424.5,265.9 424.6,266.6 424.7,266.7 424.8,268.3 425.0,267.7 425.1,268.5 425.2,267.6 425.3,269.4 425.4,267.7 425.6,268.3 425.7,267.3 425.8,268.2 425.9,268.9 426.0,268.6 426.2,269.1 426.3,267.2 426.4,268.3 426.5,269.6 426.6,268.1 426.8,267.7 426.9,267.6 427.0,267.4 427.1,268.0 427.2,269.3 427.4,268.4 427.5,267.9 427.6,267.1 427.7,266.8 427.8,270.3 428.0,267.5 428.1,268.1 428.2,267.5 428.3,268.2 428.4,267.6 428.6,268.1 428.7,269.5 428.8,267.3 428.9,268.6 429.0,268.0 429.2,268.8 429.3,267.4 429.4,268.5 429.5,267.1 429.6,266.3 429.8,266.8 429.9,267.1 430.0,267.0 430.1,267.8 430.2,269.2 430.4,267.0 430.5,268.6 430.6,268.3 430.7,267.4 430.8,267.2 431.0,268.6 431.1,268.6 431.2,267.8 431.3,268.0 431.4,268.2 431.6,266.9 431.7,268.3 431.8,268.5 431.9,269.9 432.0,267.0 432.2,267.4 432.3,268.3 432.4,267.7 432.5,267.8 432.6,268.3 432.8,268.0 432.9,268.2 433.0,268.7 433.1,266.7 433.2,268.9 433.4,266.1 433.5,270.0 433.6,269.2 433.7,267.8 433.8,269.3 434.0,268.2 434.1,268.8 434.2,269.1 434.3,268.7 434.4,268.4 434.6,269.0 434.7,268.3 434.8,268.1 434.9,267.6 435.0,266.7 435.2,270.0 435.3,269.3 435.4,267.2 435.5,268.9 435.6,268.7 435.8,266.4 435.9,267.8 436.0,268.5 436.1,270.2 436.2,269.7 436.4,269.8 436.5,268.9 436.6,269.6 436.7,267.5 436.8,269.3 437.0,269.4 437.1,267.5 437.2,269.0 437.3,270.2 437.4,270.6 437.6,270.1 437.7,268.1 437.8,268.7 437.9,268.3 438.0,270.0 438.2,268.0 438.3,267.8 438.4,267.3 438.5,269.1 438.6,269.3 438.8,268.3 438.9,268.2 439.0,268.8 439.1,270.2 439.2,267.7 439.4,268.9 439.5,269.2 439.6,269.4 439.7,270.2 439.8,269.8 440.0,269.3 440.1,270.4 440.2,270.2 440.3,269.4 440.4,269.3 440.6,268.0 440.7,269.3 440.8,268.4 440.9,268.1 441.0,268.9 441.2,267.6 441.3,268.4 441.4,268.7 441.5,269.5 441.6,268.9 441.8,269.6 441.9,270.7 442.0,270.0 442.1,268.2 442.2,267.6 442.4,268.4 442.5,268.5 442.6,267.5 442.7,267.7 442.8,267.7 443.0,268.8"/><polyline fill="none" stroke="#0a6cbf" stroke-width="1.1" stroke-linejoin="round" points="44.8,306.9 44.9,308.0 45.0,312.1 45.2,309.9 45.3,304.9 45.4,308.6 45.5,307.3 45.6,309.0 45.8,305.2 45.9,309.3 46.0,309.3 46.1,312.3 46.2,309.6 46.4,310.1 46.5,305.7 46.6,313.9 46.7,304.9 46.8,311.5 47.0,308.5 47.1,307.3 47.2,307.9 47.3,307.9 47.4,310.2 47.6,309.2 47.7,312.7 47.8,305.6 47.9,309.6 48.0,307.7 48.2,311.4 48.3,305.1 48.4,309.0 48.5,310.3 48.6,306.7 48.8,312.1 48.9,310.4 49.0,312.2 49.1,312.2 49.2,308.0 49.4,308.5 49.5,309.8 49.6,311.9 49.7,312.2 49.8,308.9 50.0,309.2 50.1,308.8 50.2,309.3 50.3,310.1 50.4,310.4 50.6,315.2 50.7,309.7 50.8,310.3 50.9,311.9 51.0,309.0 51.2,310.3 51.3,311.2 51.4,312.9 51.5,308.4 51.6,314.3 51.8,310.7 51.9,311.9 52.0,313.4 52.1,313.1 52.2,314.0 52.4,312.1 52.5,311.8 52.6,312.6 52.7,309.8 52.8,314.7 53.0,310.5 53.1,309.5 53.2,316.7 53.3,312.1 53.4,309.9 53.6,316.5 53.7,311.9 53.8,314.9 53.9,310.9 54.0,312.3 54.2,309.2 54.3,308.8 54.4,310.9 54.5,312.9 54.6,314.9 54.8,318.5 54.9,311.1 55.0,315.5 55.1,312.1 55.2,313.2 55.4,310.4 55.5,310.4 55.6,312.0 55.7,311.2 55.8,313.8 56.0,312.4 56.1,316.7 56.2,314.3 56.3,314.4 56.4,316.6 56.6,315.3 56.7,314.2 56.8,314.1 56.9,314.1 57.0,316.7 57.2,316.2 57.3,315.3 57.4,316.3 57.5,313.4 57.6,315.8 57.8,311.7 57.9,317.6 58.0,315.0 58.1,315.2 58.2,316.2 58.4,314.9 58.5,314.4 58.6,317.5 58.7,315.3 58.8,313.1 59.0,316.0 59.1,311.4 59.2,318.7 59.3,314.8 59.4,315.3 59.6,320.1 59.7,319.9 59.8,315.5 59.9,316.6 60.0,317.7 60.2,319.0 60.3,315.1 60.4,315.7 60.5,318.1 60.6,316.0 60.8,317.1 60.9,316.8 61.0,313.1 61.1,313.7 61.2,309.9 61.4,315.1 61.5,318.5 61.6,313.3 61.7,318.3 61.8,317.9 62.0,315.6 62.1,315.8 62.2,316.0 62.3,314.0 62.4,315.3 62.6,315.8 62.7,317.2 62.8,317.6 62.9,314.4 63.0,317.7 63.2,314.3 63.3,315.7 63.4,316.8 63.5,316.0 63.6,315.8 63.8,316.7 63.9,314.9 64.0,314.7 64.1,315.7 64.2,318.2 64.4,316.0 64.5,320.3 64.6,316.7 64.7,309.9 64.8,315.3 65.0,319.8 65.1,316.3 65.2,315.4 65.3,314.5 65.4,319.2 65.6,318.5 65.7,317.8 65.8,317.3 65.9,319.5 66.0,318.1 66.2,313.8 66.3,318.1 66.4,316.8 66.5,316.2 66.6,318.1 66.8,316.5 66.9,310.2 67.0,319.8 67.1,318.7 67.2,316.2 67.4,315.7 67.5,317.0 67.6,313.8 67.7,317.1 67.8,316.0 68.0,315.7 68.1,314.5 68.2,315.1 68.3,318.8 68.4,319.3 68.6,317.6 68.7,316.4 68.8,314.6 68.9,318.0 69.0,319.9 69.2,313.1 69.3,319.0 69.4,311.9 69.5,315.8 69.6,317.3 69.8,313.6 69.9,313.3 70.0,316.9 70.1,318.3 70.2,315.5 70.4,319.3 70.5,314.8 70.6,320.2 70.7,316.7 70.8,317.0 71.0,317.8 71.1,317.1 71.2,320.4 71.3,321.1 71.4,317.6 71.6,316.1 71.7,314.0 71.8,314.8 71.9,316.5 72.0,316.2 72.2,316.3 72.3,316.4 72.4,317.5 72.5,313.6 72.6,314.3 72.8,318.8 72.9,318.2 73.0,315.3 73.1,319.1 73.2,315.0 73.4,315.9 73.5,312.5 73.6,318.2 73.7,316.4 73.8,318.6 74.0,317.9 74.1,316.6 74.2,316.7 74.3,318.9 74.4,316.0 74.6,316.0 74.7,316.5 74.8,318.1 74.9,318.3 75.0,320.4 75.2,316.2 75.3,319.0 75.4,315.0 75.5,317.6 75.6,316.6 75.8,320.0 75.9,317.6 76.0,315.4 76.1,317.6 76.2,317.1 76.4,315.7 76.5,315.7 76.6,314.4 76.7,322.1 76.8,316.6 77.0,318.4 77.1,313.9 77.2,314.0 77.3,316.0 77.4,316.0 77.6,318.0 77.7,314.2 77.8,317.4 77.9,319.5 78.0,314.3 78.2,318.2 78.3,314.2 78.4,317.0 78.5,317.0 78.6,319.9 78.8,314.7 78.9,316.5 79.0,318.4 79.1,313.7 79.2,316.1 79.4,314.3 79.5,314.6 79.6,317.5 79.7,317.5 79.8,321.4 80.0,318.9 80.1,318.7 80.2,315.6 80.3,315.3 80.4,316.2 80.6,311.2 80.7,319.4 80.8,314.5 80.9,313.6 81.0,314.9 81.2,317.6 81.3,318.4 81.4,314.9 81.5,316.6 81.6,315.6 81.8,313.6 81.9,316.0 82.0,315.6 82.1,312.3 82.2,317.8 82.4,312.2 82.5,316.0 82.6,313.2 82.7,313.7 82.8,313.9 83.0,316.8 83.1,312.7 83.2,314.9 83.3,318.5 83.4,313.8 83.6,315.1 83.7,316.5 83.8,313.9 83.9,316.1 84.0,313.7 84.2,316.5 84.3,315.1 84.4,313.0 84.5,317.9 84.6,314.7 84.8,314.3 84.9,312.9 85.0,313.8 85.1,314.6 85.2,315.1 85.4,317.0 85.5,311.9 85.6,313.9 85.7,317.1 85.8,315.0 86.0,315.4 86.1,317.8 86.2,315.2 86.3,315.4 86.4,314.3 86.6,318.1 86.7,316.5 86.8,312.8 86.9,315.4 87.0,311.9 87.2,316.5 87.3,315.6 87.4,313.8 87.5,313.3 87.6,310.4 87.8,315.6 87.9,313.8 88.0,313.3 88.1,315.4 88.2,312.5 88.4,312.7 88.5,312.4 88.6,311.0 88.7,318.8 88.8,313.3 89.0,313.0 89.1,315.5 89.2,307.1 89.3,313.5 89.4,313.6 89.6,311.5 89.7,314.4 89.8,309.2 89.9,313.4 90.0,315.1 90.2,308.6 90.3,310.2 90.4,312.8 90.5,313.0 90.6,311.6 90.8,313.7 90.9,313.3 91.0,310.0 91.1,312.5 91.2,310.0 91.4,308.3 91.5,307.6 91.6,314.6 91.7,312.2 91.8,316.4 92.0,309.3 92.1,311.6 92.2,312.9 92.3,311.9 92.4,313.2 92.6,312.4 92.7,310.8 92.8,307.2 92.9,310.0 93.0,315.5 93.2,313.5 93.3,314.7 93.4,310.6 93.5,311.4 93.6,309.9 93.8,312.5 93.9,311.8 94.0,312.6 94.1,315.2 94.2,309.8 94.4,313.0 94.5,308.6 94.6,313.7 94.7,310.5 94.8,311.2 95.0,311.5 95.1,314.6 95.2,311.1 95.3,310.1 95.4,308.6 95.6,311.6 95.7,309.2 95.8,309.9 95.9,310.8 96.0,312.2 96.2,309.3 96.3,312.1 96.4,314.3 96.5,307.6 96.6,313.4 96.8,314.9 96.9,309.2 97.0,311.7 97.1,307.5 97.2,311.0 97.4,309.6 97.5,310.8 97.6,308.2 97.7,308.4 97.8,309.1 98.0,308.5 98.1,308.6 98.2,309.4 98.3,307.4 98.4,309.4 98.6,310.6 98.7,304.8 98.8,309.9 98.9,307.9 99.0,307.0 99.2,306.5 99.3,307.4 99.4,307.6 99.5,309.7 99.6,306.4 99.8,311.0 99.9,307.1 100.0,310.2 100.1,310.9 100.2,306.1 100.4,310.8 100.5,313.0 100.6,307.6 100.7,309.6 100.8,308.1 101.0,308.5 101.1,307.9 101.2,307.2 101.3,309.7 101.4,309.9 101.6,308.1 101.7,311.1 101.8,310.2 101.9,309.4 102.0,306.4 102.2,311.7 102.3,310.4 102.4,303.3 102.5,305.3 102.6,306.6 102.8,309.4 102.9,309.9 103.0,306.8 103.1,307.8 103.2,308.6 103.4,304.6 103.5,308.3 103.6,306.4 103.7,307.3 103.8,306.8 104.0,304.4 104.1,304.7 104.2,306.8 104.3,306.9 104.4,306.0 104.6,308.7 104.7,305.7 104.8,303.9 104.9,305.6 105.0,305.9 105.2,305.9 105.3,308.5 105.4,307.1 105.5,308.1 105.6,307.2 105.8,305.5 105.9,307.9 106.0,305.2 106.1,306.2 106.2,303.6 106.4,305.8 106.5,304.8 106.6,306.2 106.7,309.0 106.8,310.1 107.0,307.3 107.1,305.1 107.2,306.8 107.3,305.5 107.4,303.8 107.6,304.8 107.7,304.4 107.8,303.6 107.9,307.5 108.0,303.6 108.2,303.6 108.3,306.0 108.4,303.1 108.5,302.1 108.6,302.6 108.8,305.3 108.9,305.0 109.0,304.8 109.1,303.2 109.2,302.2 109.4,305.8 109.5,301.0 109.6,303.4 109.7,301.1 109.8,302.9 110.0,303.4 110.1,306.1 110.2,297.8 110.3,306.2 110.4,301.6 110.6,304.0 110.7,304.9 110.8,301.7 110.9,303.0 111.0,304.1 111.2,302.8 111.3,301.5 111.4,303.3 111.5,303.1 111.6,299.8 111.8,305.5 111.9,303.2 112.0,297.8 112.1,300.9 112.2,306.0 112.4,305.7 112.5,303.0 112.6,299.0 112.7,301.8 112.8,304.4 113.0,303.0 113.1,301.5 113.2,300.6 113.3,303.7 113.4,301.5 113.6,302.6 113.7,302.8 113.8,305.1 113.9,302.1 114.0,302.2 114.2,298.0 114.3,303.8 114.4,303.3 114.5,301.4 114.6,296.8 114.8,300.2 114.9,301.4 115.0,305.4 115.1,302.4 115.2,302.7 115.4,302.7 115.5,303.7 115.6,298.7 115.7,299.2 115.8,298.5 116.0,300.2 116.1,300.0 116.2,300.9 116.3,298.6 116.4,300.8 116.6,298.8 116.7,304.7 116.8,299.3 116.9,305.5 117.0,303.6 117.2,297.8 117.3,302.1 117.4,301.4 117.5,297.0 117.6,301.3 117.8,299.8 117.9,300.6 118.0,298.2 118.1,299.7 118.2,300.6 118.4,299.4 118.5,298.5 118.6,299.3 118.7,297.6 118.8,300.2 119.0,294.3 119.1,302.4 119.2,299.5 119.3,300.3 119.4,301.0 119.6,296.7 119.7,303.7 119.8,296.9 119.9,300.0 120.0,299.7 120.2,301.6 120.3,298.9 120.4,296.0 120.5,299.5 120.6,293.8 120.8,298.3 120.9,297.7 121.0,301.7 121.1,298.0 121.2,297.6 121.4,297.0 121.5,296.7 121.6,297.3 121.7,299.5 121.8,295.6 122.0,297.8 122.1,295.2 122.2,297.8 122.3,298.4 122.4,295.6 122.6,296.8 122.7,298.1 122.8,299.4 122.9,299.7 123.0,297.6 123.2,295.7 123.3,294.4 123.4,299.2 123.5,300.4 123.6,298.3 123.8,300.6 123.9,296.5 124.0,296.6 124.1,300.5 124.2,295.3 124.4,298.5 124.5,298.0 124.6,297.5 124.7,300.6 124.8,295.3 125.0,296.2 125.1,292.8 125.2,294.9 125.3,295.9 125.4,296.1 125.6,296.4 125.7,297.3 125.8,295.4 125.9,292.7 126.0,296.9 126.2,297.4 126.3,294.2 126.4,294.9 126.5,299.9 126.6,298.3 126.8,298.4 126.9,297.5 127.0,296.4 127.1,295.1 127.2,297.2 127.4,295.6 127.5,295.1 127.6,295.9 127.7,295.7 127.8,297.6 128.0,293.8 128.1,300.6 128.2,293.6 128.3,294.7 128.4,297.4 128.6,293.8 128.7,294.5 128.8,295.5 128.9,289.5 129.0,294.3 129.2,293.4 129.3,294.8 129.4,296.2 129.5,296.4 129.6,298.1 129.8,298.0 129.9,297.1 130.0,295.0 130.1,297.1 130.2,293.0 130.4,294.8 130.5,297.8 130.6,296.5 130.7,292.1 130.8,293.7 131.0,296.7 131.1,296.1 131.2,297.0 131.3,291.3 131.4,292.3 131.6,294.3 131.7,292.9 131.8,294.8 131.9,294.8 132.0,295.5 132.2,294.6 132.3,295.9 132.4,296.4 132.5,295.2 132.6,292.4 132.8,297.4 132.9,295.3 133.0,295.7 133.1,295.2 133.2,291.7 133.4,296.1 133.5,293.6 133.6,292.5 133.7,297.5 133.8,294.4 134.0,295.6 134.1,296.8 134.2,298.2 134.3,291.5 134.4,293.6 134.6,296.4 134.7,293.8 134.8,288.7 134.9,295.4 135.0,295.6 135.2,296.7 135.3,295.7 135.4,294.4 135.5,295.7 135.6,295.2 135.8,294.3 135.9,295.8 136.0,296.0 136.1,293.4 136.2,297.4 136.4,297.0 136.5,297.0 136.6,290.1 136.7,295.7 136.8,295.3 137.0,293.6 137.1,296.8 137.2,292.7 137.3,298.1 137.4,296.5 137.6,294.8 137.7,298.7 137.8,296.8 137.9,296.6 138.0,293.5 138.2,297.1 138.3,298.9 138.4,298.3 138.5,293.7 138.6,299.0 138.8,299.5 138.9,298.1 139.0,295.7 139.1,293.6 139.2,294.8 139.4,295.5 139.5,297.3 139.6,297.9 139.7,295.4 139.8,293.7 140.0,296.2 140.1,294.4 140.2,299.7 140.3,294.7 140.4,298.1 140.6,298.9 140.7,295.4 140.8,299.3 140.9,297.2 141.0,296.0 141.2,295.7 141.3,297.8 141.4,299.8 141.5,294.0 141.6,299.0 141.8,297.6 141.9,296.5 142.0,297.8 142.1,298.1 142.2,298.1 142.4,299.8 142.5,296.6 142.6,302.2 142.7,300.2 142.8,297.4 143.0,294.9 143.1,298.7 143.2,298.0 143.3,300.3 143.4,300.4 143.6,302.8 143.7,298.9 143.8,300.8 143.9,298.5 144.0,298.7 144.2,302.5 144.3,299.3 144.4,299.4 144.5,299.0 144.6,300.5 144.8,301.1 144.9,299.8 145.0,297.9 145.1,300.8 145.2,298.7 145.4,299.7 145.5,300.9 145.6,301.0 145.7,296.1 145.8,304.0 146.0,302.4 146.1,304.7 146.2,305.9 146.3,299.2 146.4,300.1 146.6,301.7 146.7,303.1 146.8,300.4 146.9,300.9 147.0,303.7 147.2,299.9 147.3,302.2 147.4,303.9 147.5,301.4 147.6,303.5 147.8,301.9 147.9,299.1 148.0,301.2 148.1,301.9 148.2,301.8 148.4,302.5 148.5,303.3 148.6,303.2 148.7,303.1 148.8,302.0 149.0,302.5 149.1,302.2 149.2,301.9 149.3,305.8 149.4,299.5 149.6,303.7 149.7,300.2 149.8,302.3 149.9,305.0 150.0,303.0 150.2,306.3 150.3,301.9 150.4,303.2 150.5,302.6 150.6,304.0 150.8,303.4 150.9,303.3 151.0,304.3 151.1,306.3 151.2,304.6 151.4,304.5 151.5,303.9 151.6,303.1 151.7,301.8 151.8,302.6 152.0,304.7 152.1,301.1 152.2,306.1 152.3,304.1 152.4,303.2 152.6,304.0 152.7,306.4 152.8,305.9 152.9,305.8 153.0,308.7 153.2,309.9 153.3,303.1 153.4,307.4 153.5,304.3 153.6,303.2 153.8,305.0 153.9,308.0 154.0,305.6 154.1,305.4 154.2,309.1 154.4,307.5 154.5,306.4 154.6,310.2 154.7,307.7 154.8,305.5 155.0,304.9 155.1,306.3 155.2,307.5 155.3,309.0 155.4,308.9 155.6,307.6 155.7,305.3 155.8,309.4 155.9,307.8 156.0,305.6 156.2,305.4 156.3,308.3 156.4,308.6 156.5,309.6 156.6,305.7 156.8,311.8 156.9,304.7 157.0,308.2 157.1,310.9 157.2,310.4 157.4,306.7 157.5,309.7 157.6,311.0 157.7,310.1 157.8,306.9 158.0,312.0 158.1,305.8 158.2,309.0 158.3,307.0 158.4,308.3 158.6,308.5 158.7,310.2 158.8,306.9 158.9,309.8 159.0,311.9 159.2,309.6 159.3,310.6 159.4,310.4 159.5,308.3 159.6,309.1 159.8,309.9 159.9,310.8 160.0,313.8 160.1,313.1 160.2,309.2 160.4,309.3 160.5,308.3 160.6,305.9 160.7,312.9 160.8,311.4 161.0,306.8 161.1,310.6 161.2,315.1 161.3,311.6 161.4,311.7 161.6,311.2 161.7,309.4 161.8,308.7 161.9,309.4 162.0,311.3 162.2,310.7 162.3,312.5 162.4,314.6 162.5,312.4 162.6,313.0 162.8,310.8 162.9,309.0 163.0,315.7 163.1,313.0 163.2,313.9 163.4,311.0 163.5,308.6 163.6,314.4 163.7,307.8 163.8,311.7 164.0,311.0 164.1,312.5 164.2,313.7 164.3,313.8 164.4,308.3 164.6,314.2 164.7,308.8 164.8,313.8 164.9,311.7 165.0,310.4 165.2,311.6 165.3,310.2 165.4,312.8 165.5,314.6 165.6,314.4 165.8,313.1 165.9,315.1 166.0,314.1 166.1,317.3 166.2,314.2 166.4,312.1 166.5,312.8 166.6,312.0 166.7,312.9 166.8,313.2 167.0,314.9 167.1,315.1 167.2,313.8 167.3,314.6 167.4,312.4 167.6,312.8 167.7,309.2 167.8,312.5 167.9,313.1 168.0,319.0 168.2,311.6 168.3,314.3 168.4,313.6 168.5,311.3 168.6,314.9 168.8,314.4 168.9,311.7 169.0,310.1 169.1,314.5 169.2,311.9 169.4,316.0 169.5,314.2 169.6,315.8 169.7,314.2 169.8,317.8 170.0,316.2 170.1,317.9 170.2,315.2 170.3,313.1 170.4,312.4 170.6,314.2 170.7,315.7 170.8,314.0 170.9,319.9 171.0,315.2 171.2,316.2 171.3,315.6 171.4,313.0 171.5,317.5 171.6,316.7 171.8,317.2 171.9,313.8 172.0,315.6 172.1,315.5 172.2,317.9 172.4,313.1 172.5,317.0 172.6,318.1 172.7,314.9 172.8,314.2 173.0,318.3 173.1,316.3 173.2,318.0 173.3,317.3 173.4,317.9 173.6,315.5 173.7,311.8 173.8,317.0 173.9,314.6 174.0,317.1 174.2,314.9 174.3,319.0 174.4,315.4 174.5,317.5 174.6,318.0 174.8,315.8 174.9,316.6 175.0,315.9 175.1,314.2 175.2,318.7 175.4,314.2 175.5,313.0 175.6,315.0 175.7,316.2 175.8,316.1 176.0,315.3 176.1,315.1 176.2,311.9 176.3,317.1 176.4,319.3 176.6,314.6 176.7,312.5 176.8,317.4 176.9,315.6 177.0,308.4 177.2,314.5 177.3,313.2 177.4,313.7 177.5,319.8 177.6,317.9 177.8,315.7 177.9,316.0 178.0,319.0 178.1,313.9 178.2,317.4 178.4,314.8 178.5,317.6 178.6,316.4 178.7,314.6 178.8,318.0 179.0,317.0 179.1,319.5 179.2,315.2 179.3,316.2 179.4,314.7 179.6,318.3 179.7,314.5 179.8,315.9 179.9,318.3 180.0,316.8 180.2,316.2 180.3,316.1 180.4,316.0 180.5,316.4 180.6,314.2 180.8,310.6 180.9,316.4 181.0,311.2 181.1,316.0 181.2,312.2 181.4,316.7 181.5,311.8 181.6,309.3 181.7,309.0 181.8,303.5 182.0,305.4 182.1,303.5 182.2,303.5 182.3,299.2 182.4,298.8 182.6,304.6 182.7,303.9 182.8,303.8 182.9,305.5 183.0,305.5 183.2,307.0 183.3,310.3 183.4,309.7 183.5,312.4 183.6,310.7 183.8,309.3 183.9,312.2 184.0,313.7 184.1,312.3 184.2,314.0 184.4,314.0 184.5,316.9 184.6,316.9 184.7,317.4 184.8,314.0 185.0,316.1 185.1,317.9 185.2,315.8 185.3,315.4 185.4,314.1 185.6,317.1 185.7,315.8 185.8,317.4 185.9,315.2 186.0,319.4 186.2,315.4 186.3,313.1 186.4,315.8 186.5,316.4 186.6,317.9 186.8,314.5 186.9,314.4 187.0,314.9 187.1,314.7 187.2,311.4 187.4,316.7 187.5,317.7 187.6,313.9 187.7,313.5 187.8,315.0 188.0,313.8 188.1,316.8 188.2,314.1 188.3,316.4 188.4,312.9 188.6,312.5 188.7,312.3 188.8,312.5 188.9,315.9 189.0,316.7 189.2,315.4 189.3,315.5 189.4,310.9 189.5,317.1 189.6,312.7 189.8,317.4 189.9,319.5 190.0,315.0 190.1,316.0 190.2,316.0 190.4,312.3 190.5,312.7 190.6,313.5 190.7,315.0 190.8,316.3 191.0,314.9 191.1,316.7 191.2,313.7 191.3,311.9 191.4,314.6 191.6,314.4 191.7,311.8 191.8,316.4 191.9,312.7 192.0,313.1 192.2,314.8 192.3,312.4 192.4,315.5 192.5,315.0 192.6,315.1 192.8,314.3 192.9,313.4 193.0,312.8 193.1,314.8 193.2,316.7 193.4,315.6 193.5,314.8 193.6,316.0 193.7,316.6 193.8,311.8 194.0,314.0 194.1,316.4 194.2,312.9 194.3,313.2 194.4,315.2 194.6,313.6 194.7,316.3 194.8,313.5 194.9,315.1 195.0,318.7 195.2,316.2 195.3,311.5 195.4,312.1 195.5,312.2 195.6,313.9 195.8,311.4 195.9,315.1 196.0,317.2 196.1,317.0 196.2,312.7 196.4,313.6 196.5,313.6 196.6,312.6 196.7,317.3 196.8,312.9 197.0,312.2 197.1,314.9 197.2,314.9 197.3,317.2 197.4,317.2 197.6,314.1 197.7,310.6 197.8,315.8 197.9,316.1 198.0,318.0 198.2,311.8 198.3,312.6 198.4,317.7 198.5,317.9 198.6,317.4 198.8,315.0 198.9,317.5 199.0,314.1 199.1,312.9 199.2,315.2 199.4,315.5 199.5,316.9 199.6,317.5 199.7,312.3 199.8,316.1 200.0,316.5 200.1,313.3 200.2,315.1 200.3,315.6 200.4,316.3 200.6,313.7 200.7,314.0 200.8,312.8 200.9,315.2 201.0,313.5 201.2,312.6 201.3,314.3 201.4,312.2 201.5,309.6 201.6,313.1 201.8,312.0 201.9,310.3 202.0,306.8 202.1,310.0 202.2,306.3 202.4,303.5 202.5,306.4 202.6,309.9 202.7,306.0 202.8,308.3 203.0,310.3 203.1,308.9 203.2,308.8 203.3,310.3 203.4,312.3 203.6,311.2 203.7,313.7 203.8,314.9 203.9,314.0 204.0,316.6 204.2,317.0 204.3,315.9 204.4,316.6 204.5,317.5 204.6,317.3 204.8,317.5 204.9,316.2 205.0,318.4 205.1,319.6 205.2,319.6 205.4,317.0 205.5,319.5 205.6,319.7 205.7,316.9 205.8,319.5 206.0,318.3 206.1,317.9 206.2,319.0 206.3,318.2 206.4,314.6 206.6,319.0 206.7,316.6 206.8,318.4 206.9,319.8 207.0,318.1 207.2,317.7 207.3,318.7 207.4,319.3 207.5,317.0 207.6,317.3 207.8,319.2 207.9,321.1 208.0,318.2 208.1,319.7 208.2,316.7 208.4,317.9 208.5,317.8 208.6,315.1 208.7,317.0 208.8,316.2 209.0,311.4 209.1,315.0 209.2,314.7 209.3,313.4 209.4,312.1 209.6,307.8 209.7,306.4 209.8,305.0 209.9,301.0 210.0,298.6 210.2,298.2 210.3,290.8 210.4,287.8 210.5,287.6 210.6,280.0 210.8,274.4 210.9,272.7 211.0,269.0 211.1,265.9 211.2,260.3 211.4,262.1 211.5,261.6 211.6,264.9 211.7,263.8 211.8,264.0 212.0,268.2 212.1,272.3 212.2,274.7 212.3,278.9 212.4,285.5 212.6,288.1 212.7,292.1 212.8,293.3 212.9,299.3 213.0,298.4 213.2,306.8 213.3,306.3 213.4,310.4 213.5,313.6 213.6,310.9 213.8,316.1 213.9,315.5 214.0,317.9 214.1,315.9 214.2,315.9 214.4,319.7 214.5,318.5 214.6,318.1 214.7,316.2 214.8,320.6 215.0,317.9 215.1,318.1 215.2,317.4 215.3,318.6 215.4,319.7 215.6,318.6 215.7,318.6 215.8,317.8 215.9,321.3 216.0,321.6 216.2,318.3 216.3,317.3 216.4,319.3 216.5,316.0 216.6,319.3 216.8,319.3 216.9,319.1 217.0,321.6 217.1,322.0 217.2,319.6 217.4,318.3 217.5,320.7 217.6,320.8 217.7,316.8 217.8,317.6 218.0,318.4 218.1,316.0 218.2,317.0 218.3,321.7 218.4,316.7 218.6,320.4 218.7,317.5 218.8,320.6 218.9,319.5 219.0,320.4 219.2,316.5 219.3,319.4 219.4,317.9 219.5,320.2 219.6,320.1 219.8,319.2 219.9,318.7 220.0,318.9 220.1,319.3 220.2,318.0 220.4,318.1 220.5,317.8 220.6,317.0 220.7,320.6 220.8,316.6 221.0,321.1 221.1,320.0 221.2,315.9 221.3,315.7 221.4,318.8 221.6,317.0 221.7,319.0 221.8,320.4 221.9,319.4 222.0,318.4 222.2,318.4 222.3,321.3 222.4,318.1 222.5,321.7 222.6,322.2 222.8,318.1 222.9,319.2 223.0,321.6 223.1,317.5 223.2,319.4 223.4,320.4 223.5,316.9 223.6,319.2 223.7,318.8 223.8,317.6 224.0,321.1 224.1,318.2 224.2,322.3 224.3,319.6 224.4,317.1 224.6,318.7 224.7,317.0 224.8,319.6 224.9,319.3 225.0,316.1 225.2,317.4 225.3,318.8 225.4,318.1 225.5,316.3 225.6,319.7 225.8,320.1 225.9,315.3 226.0,320.2 226.1,314.2 226.2,317.4 226.4,316.5 226.5,316.6 226.6,317.8 226.7,315.5 226.8,317.3 227.0,320.3 227.1,318.2 227.2,319.9 227.3,318.8 227.4,314.6 227.6,320.3 227.7,318.8 227.8,318.4 227.9,316.7 228.0,316.4 228.2,315.5 228.3,317.0 228.4,317.5 228.5,317.0 228.6,317.0 228.8,314.0 228.9,316.0 229.0,315.9 229.1,317.7 229.2,316.4 229.4,316.4 229.5,317.3 229.6,316.4 229.7,316.7 229.8,319.0 230.0,316.9 230.1,315.6 230.2,318.1 230.3,318.4 230.4,318.1 230.6,314.9 230.7,318.7 230.8,317.2 230.9,317.3 231.0,317.2 231.2,317.8 231.3,317.9 231.4,319.5 231.5,317.5 231.6,316.9 231.8,318.1 231.9,316.9 232.0,318.9 232.1,317.3 232.2,318.3 232.4,316.2 232.5,318.7 232.6,318.1 232.7,315.7 232.8,316.5 233.0,317.2 233.1,314.9 233.2,315.3 233.3,317.9 233.4,318.0 233.6,319.4 233.7,315.0 233.8,316.5 233.9,313.8 234.0,320.0 234.2,315.0 234.3,316.8 234.4,320.4 234.5,319.5 234.6,315.8 234.8,320.9 234.9,318.0 235.0,315.5 235.1,317.7 235.2,318.3 235.4,318.3 235.5,313.7 235.6,320.3 235.7,314.6 235.8,316.9 236.0,319.6 236.1,317.9 236.2,317.3 236.3,316.3 236.4,318.3 236.6,319.6 236.7,316.5 236.8,318.1 236.9,316.8 237.0,316.7 237.2,314.0 237.3,317.9 237.4,319.0 237.5,317.3 237.6,319.3 237.8,317.9 237.9,319.6 238.0,317.9 238.1,317.1 238.2,316.9 238.4,317.9 238.5,318.2 238.6,316.5 238.7,317.6 238.8,315.7 239.0,315.7 239.1,319.0 239.2,318.5 239.3,319.4 239.4,318.2 239.6,318.4 239.7,321.1 239.8,316.7 239.9,318.6 240.0,320.7 240.2,321.5 240.3,319.2 240.4,318.1 240.5,316.6 240.6,318.1 240.8,318.6 240.9,318.4 241.0,319.2 241.1,319.4 241.2,317.7 241.4,317.1 241.5,318.1 241.6,319.3 241.7,321.3 241.8,316.0 242.0,320.4 242.1,318.3 242.2,320.6 242.3,321.9 242.4,319.7 242.6,317.1 242.7,318.3 242.8,319.6 242.9,318.5 243.0,319.0 243.2,317.9 243.3,318.8 243.4,318.2 243.5,320.7 243.6,319.8 243.8,320.6 243.9,316.8 244.0,318.7 244.1,318.3 244.2,318.9 244.4,318.2 244.5,318.5 244.6,322.2 244.7,319.3 244.8,317.8 245.0,319.4 245.1,323.5 245.2,321.1 245.3,318.5 245.4,319.6 245.6,319.9 245.7,320.2 245.8,317.2 245.9,318.7 246.0,320.0 246.2,317.6 246.3,320.1 246.4,320.5 246.5,321.7 246.6,322.2 246.8,320.3 246.9,321.0 247.0,321.8 247.1,322.4 247.2,321.0 247.4,319.7 247.5,321.9 247.6,322.4 247.7,321.3 247.8,322.0 248.0,323.7 248.1,320.4 248.2,320.1 248.3,319.5 248.4,321.8 248.6,322.8 248.7,320.5 248.8,324.2 248.9,320.4 249.0,321.8 249.2,321.2 249.3,323.5 249.4,320.3 249.5,324.0 249.6,321.1 249.8,319.2 249.9,320.4 250.0,321.1 250.1,324.0 250.2,320.6 250.4,321.3 250.5,324.6 250.6,321.6 250.7,320.3 250.8,320.2 251.0,318.8 251.1,321.9 251.2,323.2 251.3,320.7 251.4,319.6 251.6,321.7 251.7,321.3 251.8,321.1 251.9,322.0 252.0,321.3 252.2,320.7 252.3,322.9 252.4,318.3 252.5,319.5 252.6,320.8 252.8,319.1 252.9,323.6 253.0,317.8 253.1,322.3 253.2,322.1 253.4,321.8 253.5,321.9 253.6,320.3 253.7,320.1 253.8,323.4 254.0,321.0 254.1,318.9 254.2,319.2 254.3,318.7 254.4,321.6 254.6,323.0 254.7,320.7 254.8,321.4 254.9,320.4 255.0,322.6 255.2,322.6 255.3,322.7 255.4,324.0 255.5,319.3 255.6,322.5 255.8,318.8 255.9,322.4 256.0,322.5 256.1,322.4 256.2,322.5 256.4,321.0 256.5,320.2 256.6,322.5 256.7,320.3 256.8,322.4 257.0,319.9 257.1,321.8 257.2,321.7 257.3,319.9 257.4,320.8 257.6,322.7 257.7,321.3 257.8,322.1 257.9,320.4 258.0,321.4 258.2,319.0 258.3,320.1 258.4,323.2 258.5,322.1 258.6,321.3 258.8,321.5 258.9,319.2 259.0,321.9 259.1,319.3 259.2,320.1 259.4,322.3 259.5,320.1 259.6,320.4 259.7,321.1 259.8,321.4 260.0,323.3 260.1,318.6 260.2,320.6 260.3,322.1 260.4,320.4 260.6,320.6 260.7,319.9 260.8,320.7 260.9,322.2 261.0,323.1 261.2,321.7 261.3,323.3 261.4,321.3 261.5,318.6 261.6,322.4 261.8,318.1 261.9,321.1 262.0,321.2 262.1,319.4 262.2,320.9 262.4,320.3 262.5,321.4 262.6,320.7 262.7,322.1 262.8,320.6 263.0,322.1 263.1,321.2 263.2,321.6 263.3,321.4 263.4,320.5 263.6,322.9 263.7,322.1 263.8,317.7 263.9,319.3 264.0,323.8 264.2,320.8 264.3,325.5 264.4,321.9 264.5,321.9 264.6,320.5 264.8,320.9 264.9,321.5 265.0,322.6 265.1,321.4 265.2,321.2 265.4,319.7 265.5,320.5 265.6,320.6 265.7,321.0 265.8,320.1 266.0,319.5 266.1,320.7 266.2,317.4 266.3,318.9 266.4,319.9 266.6,321.7 266.7,320.1 266.8,319.5 266.9,322.1 267.0,320.9 267.2,323.2 267.3,320.8 267.4,320.0 267.5,320.5 267.6,323.8 267.8,323.4 267.9,321.3 268.0,322.7 268.1,319.0 268.2,323.0 268.4,321.6 268.5,320.9 268.6,321.1 268.7,321.4 268.8,320.4 269.0,320.5 269.1,319.2 269.2,323.4 269.3,319.7 269.4,320.8 269.6,322.6 269.7,322.8 269.8,323.2 269.9,320.1 270.0,320.3 270.2,320.9 270.3,318.1 270.4,322.3 270.5,318.5 270.6,320.7 270.8,322.3 270.9,322.2 271.0,320.2 271.1,322.3 271.2,322.5 271.4,318.3 271.5,320.5 271.6,321.9 271.7,321.6 271.8,320.6 272.0,320.7 272.1,324.4 272.2,320.4 272.3,322.5 272.4,319.1 272.6,321.7 272.7,322.5 272.8,320.3 272.9,320.0 273.0,323.8 273.2,320.7 273.3,322.6 273.4,318.9 273.5,323.6 273.6,318.1 273.8,319.7 273.9,320.2 274.0,321.0 274.1,321.4 274.2,323.6 274.4,324.3 274.5,324.0 274.6,322.4 274.7,321.5 274.8,318.1 275.0,321.1 275.1,320.4 275.2,322.2 275.3,319.7 275.4,320.0 275.6,320.1 275.7,322.2 275.8,321.5 275.9,319.7 276.0,318.6 276.2,320.4 276.3,320.3 276.4,320.4 276.5,321.3 276.6,322.3 276.8,322.4 276.9,320.2 277.0,320.0 277.1,323.5 277.2,320.8 277.4,322.3 277.5,321.5 277.6,321.7 277.7,323.6 277.8,320.8 278.0,322.8 278.1,321.9 278.2,320.9 278.3,320.4 278.4,320.3 278.6,322.8 278.7,322.6 278.8,319.8 278.9,321.6 279.0,318.2 279.2,321.0 279.3,324.0 279.4,319.1 279.5,321.3 279.6,319.9 279.8,320.9 279.9,319.1 280.0,320.9 280.1,317.0 280.2,320.1 280.4,319.9 280.5,320.2 280.6,323.2 280.7,318.4 280.8,318.9 281.0,317.8 281.1,320.5 281.2,319.6 281.3,317.7 281.4,320.7 281.6,319.5 281.7,321.1 281.8,319.9 281.9,318.7 282.0,317.2 282.2,314.9 282.3,317.1 282.4,319.5 282.5,317.3 282.6,316.3 282.8,317.8 282.9,318.5 283.0,321.6 283.1,315.9 283.2,316.9 283.4,315.9 283.5,316.6 283.6,319.2 283.7,317.9 283.8,316.0 284.0,320.4 284.1,321.3 284.2,320.0 284.3,317.5 284.4,317.6 284.6,321.3 284.7,318.0 284.8,318.9 284.9,317.7 285.0,322.9 285.2,319.1 285.3,320.0 285.4,319.2 285.5,319.4 285.6,318.8 285.8,322.3 285.9,319.7 286.0,323.0 286.1,318.9 286.2,321.7 286.4,322.5 286.5,319.3 286.6,321.5 286.7,320.3 286.8,319.5 287.0,320.6 287.1,318.5 287.2,320.9 287.3,319.0 287.4,322.4 287.6,323.7 287.7,323.6 287.8,320.4 287.9,321.3 288.0,324.6 288.2,323.5 288.3,322.6 288.4,318.4 288.5,321.2 288.6,325.1 288.8,322.4 288.9,321.1 289.0,321.9 289.1,325.4 289.2,323.8 289.4,319.9 289.5,320.1 289.6,321.9 289.7,323.9 289.8,320.8 290.0,321.1 290.1,318.1 290.2,321.0 290.3,322.9 290.4,322.9 290.6,319.7 290.7,323.2 290.8,320.7 290.9,319.8 291.0,322.8 291.2,319.5 291.3,321.3 291.4,320.7 291.5,321.8 291.6,322.3 291.8,321.3 291.9,320.7 292.0,321.2 292.1,318.4 292.2,321.9 292.4,325.2 292.5,322.7 292.6,323.9 292.7,322.2 292.8,322.2 293.0,322.9 293.1,323.3 293.2,323.2 293.3,321.0 293.4,322.3 293.6,320.0 293.7,323.9 293.8,322.3 293.9,321.9 294.0,320.4 294.2,323.1 294.3,323.9 294.4,323.2 294.5,324.1 294.6,321.3 294.8,323.9 294.9,322.5 295.0,318.4 295.1,322.9 295.2,321.0 295.4,322.3 295.5,321.5 295.6,321.2 295.7,324.2 295.8,321.7 296.0,322.9 296.1,323.7 296.2,322.1 296.3,320.8 296.4,322.8 296.6,322.5 296.7,321.3 296.8,322.9 296.9,324.7 297.0,324.2 297.2,325.1 297.3,324.9 297.4,323.1 297.5,322.9 297.6,321.2 297.8,324.7 297.9,322.0 298.0,323.8 298.1,325.4 298.2,323.1 298.4,320.6 298.5,321.3 298.6,322.4 298.7,325.0 298.8,322.4 299.0,322.7 299.1,321.3 299.2,323.5 299.3,323.1 299.4,324.2 299.6,321.5 299.7,323.9 299.8,320.8 299.9,321.9 300.0,322.1 300.2,322.7 300.3,323.6 300.4,319.4 300.5,322.9 300.6,322.4 300.8,321.0 300.9,322.5 301.0,323.7 301.1,322.3 301.2,322.3 301.4,324.1 301.5,321.9 301.6,324.7 301.7,323.7 301.8,323.7 302.0,324.0 302.1,325.0 302.2,322.0 302.3,324.9 302.4,321.8 302.6,323.7 302.7,324.1 302.8,323.4 302.9,321.5 303.0,321.4 303.2,321.5 303.3,323.1 303.4,323.5 303.5,324.1 303.6,320.9 303.8,323.7 303.9,324.8 304.0,323.5 304.1,323.3 304.2,324.5 304.4,325.7 304.5,325.6 304.6,325.7 304.7,321.4 304.8,325.5 305.0,322.9 305.1,324.7 305.2,322.5 305.3,324.0 305.4,322.5 305.6,323.0 305.7,326.3 305.8,321.6 305.9,324.9 306.0,323.6 306.2,321.8 306.3,325.5 306.4,323.5 306.5,322.7 306.6,324.0 306.8,322.3 306.9,326.0 307.0,321.3 307.1,322.8 307.2,320.5 307.4,323.9 307.5,324.8 307.6,325.0 307.7,325.9 307.8,323.6 308.0,322.9 308.1,325.0 308.2,322.7 308.3,324.2 308.4,322.9 308.6,322.6 308.7,323.6 308.8,325.4 308.9,325.1 309.0,323.9 309.2,319.8 309.3,323.7 309.4,324.3 309.5,324.6 309.6,322.7 309.8,325.3 309.9,324.3 310.0,320.9 310.1,324.9 310.2,326.3 310.4,324.2 310.5,322.6 310.6,326.6 310.7,325.3 310.8,321.1 311.0,325.4 311.1,324.5 311.2,324.3 311.3,321.2 311.4,321.3 311.6,324.1 311.7,326.7 311.8,324.1 311.9,324.0 312.0,322.9 312.2,323.3 312.3,325.4 312.4,322.7 312.5,326.7 312.6,324.6 312.8,324.3 312.9,323.7 313.0,322.8 313.1,323.5 313.2,321.6 313.4,323.9 313.5,321.0 313.6,327.1 313.7,323.7 313.8,321.5 314.0,324.1 314.1,323.9 314.2,322.9 314.3,324.1 314.4,322.5 314.6,323.6 314.7,323.5 314.8,324.5 314.9,322.9 315.0,324.2 315.2,319.6 315.3,325.4 315.4,324.1 315.5,324.6 315.6,323.4 315.8,325.1 315.9,323.8 316.0,324.1 316.1,324.0 316.2,323.1 316.4,322.5 316.5,324.7 316.6,324.8 316.7,323.8 316.8,325.8 317.0,324.1 317.1,324.7 317.2,325.6 317.3,325.0 317.4,323.7 317.6,322.4 317.7,322.8 317.8,322.4 317.9,325.2 318.0,318.7 318.2,327.0 318.3,322.7 318.4,325.6 318.5,324.5 318.6,324.8 318.8,322.1 318.9,325.6 319.0,323.9 319.1,325.0 319.2,322.7 319.4,324.0 319.5,323.0 319.6,324.5 319.7,325.1 319.8,323.8 320.0,324.7 320.1,324.9 320.2,324.0 320.3,323.7 320.4,321.2 320.6,325.7 320.7,324.4 320.8,323.8 320.9,324.4 321.0,323.4 321.2,323.7 321.3,324.9 321.4,321.9 321.5,323.7 321.6,324.5 321.8,321.8 321.9,322.6 322.0,326.0 322.1,327.4 322.2,324.6 322.4,325.2 322.5,322.9 322.6,326.2 322.7,324.1 322.8,324.4 323.0,324.8 323.1,323.4 323.2,323.2 323.3,324.2 323.4,322.7 323.6,323.4 323.7,320.4 323.8,322.8 323.9,324.9 324.0,325.9 324.2,325.1 324.3,323.0 324.4,324.4 324.5,322.9 324.6,322.7 324.8,325.7 324.9,323.7 325.0,323.8 325.1,324.5 325.2,325.6 325.4,324.4 325.5,323.9 325.6,324.8 325.7,324.2 325.8,323.8 326.0,321.1 326.1,323.0 326.2,324.1 326.3,322.8 326.4,327.0 326.6,327.7 326.7,326.8 326.8,323.1 326.9,325.1 327.0,325.0 327.2,324.9 327.3,322.1 327.4,325.8 327.5,326.9 327.6,325.6 327.8,327.5 327.9,324.0 328.0,325.4 328.1,326.3 328.2,323.1 328.4,324.3 328.5,323.4 328.6,325.7 328.7,322.8 328.8,324.9 329.0,323.7 329.1,325.7 329.2,323.7 329.3,324.2 329.4,324.8 329.6,323.3 329.7,323.8 329.8,324.0 329.9,323.7 330.0,324.7 330.2,323.2 330.3,324.5 330.4,323.9 330.5,323.4 330.6,322.7 330.8,321.5 330.9,323.2 331.0,324.9 331.1,323.6 331.2,326.3 331.4,322.7 331.5,323.5 331.6,321.7 331.7,325.6 331.8,322.0 332.0,324.5 332.1,324.3 332.2,327.6 332.3,325.7 332.4,324.9 332.6,324.0 332.7,326.4 332.8,323.2 332.9,321.9 333.0,324.9 333.2,323.5 333.3,322.5 333.4,324.0 333.5,324.1 333.6,321.1 333.8,324.7 333.9,326.0 334.0,322.6 334.1,320.9 334.2,323.3 334.4,322.6 334.5,323.8 334.6,323.9 334.7,322.3 334.8,324.5 335.0,319.4 335.1,320.9 335.2,322.0 335.3,322.1 335.4,321.2 335.6,321.7 335.7,318.9 335.8,317.1 335.9,321.3 336.0,321.7 336.2,319.4 336.3,317.3 336.4,317.5 336.5,318.9 336.6,317.9 336.8,319.0 336.9,319.0 337.0,317.9 337.1,315.4 337.2,316.9 337.4,315.9 337.5,315.3 337.6,315.2 337.7,314.9 337.8,313.7 338.0,316.0 338.1,314.7 338.2,316.1 338.3,317.8 338.4,318.2 338.6,315.0 338.7,317.1 338.8,317.0 338.9,319.4 339.0,318.4 339.2,321.2 339.3,319.6 339.4,321.2 339.5,319.5 339.6,320.1 339.8,321.0 339.9,322.3 340.0,319.0 340.1,322.2 340.2,320.2 340.4,322.7 340.5,320.1 340.6,322.1 340.7,324.6 340.8,325.1 341.0,321.7 341.1,325.7 341.2,322.7 341.3,323.5 341.4,324.2 341.6,323.7 341.7,324.2 341.8,324.0 341.9,325.0 342.0,324.2 342.2,323.3 342.3,322.5 342.4,322.5 342.5,323.9 342.6,325.1 342.8,324.6 342.9,323.7 343.0,324.8 343.1,323.4 343.2,324.4 343.4,324.9 343.5,323.8 343.6,326.2 343.7,326.0 343.8,324.0 344.0,325.3 344.1,324.8 344.2,325.0 344.3,325.0 344.4,326.4 344.6,325.1 344.7,325.1 344.8,326.0 344.9,325.9 345.0,327.1 345.2,323.6 345.3,325.7 345.4,322.2 345.5,324.9 345.6,323.1 345.8,323.0 345.9,324.7 346.0,323.4 346.1,324.5 346.2,321.1 346.4,326.9 346.5,321.2 346.6,324.0 346.7,327.3 346.8,323.1 347.0,327.4 347.1,326.6 347.2,324.9 347.3,324.6 347.4,324.7 347.6,325.5 347.7,326.5 347.8,327.0 347.9,322.2 348.0,326.4 348.2,326.0 348.3,323.5 348.4,326.4 348.5,326.5 348.6,326.5 348.8,325.1 348.9,326.3 349.0,326.9 349.1,324.3 349.2,324.6 349.4,324.5 349.5,326.9 349.6,325.3 349.7,324.3 349.8,323.9 350.0,323.5 350.1,325.6 350.2,326.5 350.3,327.1 350.4,324.0 350.6,324.0 350.7,324.0 350.8,324.2 350.9,323.3 351.0,327.5 351.2,326.0 351.3,324.7 351.4,321.9 351.5,327.3 351.6,326.5 351.8,325.6 351.9,326.4 352.0,324.5 352.1,326.3 352.2,324.7 352.4,326.1 352.5,325.2 352.6,323.7 352.7,324.0 352.8,327.0 353.0,326.9 353.1,325.2 353.2,324.5 353.3,324.9 353.4,326.1 353.6,323.6 353.7,326.9 353.8,324.4 353.9,324.0 354.0,325.5 354.2,328.2 354.3,324.6 354.4,325.1 354.5,324.0 354.6,326.0 354.8,326.0 354.9,325.6 355.0,325.1 355.1,326.2 355.2,326.8 355.4,325.1 355.5,325.3 355.6,324.8 355.7,324.9 355.8,327.4 356.0,324.3 356.1,326.0 356.2,327.2 356.3,325.0 356.4,326.5 356.6,326.8 356.7,323.8 356.8,327.1 356.9,324.4 357.0,326.0 357.2,323.7 357.3,323.6 357.4,325.5 357.5,328.1 357.6,329.4 357.8,329.7 357.9,327.8 358.0,327.6 358.1,327.0 358.2,326.9 358.4,325.5 358.5,325.4 358.6,326.6 358.7,326.7 358.8,325.2 359.0,324.4 359.1,325.1 359.2,330.7 359.3,325.1 359.4,328.1 359.6,327.8 359.7,327.6 359.8,325.3 359.9,329.0 360.0,326.6 360.2,325.4 360.3,325.2 360.4,326.0 360.5,329.2 360.6,324.5 360.8,325.3 360.9,326.3 361.0,327.0 361.1,324.8 361.2,325.0 361.4,325.6 361.5,327.3 361.6,326.1 361.7,326.1 361.8,326.7 362.0,326.6 362.1,327.7 362.2,325.4 362.3,326.4 362.4,325.6 362.6,327.5 362.7,327.6 362.8,326.2 362.9,328.1 363.0,326.3 363.2,328.5 363.3,326.0 363.4,326.0 363.5,324.6 363.6,325.2 363.8,326.1 363.9,323.7 364.0,326.6 364.1,327.8 364.2,327.4 364.4,327.0 364.5,327.6 364.6,325.9 364.7,326.1 364.8,327.9 365.0,326.6 365.1,328.1 365.2,326.1 365.3,327.7 365.4,328.5 365.6,326.7 365.7,329.2 365.8,329.0 365.9,323.6 366.0,330.5 366.2,324.7 366.3,330.3 366.4,325.7 366.5,324.1 366.6,325.1 366.8,327.6 366.9,325.6 367.0,326.2 367.1,328.7 367.2,325.6 367.4,327.7 367.5,328.8 367.6,324.5 367.7,325.5 367.8,327.4 368.0,327.1 368.1,327.5 368.2,324.4 368.3,326.0 368.4,327.7 368.6,328.0 368.7,328.9 368.8,326.7 368.9,326.2 369.0,325.9 369.2,326.0 369.3,324.4 369.4,329.6 369.5,326.6 369.6,326.3 369.8,326.4 369.9,328.0 370.0,327.4 370.1,326.2 370.2,328.7 370.4,327.7 370.5,327.0 370.6,327.3 370.7,328.9 370.8,328.3 371.0,327.2 371.1,328.8 371.2,324.4 371.3,328.3 371.4,326.2 371.6,326.5 371.7,327.1 371.8,330.0 371.9,327.2 372.0,327.2 372.2,328.2 372.3,324.7 372.4,327.1 372.5,328.4 372.6,326.1 372.8,328.3 372.9,326.5 373.0,325.5 373.1,328.7 373.2,327.6 373.4,328.6 373.5,327.8 373.6,326.1 373.7,328.9 373.8,328.2 374.0,328.2 374.1,327.1 374.2,326.1 374.3,329.6 374.4,328.7 374.6,327.9 374.7,326.9 374.8,329.5 374.9,326.6 375.0,326.7 375.2,330.6 375.3,328.5 375.4,329.0 375.5,328.7 375.6,330.6 375.8,328.3 375.9,328.4 376.0,326.6 376.1,327.8 376.2,325.7 376.4,327.2 376.5,327.7 376.6,328.7 376.7,329.6 376.8,326.8 377.0,326.3 377.1,328.1 377.2,326.5 377.3,330.0 377.4,329.4 377.6,326.3 377.7,327.9 377.8,329.3 377.9,326.4 378.0,326.9 378.2,327.5 378.3,329.4 378.4,328.1 378.5,327.1 378.6,327.9 378.8,327.4 378.9,327.6 379.0,327.9 379.1,327.5 379.2,328.0 379.4,327.1 379.5,326.6 379.6,326.5 379.7,324.7 379.8,326.1 380.0,329.0 380.1,326.4 380.2,327.0 380.3,327.3 380.4,325.4 380.6,325.4 380.7,326.3 380.8,324.2 380.9,326.4 381.0,325.9 381.2,325.0 381.3,324.8 381.4,325.2 381.5,324.1 381.6,320.4 381.8,324.1 381.9,322.0 382.0,322.4 382.1,322.4 382.2,322.3 382.4,320.6 382.5,320.3 382.6,322.8 382.7,323.1 382.8,323.8 383.0,321.8 383.1,323.3 383.2,325.0 383.3,323.8 383.4,323.8 383.6,327.5 383.7,322.9 383.8,324.3 383.9,324.2 384.0,325.2 384.2,330.3 384.3,325.0 384.4,326.2 384.5,326.0 384.6,325.9 384.8,328.1 384.9,326.6 385.0,328.7 385.1,329.3 385.2,326.9 385.4,329.5 385.5,326.2 385.6,328.3 385.7,329.3 385.8,326.7 386.0,328.0 386.1,328.8 386.2,329.0 386.3,328.8 386.4,331.0 386.6,328.2 386.7,330.1 386.8,331.3 386.9,327.8 387.0,328.1 387.2,327.3 387.3,329.6 387.4,330.6 387.5,326.5 387.6,327.6 387.8,328.0 387.9,331.8 388.0,328.4 388.1,329.4 388.2,327.4 388.4,330.1 388.5,327.6 388.6,328.9 388.7,327.7 388.8,328.9 389.0,328.9 389.1,329.4 389.2,329.4 389.3,331.5 389.4,328.2 389.6,330.9 389.7,329.6 389.8,329.0 389.9,329.6 390.0,329.6 390.2,330.3 390.3,330.3 390.4,330.1 390.5,329.6 390.6,327.2 390.8,330.4 390.9,330.8 391.0,329.8 391.1,329.7 391.2,328.2 391.4,329.7 391.5,330.5 391.6,327.6 391.7,328.7 391.8,328.7 392.0,331.0 392.1,328.8 392.2,327.0 392.3,329.5 392.4,331.1 392.6,329.1 392.7,328.8 392.8,329.6 392.9,331.5 393.0,329.0 393.2,329.0 393.3,329.9 393.4,328.3 393.5,327.2 393.6,329.5 393.8,328.9 393.9,329.8 394.0,329.5 394.1,330.0 394.2,328.0 394.4,329.8 394.5,328.2 394.6,329.8 394.7,328.8 394.8,331.5 395.0,328.2 395.1,326.4 395.2,329.5 395.3,328.7 395.4,328.1 395.6,329.6 395.7,331.4 395.8,329.1 395.9,328.4 396.0,331.1 396.2,330.7 396.3,329.3 396.4,328.5 396.5,330.1 396.6,328.3 396.8,328.4 396.9,328.1 397.0,329.9 397.1,331.1 397.2,329.2 397.4,331.4 397.5,326.6 397.6,329.1 397.7,326.9 397.8,330.3 398.0,330.7 398.1,326.8 398.2,328.1 398.3,329.1 398.4,327.1 398.6,327.9 398.7,327.7 398.8,329.1 398.9,328.0 399.0,327.5 399.2,327.9 399.3,328.8 399.4,329.0 399.5,328.6 399.6,330.4 399.8,328.4 399.9,329.0 400.0,329.6 400.1,328.4 400.2,330.5 400.4,329.8 400.5,329.8 400.6,327.7 400.7,328.6 400.8,329.5 401.0,330.1 401.1,328.0 401.2,328.1 401.3,327.1 401.4,326.9 401.6,330.1 401.7,328.7 401.8,329.4 401.9,330.1 402.0,328.7 402.2,328.9 402.3,327.4 402.4,328.0 402.5,329.2 402.6,330.4 402.8,330.0 402.9,327.8 403.0,327.7 403.1,329.5 403.2,329.3 403.4,329.3 403.5,329.0 403.6,330.2 403.7,329.0 403.8,330.4 404.0,329.3 404.1,328.6 404.2,327.2 404.3,329.0 404.4,329.7 404.6,328.8 404.7,327.3 404.8,326.2 404.9,328.1 405.0,330.7 405.2,327.1 405.3,327.9 405.4,328.6 405.5,329.6 405.6,327.2 405.8,328.4 405.9,328.7 406.0,326.9 406.1,328.8 406.2,327.0 406.4,328.4 406.5,329.0 406.6,328.3 406.7,326.6 406.8,328.9 407.0,328.9 407.1,328.2 407.2,329.0 407.3,327.3 407.4,326.8 407.6,327.6 407.7,328.3 407.8,328.8 407.9,326.7 408.0,327.8 408.2,327.6 408.3,326.8 408.4,324.8 408.5,325.1 408.6,328.2 408.8,325.1 408.9,324.6 409.0,324.9 409.1,326.1 409.2,327.9 409.4,326.6 409.5,325.4 409.6,325.4 409.7,326.1 409.8,325.4 410.0,322.9 410.1,326.3 410.2,325.6 410.3,322.9 410.4,323.6 410.6,324.1 410.7,323.5 410.8,322.5 410.9,322.6 411.0,324.4 411.2,321.5 411.3,322.8 411.4,321.7 411.5,319.9 411.6,322.0 411.8,321.6 411.9,322.7 412.0,323.4 412.1,322.9 412.2,322.2 412.4,322.8 412.5,323.5 412.6,321.8 412.7,321.9 412.8,324.4 413.0,322.4 413.1,323.7 413.2,326.5 413.3,325.7 413.4,326.4 413.6,325.0 413.7,326.7 413.8,324.5 413.9,324.7 414.0,325.6 414.2,325.1 414.3,327.6 414.4,325.9 414.5,324.8 414.6,327.4 414.8,327.2 414.9,327.9 415.0,325.0 415.1,325.4 415.2,323.8 415.4,326.9 415.5,326.4 415.6,325.8 415.7,328.0 415.8,325.4 416.0,325.7 416.1,325.1 416.2,324.9 416.3,325.9 416.4,325.7 416.6,325.3 416.7,324.3 416.8,323.9 416.9,324.6 417.0,325.2 417.2,324.1 417.3,324.6 417.4,324.7 417.5,324.0 417.6,323.3 417.8,325.0 417.9,327.2 418.0,326.1 418.1,325.5 418.2,325.0 418.4,325.2 418.5,327.4 418.6,324.9 418.7,328.7 418.8,326.7 419.0,327.2 419.1,326.5 419.2,328.3 419.3,328.3 419.4,326.4 419.6,329.6 419.7,327.7 419.8,325.8 419.9,328.3 420.0,328.1 420.2,328.0 420.3,328.9 420.4,329.2 420.5,326.5 420.6,327.7 420.8,327.8 420.9,328.1 421.0,325.9 421.1,328.4 421.2,328.2 421.4,330.5 421.5,327.2 421.6,327.6 421.7,328.8 421.8,328.2 422.0,329.3 422.1,329.8 422.2,327.2 422.3,328.5 422.4,329.1 422.6,327.5 422.7,331.1 422.8,328.7 422.9,328.6 423.0,326.6 423.2,327.6 423.3,326.0 423.4,329.2 423.5,327.5 423.6,328.5 423.8,328.9 423.9,328.7 424.0,328.0 424.1,329.3 424.2,327.1 424.4,326.2 424.5,326.7 424.6,329.4 424.7,330.1 424.8,327.6 425.0,327.8 425.1,328.9 425.2,326.8 425.3,327.8 425.4,326.7 425.6,328.5 425.7,324.9 425.8,326.6 425.9,326.3 426.0,328.3 426.2,329.0 426.3,328.4 426.4,330.9 426.5,328.5 426.6,327.3 426.8,327.9 426.9,329.2 427.0,329.0 427.1,331.0 427.2,328.7 427.4,327.3 427.5,327.1 427.6,329.4 427.7,325.1 427.8,328.9 428.0,329.5 428.1,327.9 428.2,328.8 428.3,330.0 428.4,330.3 428.6,330.1 428.7,329.7 428.8,328.3 428.9,327.1 429.0,326.0 429.2,330.6 429.3,329.8 429.4,327.0 429.5,329.8 429.6,328.0 429.8,327.9 429.9,327.1 430.0,331.0 430.1,326.9 430.2,327.2 430.4,329.4 430.5,329.5 430.6,329.2 430.7,327.3 430.8,328.3 431.0,327.5 431.1,327.9 431.2,330.7 431.3,328.9 431.4,329.5 431.6,327.5 431.7,327.9 431.8,329.1 431.9,330.0 432.0,328.4 432.2,330.4 432.3,331.5 432.4,326.4 432.5,328.6 432.6,329.4 432.8,328.3 432.9,330.6 433.0,328.7 433.1,329.0 433.2,326.7 433.4,329.8 433.5,328.2 433.6,329.1 433.7,328.3 433.8,327.8 434.0,328.4 434.1,327.1 434.2,328.3 434.3,329.9 434.4,329.7 434.6,327.4 434.7,329.6 434.8,328.1 434.9,327.8 435.0,329.3 435.2,329.4 435.3,327.8 435.4,329.7 435.5,328.6 435.6,331.2 435.8,326.8 435.9,328.3 436.0,328.3 436.1,327.6 436.2,327.0 436.4,330.1 436.5,329.0 436.6,327.0 436.7,328.0 436.8,328.2 437.0,329.0 437.1,327.5 437.2,330.4 437.3,328.7 437.4,330.3 437.6,329.3 437.7,328.3 437.8,328.5 437.9,329.1 438.0,328.9 438.2,329.0 438.3,329.6 438.4,330.1 438.5,327.5 438.6,326.8 438.8,327.6 438.9,330.1 439.0,328.5 439.1,327.9 439.2,329.1 439.4,329.6 439.5,327.4 439.6,327.5 439.7,328.7 439.8,328.6 440.0,327.8 440.1,331.4 440.2,330.2 440.3,328.5 440.4,329.5 440.6,327.3 440.7,329.8 440.8,328.5 440.9,327.9 441.0,327.1 441.2,329.7 441.3,328.8 441.4,328.0 441.5,329.9 441.6,328.4 441.8,329.0 441.9,328.2 442.0,329.2 442.1,327.4 442.2,328.3 442.4,328.8 442.5,327.8 442.6,328.1 442.7,329.6 442.8,328.2 443.0,330.0"/>
<circle cx="132.4" cy="102.2" r="3.4" fill="#bdbdbd" stroke="#333" stroke-width="1.3"/><circle cx="230.3" cy="120.5" r="3.4" fill="#bdbdbd" stroke="#333" stroke-width="1.3"/><circle cx="129.1" cy="149.1" r="3.4" fill="#bdbdbd" stroke="#333" stroke-width="1.3"/><circle cx="233.6" cy="177.5" r="3.4" fill="#bdbdbd" stroke="#333" stroke-width="1.3"/><circle cx="129.6" cy="222.5" r="3.4" fill="#bdbdbd" stroke="#333" stroke-width="1.3"/><circle cx="231.2" cy="244.2" r="3.4" fill="#bdbdbd" stroke="#333" stroke-width="1.3"/><circle cx="128.8" cy="272.4" r="3.4" fill="#bdbdbd" stroke="#333" stroke-width="1.3"/><circle cx="232.6" cy="305.2" r="3.4" fill="#bdbdbd" stroke="#333" stroke-width="1.3"/><rect x="177.55" y="108.50" width="7.5" height="7.4" rx="0.7" fill="none" stroke="#4a4a4a" stroke-width="1.25"/><rect x="199.75" y="108.50" width="7.5" height="7.4" rx="0.7" fill="none" stroke="#4a4a4a" stroke-width="1.25"/><rect x="206.95" y="100.00" width="7.5" height="7.4" rx="0.7" fill="none" stroke="#4a4a4a" stroke-width="1.25"/><rect x="177.55" y="161.00" width="7.5" height="7.4" rx="0.7" fill="none" stroke="#4a4a4a" stroke-width="1.25"/><rect x="199.75" y="157.70" width="7.5" height="7.4" rx="0.7" fill="none" stroke="#4a4a4a" stroke-width="1.25"/><rect x="208.25" y="146.10" width="7.5" height="7.4" rx="0.7" fill="none" stroke="#4a4a4a" stroke-width="1.25"/><rect x="207.85" y="190.70" width="7.5" height="7.4" rx="0.7" fill="none" stroke="#4a4a4a" stroke-width="1.25"/><rect x="277.45" y="174.30" width="7.5" height="7.4" rx="0.7" fill="none" stroke="#4a4a4a" stroke-width="1.25"/><rect x="333.95" y="179.30" width="7.5" height="7.4" rx="0.7" fill="none" stroke="#4a4a4a" stroke-width="1.25"/><rect x="378.25" y="182.60" width="7.5" height="7.4" rx="0.7" fill="none" stroke="#4a4a4a" stroke-width="1.25"/><rect x="405.75" y="174.60" width="7.5" height="7.4" rx="0.7" fill="none" stroke="#4a4a4a" stroke-width="1.25"/><rect x="400.85" y="187.30" width="7.5" height="7.4" rx="0.7" fill="none" stroke="#4a4a4a" stroke-width="1.25"/><rect x="412.25" y="187.30" width="7.5" height="7.4" rx="0.7" fill="none" stroke="#4a4a4a" stroke-width="1.25"/><rect x="177.25" y="215.50" width="7.5" height="7.4" rx="0.7" fill="none" stroke="#4a4a4a" stroke-width="1.25"/><rect x="199.15" y="212.70" width="7.5" height="7.4" rx="0.7" fill="none" stroke="#4a4a4a" stroke-width="1.25"/><rect x="207.25" y="253.30" width="7.5" height="7.4" rx="0.7" fill="none" stroke="#4a4a4a" stroke-width="1.25"/><rect x="279.35" y="233.40" width="7.5" height="7.4" rx="0.7" fill="none" stroke="#4a4a4a" stroke-width="1.25"/><rect x="333.65" y="228.50" width="7.5" height="7.4" rx="0.7" fill="none" stroke="#4a4a4a" stroke-width="1.25"/><rect x="377.55" y="236.90" width="7.5" height="7.4" rx="0.7" fill="none" stroke="#4a4a4a" stroke-width="1.25"/><rect x="411.55" y="231.20" width="7.5" height="7.4" rx="0.7" fill="none" stroke="#4a4a4a" stroke-width="1.25"/><rect x="406.25" y="242.60" width="7.5" height="7.4" rx="0.7" fill="none" stroke="#4a4a4a" stroke-width="1.25"/><rect x="417.25" y="244.50" width="7.5" height="7.4" rx="0.7" fill="none" stroke="#4a4a4a" stroke-width="1.25"/><rect x="176.45" y="284.00" width="7.5" height="7.4" rx="0.7" fill="none" stroke="#4a4a4a" stroke-width="1.25"/><rect x="196.25" y="283.00" width="7.5" height="7.4" rx="0.7" fill="none" stroke="#4a4a4a" stroke-width="1.25"/><rect x="277.85" y="298.10" width="7.5" height="7.4" rx="0.7" fill="none" stroke="#4a4a4a" stroke-width="1.25"/><rect x="333.25" y="295.40" width="7.5" height="7.4" rx="0.7" fill="none" stroke="#4a4a4a" stroke-width="1.25"/><rect x="378.25" y="304.90" width="7.5" height="7.4" rx="0.7" fill="none" stroke="#4a4a4a" stroke-width="1.25"/><rect x="407.25" y="294.30" width="7.5" height="7.4" rx="0.7" fill="none" stroke="#4a4a4a" stroke-width="1.25"/><rect x="401.55" y="305.70" width="7.5" height="7.4" rx="0.7" fill="none" stroke="#4a4a4a" stroke-width="1.25"/><rect x="414.25" y="305.70" width="7.5" height="7.4" rx="0.7" fill="none" stroke="#4a4a4a" stroke-width="1.25"/><path d="M194.3,112.8 L197.7,120.5 L190.9,120.5 Z" fill="none" stroke="#858585" stroke-width="1.1" stroke-linejoin="miter"/><path d="M225.3,116.3 L228.7,124.0 L221.9,124.0 Z" fill="none" stroke="#858585" stroke-width="1.1" stroke-linejoin="miter"/><path d="M193.9,169.0 L197.3,176.7 L190.5,176.7 Z" fill="none" stroke="#858585" stroke-width="1.1" stroke-linejoin="miter"/><path d="M217.3,166.3 L220.7,174.0 L213.9,174.0 Z" fill="none" stroke="#858585" stroke-width="1.1" stroke-linejoin="miter"/><path d="M228.2,169.0 L231.6,176.7 L224.8,176.7 Z" fill="none" stroke="#858585" stroke-width="1.1" stroke-linejoin="miter"/>
<line x1="44.4" y1="18.2" x2="44.4" y2="340.90000000000003" stroke="#000" stroke-width="1.7"/><line x1="43.6" y1="340.1" x2="444.2" y2="340.1" stroke="#000" stroke-width="1.7"/><line x1="38.199999999999996" y1="19.00" x2="44.4" y2="19.00" stroke="#000" stroke-width="1.5"/><line x1="41.199999999999996" y1="51.11" x2="44.4" y2="51.11" stroke="#000" stroke-width="1.5"/><line x1="38.199999999999996" y1="83.22" x2="44.4" y2="83.22" stroke="#000" stroke-width="1.5"/><line x1="41.199999999999996" y1="115.33" x2="44.4" y2="115.33" stroke="#000" stroke-width="1.5"/><line x1="38.199999999999996" y1="147.44" x2="44.4" y2="147.44" stroke="#000" stroke-width="1.5"/><line x1="41.199999999999996" y1="179.55" x2="44.4" y2="179.55" stroke="#000" stroke-width="1.5"/><line x1="38.199999999999996" y1="211.66" x2="44.4" y2="211.66" stroke="#000" stroke-width="1.5"/><line x1="41.199999999999996" y1="243.77" x2="44.4" y2="243.77" stroke="#000" stroke-width="1.5"/><line x1="38.199999999999996" y1="275.88" x2="44.4" y2="275.88" stroke="#000" stroke-width="1.5"/><line x1="41.199999999999996" y1="307.99" x2="44.4" y2="307.99" stroke="#000" stroke-width="1.5"/><line x1="38.199999999999996" y1="340.10" x2="44.4" y2="340.10" stroke="#000" stroke-width="1.5"/><line x1="44.40" y1="340.1" x2="44.40" y2="346.5" stroke="#000" stroke-width="1.5"/><line x1="72.86" y1="340.1" x2="72.86" y2="343.1" stroke="#000" stroke-width="1.5"/><line x1="101.33" y1="340.1" x2="101.33" y2="346.5" stroke="#000" stroke-width="1.5"/><line x1="129.80" y1="340.1" x2="129.80" y2="343.1" stroke="#000" stroke-width="1.5"/><line x1="158.26" y1="340.1" x2="158.26" y2="346.5" stroke="#000" stroke-width="1.5"/><line x1="186.72" y1="340.1" x2="186.72" y2="343.1" stroke="#000" stroke-width="1.5"/><line x1="215.19" y1="340.1" x2="215.19" y2="346.5" stroke="#000" stroke-width="1.5"/><line x1="243.66" y1="340.1" x2="243.66" y2="343.1" stroke="#000" stroke-width="1.5"/><line x1="272.12" y1="340.1" x2="272.12" y2="346.5" stroke="#000" stroke-width="1.5"/><line x1="300.58" y1="340.1" x2="300.58" y2="343.1" stroke="#000" stroke-width="1.5"/><line x1="329.05" y1="340.1" x2="329.05" y2="346.5" stroke="#000" stroke-width="1.5"/><line x1="357.51" y1="340.1" x2="357.51" y2="343.1" stroke="#000" stroke-width="1.5"/><line x1="385.98" y1="340.1" x2="385.98" y2="346.5" stroke="#000" stroke-width="1.5"/><line x1="414.44" y1="340.1" x2="414.44" y2="343.1" stroke="#000" stroke-width="1.5"/><line x1="442.91" y1="340.1" x2="442.91" y2="346.5" stroke="#000" stroke-width="1.5"/>
<text x="44.40" y="367.3" text-anchor="middle" class="tk">10</text><text x="101.33" y="367.3" text-anchor="middle" class="tk">20</text><text x="158.26" y="367.3" text-anchor="middle" class="tk">30</text><text x="215.19" y="367.3" text-anchor="middle" class="tk">40</text><text x="272.12" y="367.3" text-anchor="middle" class="tk">50</text><text x="329.05" y="367.3" text-anchor="middle" class="tk">60</text><text x="385.98" y="367.3" text-anchor="middle" class="tk">70</text><text x="442.91" y="367.3" text-anchor="middle" class="tk">80</text>
<text class="tk" transform="translate(23.2,249.6) rotate(-90)">Intensity, a.u.</text>
<text class="tk" x="203.5" y="389.8">2Θ, degr.</text>
<text class="sf" x="262.8" y="415.6" style="font-size:20.8px">(<tspan font-weight="bold">a</tspan>)</text>
<g class="sf" style="font-size:16.7px">
<ellipse cx="349.4" cy="14.7" rx="5.1" ry="3.2" fill="#b4b4b4" stroke="#505050" stroke-width="1.1"/>
<text x="363.2" y="19.3">-</text><text x="381.3" y="19.3">C</text>
<ellipse cx="349" cy="36.4" rx="4.8" ry="3.1" fill="#fff" stroke="#444" stroke-width="1.1"/>
<text x="359.3" y="39.7">- MoO<tspan font-size="11px" dy="3.6">2</tspan><tspan dy="-3.6">[32-0671]</tspan></text>
<rect x="344.3" y="53.9" width="8.7" height="5.7" fill="#fff" stroke="#444" stroke-width="1.1"/>
<text x="358.8" y="61.8">- α<tspan dx="2">–</tspan>Mo<tspan font-size="11px" dy="3.6">2</tspan><tspan dy="-3.6">C [35-0787]</tspan></text>
<path d="M349.5,78.4 L352.8,84.8 L346.2,84.8 Z" fill="none" stroke="#a8a8a8" stroke-width="0.9"/>
<text x="359.8" y="88">- η-MoC [08-0384]</text>
</g>
<g class="sf" style="font-size:17.8px">
<text transform="translate(450.3,148.6) scale(0.915,1)">[R]/[Mo]</text><text transform="translate(515.2,148.6) scale(0.915,1)">= 9</text>
<text transform="translate(449.9,209.3) scale(0.915,1)">[R]/[Mo]</text><text transform="translate(517.4,209.3) scale(0.915,1)">= 7</text>
<text transform="translate(449.3,275.9) scale(0.915,1)">[R]/[Mo]</text><text transform="translate(517.4,275.9) scale(0.915,1)">= 5</text>
<text transform="translate(449.9,327.5) scale(0.915,1)">[R]/[Mo]</text><text transform="translate(518.3,327.5) scale(0.915,1)">= 4</text>
</g>
</svg>
</body></html>
